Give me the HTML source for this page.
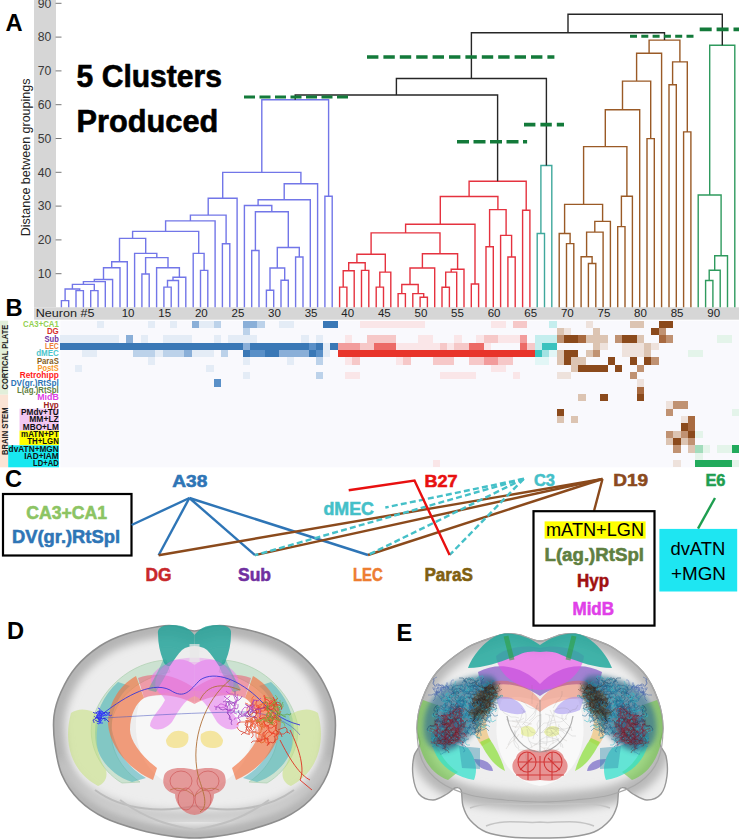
<!DOCTYPE html>
<html><head><meta charset="utf-8"><style>
html,body{margin:0;padding:0;background:#fff;width:739px;height:840px;overflow:hidden}
svg{display:block}
text{font-family:'Liberation Sans', sans-serif}
</style></head><body>
<svg width="739" height="840" viewBox="0 0 739 840">
<rect width="739" height="840" fill="#fff"/>
<rect x="34" y="0" width="22" height="307.3" fill="#d6d6d6"/>
<rect x="34" y="307.3" width="705" height="12.4" fill="#d6d6d6"/>
<path d="M55.6 273.7H61.5" stroke="#777" stroke-width="1"/>
<text x="51.3" y="278.0" font-size="12.2" fill="#3a3a3a" text-anchor="end">10</text>
<path d="M55.6 239.9H61.5" stroke="#777" stroke-width="1"/>
<text x="51.3" y="244.2" font-size="12.2" fill="#3a3a3a" text-anchor="end">20</text>
<path d="M55.6 206.1H61.5" stroke="#777" stroke-width="1"/>
<text x="51.3" y="210.4" font-size="12.2" fill="#3a3a3a" text-anchor="end">30</text>
<path d="M55.6 172.3H61.5" stroke="#777" stroke-width="1"/>
<text x="51.3" y="176.6" font-size="12.2" fill="#3a3a3a" text-anchor="end">40</text>
<path d="M55.6 138.5H61.5" stroke="#777" stroke-width="1"/>
<text x="51.3" y="142.8" font-size="12.2" fill="#3a3a3a" text-anchor="end">50</text>
<path d="M55.6 104.7H61.5" stroke="#777" stroke-width="1"/>
<text x="51.3" y="109.0" font-size="12.2" fill="#3a3a3a" text-anchor="end">60</text>
<path d="M55.6 70.9H61.5" stroke="#777" stroke-width="1"/>
<text x="51.3" y="75.2" font-size="12.2" fill="#3a3a3a" text-anchor="end">70</text>
<path d="M55.6 37.1H61.5" stroke="#777" stroke-width="1"/>
<text x="51.3" y="41.4" font-size="12.2" fill="#3a3a3a" text-anchor="end">80</text>
<path d="M55.6 3.3H61.5" stroke="#777" stroke-width="1"/>
<text x="51.3" y="7.6" font-size="12.2" fill="#3a3a3a" text-anchor="end">90</text>
<text transform="translate(29.5 236.2) rotate(-90)" font-size="12" fill="#222" textLength="157.6" lengthAdjust="spacingAndGlyphs">Distance between groupings</text>
<text x="35.7" y="317.4" font-size="11.5" fill="#222" textLength="58.9" lengthAdjust="spacingAndGlyphs">Neuron #5</text>
<text x="128.1" y="317.4" font-size="11.5" fill="#222" text-anchor="middle">10</text>
<text x="164.7" y="317.4" font-size="11.5" fill="#222" text-anchor="middle">15</text>
<text x="201.3" y="317.4" font-size="11.5" fill="#222" text-anchor="middle">20</text>
<text x="237.9" y="317.4" font-size="11.5" fill="#222" text-anchor="middle">25</text>
<text x="274.5" y="317.4" font-size="11.5" fill="#222" text-anchor="middle">30</text>
<text x="311.1" y="317.4" font-size="11.5" fill="#222" text-anchor="middle">35</text>
<text x="347.7" y="317.4" font-size="11.5" fill="#222" text-anchor="middle">40</text>
<text x="384.3" y="317.4" font-size="11.5" fill="#222" text-anchor="middle">45</text>
<text x="420.9" y="317.4" font-size="11.5" fill="#222" text-anchor="middle">50</text>
<text x="457.5" y="317.4" font-size="11.5" fill="#222" text-anchor="middle">55</text>
<text x="494.1" y="317.4" font-size="11.5" fill="#222" text-anchor="middle">60</text>
<text x="530.7" y="317.4" font-size="11.5" fill="#222" text-anchor="middle">65</text>
<text x="567.3" y="317.4" font-size="11.5" fill="#222" text-anchor="middle">70</text>
<text x="603.9" y="317.4" font-size="11.5" fill="#222" text-anchor="middle">75</text>
<text x="640.5" y="317.4" font-size="11.5" fill="#222" text-anchor="middle">80</text>
<text x="677.1" y="317.4" font-size="11.5" fill="#222" text-anchor="middle">85</text>
<text x="713.7" y="317.4" font-size="11.5" fill="#222" text-anchor="middle">90</text>
<text x="5.5" y="31.1" font-size="23.7" font-weight="bold" fill="#000">A</text>
<text x="76.6" y="87" font-size="30.7" font-weight="bold" fill="#000" stroke="#000" stroke-width="0.6" textLength="145.4" lengthAdjust="spacingAndGlyphs">5 Clusters</text>
<text x="76.6" y="131.6" font-size="30.7" font-weight="bold" fill="#000" stroke="#000" stroke-width="0.6" textLength="141.7" lengthAdjust="spacingAndGlyphs">Produced</text>
<g fill="none" stroke-width="1.4"><path d="M61.4 307.3V300.6H68.7V307.3" stroke="#7276e8"/>
<path d="M76.0 307.3V290.6H83.4V307.3" stroke="#7276e8"/>
<path d="M65.1 300.6V289.0H79.7V290.6" stroke="#7276e8"/>
<path d="M90.7 307.3V290.6H98.0V307.3" stroke="#7276e8"/>
<path d="M72.4 289.0V284.4H94.3V290.6" stroke="#7276e8"/>
<path d="M83.4 284.4V281.6H105.3V307.3" stroke="#7276e8"/>
<path d="M94.3 281.6V279.5H112.6V307.3" stroke="#7276e8"/>
<path d="M103.5 279.5V267.8H120.0V307.3" stroke="#7276e8"/>
<path d="M111.7 267.8V261.8H127.3V307.3" stroke="#7276e8"/>
<path d="M141.9 307.3V274.0H149.2V307.3" stroke="#7276e8"/>
<path d="M163.9 307.3V287.1H171.2V307.3" stroke="#7276e8"/>
<path d="M167.5 287.1V280.5H178.5V307.3" stroke="#7276e8"/>
<path d="M173.0 280.5V277.3H185.8V307.3" stroke="#7276e8"/>
<path d="M156.6 307.3V267.8H179.4V277.3" stroke="#7276e8"/>
<path d="M145.6 274.0V257.6H168.0V267.8" stroke="#7276e8"/>
<path d="M134.6 307.3V253.4H156.8V257.6" stroke="#7276e8"/>
<path d="M119.5 261.8V238.4H145.7V253.4" stroke="#7276e8"/>
<path d="M200.5 307.3V270.4H207.8V307.3" stroke="#7276e8"/>
<path d="M193.2 307.3V253.4H204.1V270.4" stroke="#7276e8"/>
<path d="M132.6 238.4V231.4H198.7V253.4" stroke="#7276e8"/>
<path d="M165.6 231.4V220.9H215.1V307.3" stroke="#7276e8"/>
<path d="M222.4 307.3V243.7H229.8V307.3" stroke="#7276e8"/>
<path d="M190.4 220.9V215.1H226.1V243.7" stroke="#7276e8"/>
<path d="M208.2 215.1V198.2H237.1V307.3" stroke="#7276e8"/>
<path d="M266.4 307.3V290.3H273.7V307.3" stroke="#7276e8"/>
<path d="M281.0 307.3V280.3H288.3V307.3" stroke="#7276e8"/>
<path d="M270.0 290.3V268.0H284.7V280.3" stroke="#7276e8"/>
<path d="M295.6 307.3V257.0H303.0V307.3" stroke="#7276e8"/>
<path d="M277.3 268.0V247.5H299.3V257.0" stroke="#7276e8"/>
<path d="M251.7 307.3V250.5H259.0V307.3" stroke="#7276e8"/>
<path d="M255.4 250.5V211.7H288.3V247.5" stroke="#7276e8"/>
<path d="M244.4 307.3V205.5H271.8V211.7" stroke="#7276e8"/>
<path d="M258.1 205.5V199.7H310.3V307.3" stroke="#7276e8"/>
<path d="M284.2 199.7V183.7H317.6V307.3" stroke="#7276e8"/>
<path d="M222.7 198.2V172.4H300.9V183.7" stroke="#7276e8"/>
<path d="M324.9 307.3V196.2H332.2V307.3" stroke="#7276e8"/>
<path d="M261.8 172.4V99.7H328.6V196.2" stroke="#7276e8"/>
<path d="M339.6 307.3V287.1H346.9V307.3" stroke="#e5323f"/>
<path d="M343.2 287.1V270.7H354.2V307.3" stroke="#e5323f"/>
<path d="M361.5 307.3V270.4H368.8V307.3" stroke="#e5323f"/>
<path d="M348.7 270.7V262.7H365.2V270.4" stroke="#e5323f"/>
<path d="M376.2 307.3V287.1H383.5V307.3" stroke="#e5323f"/>
<path d="M379.8 287.1V272.1H390.8V307.3" stroke="#e5323f"/>
<path d="M356.9 262.7V254.3H385.3V272.1" stroke="#e5323f"/>
<path d="M398.1 307.3V293.6H405.4V307.3" stroke="#e5323f"/>
<path d="M420.1 307.3V297.2H427.4V307.3" stroke="#e5323f"/>
<path d="M412.8 307.3V293.6H423.7V297.2" stroke="#e5323f"/>
<path d="M401.8 293.6V284.5H418.2V293.6" stroke="#e5323f"/>
<path d="M410.0 284.5V268.0H434.7V307.3" stroke="#e5323f"/>
<path d="M442.0 307.3V287.3H449.4V307.3" stroke="#e5323f"/>
<path d="M445.7 287.3V272.1H456.7V307.3" stroke="#e5323f"/>
<path d="M451.2 272.1V269.3H464.0V307.3" stroke="#e5323f"/>
<path d="M422.4 268.0V253.8H457.6V269.3" stroke="#e5323f"/>
<path d="M371.1 254.3V232.9H440.0V253.8" stroke="#e5323f"/>
<path d="M471.3 307.3V284.0H478.6V307.3" stroke="#e5323f"/>
<path d="M405.6 232.9V224.2H475.0V284.0" stroke="#e5323f"/>
<path d="M486.0 307.3V246.7H493.3V307.3" stroke="#e5323f"/>
<path d="M507.9 307.3V257.0H515.2V307.3" stroke="#e5323f"/>
<path d="M500.6 307.3V235.4H511.6V257.0" stroke="#e5323f"/>
<path d="M489.6 246.7V209.6H506.1V235.4" stroke="#e5323f"/>
<path d="M440.3 224.2V196.5H497.9V209.6" stroke="#e5323f"/>
<path d="M522.6 307.3V210.2H529.9V307.3" stroke="#e5323f"/>
<path d="M469.1 196.5V181.2H526.2V210.2" stroke="#e5323f"/>
<path d="M537.2 307.3V233.5H544.5V307.3" stroke="#3fa89c"/>
<path d="M540.9 233.5V165.5H551.8V307.3" stroke="#3fa89c"/>
<path d="M566.5 307.3V243.6H573.8V307.3" stroke="#9a5a26"/>
<path d="M559.2 307.3V233.5H570.1V243.6" stroke="#9a5a26"/>
<path d="M588.4 307.3V263.5H595.8V307.3" stroke="#9a5a26"/>
<path d="M581.1 307.3V256.8H592.1V263.5" stroke="#9a5a26"/>
<path d="M586.6 256.8V232.1H603.1V307.3" stroke="#9a5a26"/>
<path d="M594.8 232.1V221.4H610.4V307.3" stroke="#9a5a26"/>
<path d="M564.6 233.5V204.4H602.6V221.4" stroke="#9a5a26"/>
<path d="M617.7 307.3V226.6H625.0V307.3" stroke="#9a5a26"/>
<path d="M621.4 226.6V196.3H632.4V307.3" stroke="#9a5a26"/>
<path d="M583.6 204.4V146.6H626.9V196.3" stroke="#9a5a26"/>
<path d="M605.3 146.6V109.8H639.7V307.3" stroke="#9a5a26"/>
<path d="M647.0 307.3V138.6H654.3V307.3" stroke="#9a5a26"/>
<path d="M622.5 109.8V81.1H650.7V138.6" stroke="#9a5a26"/>
<path d="M636.6 81.1V53.3H661.6V307.3" stroke="#9a5a26"/>
<path d="M669.0 307.3V84.8H676.3V307.3" stroke="#9a5a26"/>
<path d="M683.6 307.3V131.9H690.9V307.3" stroke="#9a5a26"/>
<path d="M672.6 84.8V61.9H687.3V131.9" stroke="#9a5a26"/>
<path d="M649.1 53.3V40.1H679.9V61.9" stroke="#9a5a26"/>
<path d="M705.6 307.3V280.5H712.9V307.3" stroke="#2f9a5e"/>
<path d="M709.2 280.5V270.3H720.2V307.3" stroke="#2f9a5e"/>
<path d="M714.7 270.3V255.8H727.5V307.3" stroke="#2f9a5e"/>
<path d="M698.2 307.3V195.0H721.1V255.8" stroke="#2f9a5e"/>
<path d="M709.7 195.0V45.3H734.8V307.3" stroke="#2f9a5e"/>
<path d="M295.2 99.7V95.0H497.6V181.2" stroke="#262626"/>
<path d="M396.4 95.0V78.5H546.4V165.5" stroke="#262626"/>
<path d="M471.4 78.5V32.8H664.5V40.1" stroke="#262626"/>
<path d="M568.0 32.8V14.3H722.3V45.3" stroke="#262626"/></g>
<g stroke="#137a3a" fill="none">
<path d="M244 97.1H351" stroke-width="3.0" stroke-dasharray="11 4.5"/>
<path d="M367 57H554.4" stroke-width="3.6" stroke-dasharray="11.4 5"/>
<path d="M524 124.6H564" stroke-width="3.6" stroke-dasharray="11.4 5"/>
<path d="M457 141.8H527.1" stroke-width="3.6" stroke-dasharray="12 4.5"/>
<path d="M630 36.2H694" stroke-width="2.9" stroke-dasharray="7 4.3"/>
<path d="M699.7 29.4H739" stroke-width="3.9" stroke-dasharray="12 4.9"/>
</g>
<rect x="60.4" y="320.7" width="678.6" height="146.6" fill="#f9f9fd"/>
<text x="5.5" y="315.8" font-size="23.7" font-weight="bold" fill="#000">B</text>
<rect x="0" y="320.7" width="8.1" height="74.0" fill="#e2efda"/>
<rect x="0" y="394.7" width="8.1" height="72.6" fill="#fbe4d5"/>
<rect x="19.5" y="408.7" width="39.5" height="22.0" fill="#f2c8f2"/>
<rect x="19.5" y="430.6" width="39.5" height="14.7" fill="#ffff00"/>
<rect x="8.2" y="445.3" width="50.8" height="22.0" fill="#18e8f0"/>
<text transform="translate(8 389.4) rotate(-90)" font-size="8.8" font-weight="bold" fill="#222" textLength="64.7" lengthAdjust="spacingAndGlyphs">CORTICAL PLATE</text>
<text transform="translate(8 455) rotate(-90)" font-size="8.8" font-weight="bold" fill="#222" textLength="47.5" lengthAdjust="spacingAndGlyphs">BRAIN STEM</text>
<text x="23.1" y="327.0" font-size="8.6" font-weight="bold" fill="#92d050" textLength="35.7" lengthAdjust="spacingAndGlyphs">CA3+CA1</text>
<text x="46.9" y="334.3" font-size="8.6" font-weight="bold" fill="#d9302c" textLength="11.9" lengthAdjust="spacingAndGlyphs">DG</text>
<text x="44.5" y="341.7" font-size="8.6" font-weight="bold" fill="#7030a0" textLength="14.3" lengthAdjust="spacingAndGlyphs">Sub</text>
<text x="45.0" y="349.0" font-size="8.6" font-weight="bold" fill="#ed7d31" textLength="13.8" lengthAdjust="spacingAndGlyphs">LEC</text>
<text x="36.2" y="356.3" font-size="8.6" font-weight="bold" fill="#4bc6cc" textLength="22.6" lengthAdjust="spacingAndGlyphs">dMEC</text>
<text x="36.9" y="363.6" font-size="8.6" font-weight="bold" fill="#846019" textLength="21.9" lengthAdjust="spacingAndGlyphs">ParaS</text>
<text x="37.6" y="371.0" font-size="8.6" font-weight="bold" fill="#f79a28" textLength="21.2" lengthAdjust="spacingAndGlyphs">PostS</text>
<text x="19.7" y="378.3" font-size="8.6" font-weight="bold" fill="#ff1a1a" textLength="39.1" lengthAdjust="spacingAndGlyphs">Retrohipp</text>
<text x="10.7" y="385.6" font-size="8.6" font-weight="bold" fill="#2e75b6" textLength="48.1" lengthAdjust="spacingAndGlyphs">DV(gr.)RtSpl</text>
<text x="16.9" y="393.0" font-size="8.6" font-weight="bold" fill="#5f7f41" textLength="41.9" lengthAdjust="spacingAndGlyphs">L(ag.)RtSpl</text>
<text x="37.3" y="400.3" font-size="8.6" font-weight="bold" fill="#e040e8" textLength="21.5" lengthAdjust="spacingAndGlyphs">MidB</text>
<text x="43.6" y="407.6" font-size="8.6" font-weight="bold" fill="#a02020" textLength="15.2" lengthAdjust="spacingAndGlyphs">Hyp</text>
<text x="21.1" y="415.0" font-size="8.6" font-weight="bold" fill="#111" textLength="37.7" lengthAdjust="spacingAndGlyphs">PMdv+TU</text>
<text x="29.3" y="422.3" font-size="8.6" font-weight="bold" fill="#111" textLength="29.5" lengthAdjust="spacingAndGlyphs">MM+LZ</text>
<text x="22.8" y="429.6" font-size="8.6" font-weight="bold" fill="#111" textLength="36" lengthAdjust="spacingAndGlyphs">MBO+LM</text>
<text x="21.1" y="436.9" font-size="8.6" font-weight="bold" fill="#111" textLength="37.7" lengthAdjust="spacingAndGlyphs">mATN+PT</text>
<text x="27.3" y="444.3" font-size="8.6" font-weight="bold" fill="#111" textLength="31.5" lengthAdjust="spacingAndGlyphs">TH+LGN</text>
<text x="8.6" y="451.6" font-size="8.6" font-weight="bold" fill="#111" textLength="50.2" lengthAdjust="spacingAndGlyphs">dvATN+MGN</text>
<text x="24.3" y="458.9" font-size="8.6" font-weight="bold" fill="#111" textLength="34.5" lengthAdjust="spacingAndGlyphs">IAD+IAM</text>
<text x="33.1" y="466.3" font-size="8.6" font-weight="bold" fill="#111" textLength="25.7" lengthAdjust="spacingAndGlyphs">LD+AD</text>
<rect x="96.88" y="320.70" width="7.30" height="7.33" fill="#e4ecf6" shape-rendering="crispEdges"/>
<rect x="147.96" y="320.70" width="7.30" height="7.33" fill="#e4ecf6" shape-rendering="crispEdges"/>
<rect x="169.85" y="320.70" width="7.30" height="7.33" fill="#e4ecf6" shape-rendering="crispEdges"/>
<rect x="191.75" y="320.70" width="7.30" height="7.33" fill="#8aafd8" shape-rendering="crispEdges"/>
<rect x="199.04" y="320.70" width="14.59" height="7.33" fill="#e4ecf6" shape-rendering="crispEdges"/>
<rect x="213.64" y="320.70" width="7.30" height="7.33" fill="#bcd2ea" shape-rendering="crispEdges"/>
<rect x="242.82" y="320.70" width="14.59" height="7.33" fill="#8aafd8" shape-rendering="crispEdges"/>
<rect x="257.42" y="320.70" width="7.30" height="7.33" fill="#bcd2ea" shape-rendering="crispEdges"/>
<rect x="279.31" y="320.70" width="14.59" height="7.33" fill="#e4ecf6" shape-rendering="crispEdges"/>
<rect x="323.09" y="320.70" width="14.59" height="7.33" fill="#3a78b6" shape-rendering="crispEdges"/>
<rect x="359.58" y="320.70" width="65.67" height="7.33" fill="#fae6e8" shape-rendering="crispEdges"/>
<rect x="490.92" y="320.70" width="14.59" height="7.33" fill="#fae6e8" shape-rendering="crispEdges"/>
<rect x="512.81" y="320.70" width="14.59" height="7.33" fill="#f6c8c8" shape-rendering="crispEdges"/>
<rect x="549.30" y="320.70" width="7.30" height="7.33" fill="#c4eeee" shape-rendering="crispEdges"/>
<rect x="585.78" y="320.70" width="7.30" height="7.33" fill="#eee2dc" shape-rendering="crispEdges"/>
<rect x="629.57" y="320.70" width="14.59" height="7.33" fill="#dcc4b2" shape-rendering="crispEdges"/>
<rect x="658.75" y="320.70" width="14.59" height="7.33" fill="#8b4a1c" shape-rendering="crispEdges"/>
<rect x="242.82" y="328.03" width="7.30" height="7.33" fill="#bcd2ea" shape-rendering="crispEdges"/>
<rect x="556.60" y="328.03" width="7.30" height="7.33" fill="#dcc4b2" shape-rendering="crispEdges"/>
<rect x="563.89" y="328.03" width="7.30" height="7.33" fill="#eee2dc" shape-rendering="crispEdges"/>
<rect x="593.08" y="328.03" width="7.30" height="7.33" fill="#dcc4b2" shape-rendering="crispEdges"/>
<rect x="651.46" y="328.03" width="7.30" height="7.33" fill="#8b4a1c" shape-rendering="crispEdges"/>
<rect x="658.75" y="328.03" width="7.30" height="7.33" fill="#c09272" shape-rendering="crispEdges"/>
<rect x="60.40" y="335.36" width="58.38" height="7.33" fill="#e4ecf6" shape-rendering="crispEdges"/>
<rect x="126.07" y="335.36" width="7.30" height="7.33" fill="#8aafd8" shape-rendering="crispEdges"/>
<rect x="140.67" y="335.36" width="7.30" height="7.33" fill="#e4ecf6" shape-rendering="crispEdges"/>
<rect x="162.56" y="335.36" width="29.19" height="7.33" fill="#e4ecf6" shape-rendering="crispEdges"/>
<rect x="213.64" y="335.36" width="7.30" height="7.33" fill="#e4ecf6" shape-rendering="crispEdges"/>
<rect x="228.23" y="335.36" width="29.19" height="7.33" fill="#e4ecf6" shape-rendering="crispEdges"/>
<rect x="301.20" y="335.36" width="7.30" height="7.33" fill="#e4ecf6" shape-rendering="crispEdges"/>
<rect x="315.79" y="335.36" width="7.30" height="7.33" fill="#e4ecf6" shape-rendering="crispEdges"/>
<rect x="344.98" y="335.36" width="7.30" height="7.33" fill="#fae6e8" shape-rendering="crispEdges"/>
<rect x="366.87" y="335.36" width="29.19" height="7.33" fill="#f6c8c8" shape-rendering="crispEdges"/>
<rect x="417.95" y="335.36" width="14.59" height="7.33" fill="#fae6e8" shape-rendering="crispEdges"/>
<rect x="454.44" y="335.36" width="7.30" height="7.33" fill="#fae6e8" shape-rendering="crispEdges"/>
<rect x="476.33" y="335.36" width="7.30" height="7.33" fill="#fae6e8" shape-rendering="crispEdges"/>
<rect x="483.63" y="335.36" width="14.59" height="7.33" fill="#f6c8c8" shape-rendering="crispEdges"/>
<rect x="498.22" y="335.36" width="21.89" height="7.33" fill="#fae6e8" shape-rendering="crispEdges"/>
<rect x="520.11" y="335.36" width="7.30" height="7.33" fill="#f29c9c" shape-rendering="crispEdges"/>
<rect x="534.71" y="335.36" width="21.89" height="7.33" fill="#c4eeee" shape-rendering="crispEdges"/>
<rect x="556.60" y="335.36" width="7.30" height="7.33" fill="#c09272" shape-rendering="crispEdges"/>
<rect x="563.89" y="335.36" width="14.59" height="7.33" fill="#8b4a1c" shape-rendering="crispEdges"/>
<rect x="578.49" y="335.36" width="7.30" height="7.33" fill="#a86a40" shape-rendering="crispEdges"/>
<rect x="585.78" y="335.36" width="21.89" height="7.33" fill="#dcc4b2" shape-rendering="crispEdges"/>
<rect x="614.97" y="335.36" width="7.30" height="7.33" fill="#c09272" shape-rendering="crispEdges"/>
<rect x="622.27" y="335.36" width="14.59" height="7.33" fill="#8b4a1c" shape-rendering="crispEdges"/>
<rect x="636.86" y="335.36" width="7.30" height="7.33" fill="#dcc4b2" shape-rendering="crispEdges"/>
<rect x="658.75" y="335.36" width="7.30" height="7.33" fill="#a86a40" shape-rendering="crispEdges"/>
<rect x="666.05" y="335.36" width="7.30" height="7.33" fill="#c09272" shape-rendering="crispEdges"/>
<rect x="717.13" y="335.36" width="14.59" height="7.33" fill="#e4f4ea" shape-rendering="crispEdges"/>
<rect x="60.40" y="342.69" width="182.42" height="7.33" fill="#3a78b6" shape-rendering="crispEdges"/>
<rect x="242.82" y="342.69" width="7.30" height="7.33" fill="#8aafd8" shape-rendering="crispEdges"/>
<rect x="250.12" y="342.69" width="58.38" height="7.33" fill="#3a78b6" shape-rendering="crispEdges"/>
<rect x="308.50" y="342.69" width="7.30" height="7.33" fill="#5a90c8" shape-rendering="crispEdges"/>
<rect x="315.79" y="342.69" width="7.30" height="7.33" fill="#3a78b6" shape-rendering="crispEdges"/>
<rect x="323.09" y="342.69" width="7.30" height="7.33" fill="#e4ecf6" shape-rendering="crispEdges"/>
<rect x="330.39" y="342.69" width="7.30" height="7.33" fill="#3a78b6" shape-rendering="crispEdges"/>
<rect x="337.69" y="342.69" width="21.89" height="7.33" fill="#f29c9c" shape-rendering="crispEdges"/>
<rect x="359.58" y="342.69" width="14.59" height="7.33" fill="#f6c8c8" shape-rendering="crispEdges"/>
<rect x="374.17" y="342.69" width="21.89" height="7.33" fill="#ec6a66" shape-rendering="crispEdges"/>
<rect x="396.06" y="342.69" width="43.78" height="7.33" fill="#fae6e8" shape-rendering="crispEdges"/>
<rect x="439.84" y="342.69" width="7.30" height="7.33" fill="#f6c8c8" shape-rendering="crispEdges"/>
<rect x="447.14" y="342.69" width="7.30" height="7.33" fill="#fae6e8" shape-rendering="crispEdges"/>
<rect x="454.44" y="342.69" width="14.59" height="7.33" fill="#f6c8c8" shape-rendering="crispEdges"/>
<rect x="469.03" y="342.69" width="14.59" height="7.33" fill="#ec6a66" shape-rendering="crispEdges"/>
<rect x="483.63" y="342.69" width="7.30" height="7.33" fill="#fae6e8" shape-rendering="crispEdges"/>
<rect x="520.11" y="342.69" width="7.30" height="7.33" fill="#ec6a66" shape-rendering="crispEdges"/>
<rect x="527.41" y="342.69" width="7.30" height="7.33" fill="#f6c8c8" shape-rendering="crispEdges"/>
<rect x="534.71" y="342.69" width="7.30" height="7.33" fill="#c4eeee" shape-rendering="crispEdges"/>
<rect x="542.00" y="342.69" width="14.59" height="7.33" fill="#3ac2be" shape-rendering="crispEdges"/>
<rect x="593.08" y="342.69" width="7.30" height="7.33" fill="#dcc4b2" shape-rendering="crispEdges"/>
<rect x="600.38" y="342.69" width="7.30" height="7.33" fill="#eee2dc" shape-rendering="crispEdges"/>
<rect x="622.27" y="342.69" width="21.89" height="7.33" fill="#eee2dc" shape-rendering="crispEdges"/>
<rect x="644.16" y="342.69" width="7.30" height="7.33" fill="#dcc4b2" shape-rendering="crispEdges"/>
<rect x="651.46" y="342.69" width="7.30" height="7.33" fill="#eee2dc" shape-rendering="crispEdges"/>
<rect x="82.29" y="350.02" width="14.59" height="7.33" fill="#e4ecf6" shape-rendering="crispEdges"/>
<rect x="133.37" y="350.02" width="21.89" height="7.33" fill="#bcd2ea" shape-rendering="crispEdges"/>
<rect x="155.26" y="350.02" width="7.30" height="7.33" fill="#e4ecf6" shape-rendering="crispEdges"/>
<rect x="162.56" y="350.02" width="21.89" height="7.33" fill="#bcd2ea" shape-rendering="crispEdges"/>
<rect x="184.45" y="350.02" width="7.30" height="7.33" fill="#8aafd8" shape-rendering="crispEdges"/>
<rect x="191.75" y="350.02" width="21.89" height="7.33" fill="#e4ecf6" shape-rendering="crispEdges"/>
<rect x="220.93" y="350.02" width="7.30" height="7.33" fill="#bcd2ea" shape-rendering="crispEdges"/>
<rect x="242.82" y="350.02" width="7.30" height="7.33" fill="#3a78b6" shape-rendering="crispEdges"/>
<rect x="250.12" y="350.02" width="14.59" height="7.33" fill="#5a90c8" shape-rendering="crispEdges"/>
<rect x="264.72" y="350.02" width="14.59" height="7.33" fill="#3a78b6" shape-rendering="crispEdges"/>
<rect x="279.31" y="350.02" width="29.19" height="7.33" fill="#8aafd8" shape-rendering="crispEdges"/>
<rect x="308.50" y="350.02" width="7.30" height="7.33" fill="#3a78b6" shape-rendering="crispEdges"/>
<rect x="315.79" y="350.02" width="7.30" height="7.33" fill="#5a90c8" shape-rendering="crispEdges"/>
<rect x="323.09" y="350.02" width="7.30" height="7.33" fill="#e4ecf6" shape-rendering="crispEdges"/>
<rect x="337.69" y="350.02" width="197.02" height="7.33" fill="#e8342a" shape-rendering="crispEdges"/>
<rect x="534.71" y="350.02" width="7.30" height="7.33" fill="#3ac2be" shape-rendering="crispEdges"/>
<rect x="542.00" y="350.02" width="7.30" height="7.33" fill="#a2e2e2" shape-rendering="crispEdges"/>
<rect x="549.30" y="350.02" width="7.30" height="7.33" fill="#e2f6f6" shape-rendering="crispEdges"/>
<rect x="556.60" y="350.02" width="7.30" height="7.33" fill="#dcc4b2" shape-rendering="crispEdges"/>
<rect x="563.89" y="350.02" width="14.59" height="7.33" fill="#8b4a1c" shape-rendering="crispEdges"/>
<rect x="585.78" y="350.02" width="7.30" height="7.33" fill="#dcc4b2" shape-rendering="crispEdges"/>
<rect x="593.08" y="350.02" width="7.30" height="7.33" fill="#c09272" shape-rendering="crispEdges"/>
<rect x="622.27" y="350.02" width="21.89" height="7.33" fill="#eee2dc" shape-rendering="crispEdges"/>
<rect x="644.16" y="350.02" width="7.30" height="7.33" fill="#dcc4b2" shape-rendering="crispEdges"/>
<rect x="687.94" y="350.02" width="14.59" height="7.33" fill="#e4f4ea" shape-rendering="crispEdges"/>
<rect x="147.96" y="357.35" width="7.30" height="7.33" fill="#e4ecf6" shape-rendering="crispEdges"/>
<rect x="242.82" y="357.35" width="7.30" height="7.33" fill="#e4ecf6" shape-rendering="crispEdges"/>
<rect x="286.61" y="357.35" width="7.30" height="7.33" fill="#e4ecf6" shape-rendering="crispEdges"/>
<rect x="315.79" y="357.35" width="7.30" height="7.33" fill="#bcd2ea" shape-rendering="crispEdges"/>
<rect x="344.98" y="357.35" width="7.30" height="7.33" fill="#fae6e8" shape-rendering="crispEdges"/>
<rect x="352.28" y="357.35" width="7.30" height="7.33" fill="#f6c8c8" shape-rendering="crispEdges"/>
<rect x="396.06" y="357.35" width="7.30" height="7.33" fill="#fae6e8" shape-rendering="crispEdges"/>
<rect x="403.36" y="357.35" width="7.30" height="7.33" fill="#f6c8c8" shape-rendering="crispEdges"/>
<rect x="432.55" y="357.35" width="21.89" height="7.33" fill="#f6c8c8" shape-rendering="crispEdges"/>
<rect x="469.03" y="357.35" width="14.59" height="7.33" fill="#f6c8c8" shape-rendering="crispEdges"/>
<rect x="483.63" y="357.35" width="14.59" height="7.33" fill="#f29c9c" shape-rendering="crispEdges"/>
<rect x="498.22" y="357.35" width="14.59" height="7.33" fill="#f6c8c8" shape-rendering="crispEdges"/>
<rect x="534.71" y="357.35" width="14.59" height="7.33" fill="#e2f6f6" shape-rendering="crispEdges"/>
<rect x="556.60" y="357.35" width="7.30" height="7.33" fill="#dcc4b2" shape-rendering="crispEdges"/>
<rect x="563.89" y="357.35" width="7.30" height="7.33" fill="#8b4a1c" shape-rendering="crispEdges"/>
<rect x="571.19" y="357.35" width="14.59" height="7.33" fill="#dcc4b2" shape-rendering="crispEdges"/>
<rect x="607.67" y="357.35" width="7.30" height="7.33" fill="#8b4a1c" shape-rendering="crispEdges"/>
<rect x="629.57" y="357.35" width="7.30" height="7.33" fill="#8b4a1c" shape-rendering="crispEdges"/>
<rect x="644.16" y="357.35" width="7.30" height="7.33" fill="#8b4a1c" shape-rendering="crispEdges"/>
<rect x="651.46" y="357.35" width="7.30" height="7.33" fill="#c09272" shape-rendering="crispEdges"/>
<rect x="74.99" y="364.68" width="7.30" height="7.33" fill="#e4ecf6" shape-rendering="crispEdges"/>
<rect x="206.34" y="364.68" width="7.30" height="7.33" fill="#e4ecf6" shape-rendering="crispEdges"/>
<rect x="490.92" y="364.68" width="14.59" height="7.33" fill="#fae6e8" shape-rendering="crispEdges"/>
<rect x="571.19" y="364.68" width="7.30" height="7.33" fill="#dcc4b2" shape-rendering="crispEdges"/>
<rect x="578.49" y="364.68" width="29.19" height="7.33" fill="#8b4a1c" shape-rendering="crispEdges"/>
<rect x="614.97" y="364.68" width="7.30" height="7.33" fill="#8b4a1c" shape-rendering="crispEdges"/>
<rect x="636.86" y="364.68" width="7.30" height="7.33" fill="#c09272" shape-rendering="crispEdges"/>
<rect x="242.82" y="372.01" width="7.30" height="7.33" fill="#e4ecf6" shape-rendering="crispEdges"/>
<rect x="315.79" y="372.01" width="7.30" height="7.33" fill="#bcd2ea" shape-rendering="crispEdges"/>
<rect x="344.98" y="372.01" width="14.59" height="7.33" fill="#fae6e8" shape-rendering="crispEdges"/>
<rect x="439.84" y="372.01" width="36.48" height="7.33" fill="#fae6e8" shape-rendering="crispEdges"/>
<rect x="512.81" y="372.01" width="7.30" height="7.33" fill="#fae6e8" shape-rendering="crispEdges"/>
<rect x="556.60" y="372.01" width="14.59" height="7.33" fill="#eee2dc" shape-rendering="crispEdges"/>
<rect x="629.57" y="372.01" width="7.30" height="7.33" fill="#c09272" shape-rendering="crispEdges"/>
<rect x="213.64" y="379.34" width="7.30" height="7.33" fill="#5a90c8" shape-rendering="crispEdges"/>
<rect x="636.86" y="379.34" width="7.30" height="7.33" fill="#eee2dc" shape-rendering="crispEdges"/>
<rect x="636.86" y="386.67" width="7.30" height="7.33" fill="#a86a40" shape-rendering="crispEdges"/>
<rect x="578.49" y="394.00" width="7.30" height="7.33" fill="#dcc4b2" shape-rendering="crispEdges"/>
<rect x="600.38" y="394.00" width="7.30" height="7.33" fill="#8b4a1c" shape-rendering="crispEdges"/>
<rect x="636.86" y="394.00" width="7.30" height="7.33" fill="#8b4a1c" shape-rendering="crispEdges"/>
<rect x="666.05" y="401.33" width="7.30" height="7.33" fill="#eee2dc" shape-rendering="crispEdges"/>
<rect x="673.35" y="401.33" width="14.59" height="7.33" fill="#c09272" shape-rendering="crispEdges"/>
<rect x="556.60" y="408.66" width="7.30" height="7.33" fill="#8b4a1c" shape-rendering="crispEdges"/>
<rect x="666.05" y="408.66" width="7.30" height="7.33" fill="#c09272" shape-rendering="crispEdges"/>
<rect x="731.72" y="408.66" width="7.30" height="7.33" fill="#e4f4ea" shape-rendering="crispEdges"/>
<rect x="556.60" y="415.99" width="7.30" height="7.33" fill="#dcc4b2" shape-rendering="crispEdges"/>
<rect x="571.19" y="415.99" width="7.30" height="7.33" fill="#dcc4b2" shape-rendering="crispEdges"/>
<rect x="680.64" y="415.99" width="7.30" height="7.33" fill="#eee2dc" shape-rendering="crispEdges"/>
<rect x="687.94" y="415.99" width="7.30" height="7.33" fill="#a86a40" shape-rendering="crispEdges"/>
<rect x="680.64" y="423.32" width="7.30" height="7.33" fill="#8b4a1c" shape-rendering="crispEdges"/>
<rect x="687.94" y="423.32" width="7.30" height="7.33" fill="#a86a40" shape-rendering="crispEdges"/>
<rect x="666.05" y="430.65" width="7.30" height="7.33" fill="#c09272" shape-rendering="crispEdges"/>
<rect x="673.35" y="430.65" width="7.30" height="7.33" fill="#dcc4b2" shape-rendering="crispEdges"/>
<rect x="680.64" y="430.65" width="7.30" height="7.33" fill="#c09272" shape-rendering="crispEdges"/>
<rect x="687.94" y="430.65" width="7.30" height="7.33" fill="#8b4a1c" shape-rendering="crispEdges"/>
<rect x="695.24" y="430.65" width="7.30" height="7.33" fill="#e4f4ea" shape-rendering="crispEdges"/>
<rect x="666.05" y="437.98" width="7.30" height="7.33" fill="#dcc4b2" shape-rendering="crispEdges"/>
<rect x="673.35" y="437.98" width="7.30" height="7.33" fill="#8b4a1c" shape-rendering="crispEdges"/>
<rect x="680.64" y="437.98" width="7.30" height="7.33" fill="#dcc4b2" shape-rendering="crispEdges"/>
<rect x="687.94" y="437.98" width="7.30" height="7.33" fill="#c09272" shape-rendering="crispEdges"/>
<rect x="673.35" y="445.31" width="7.30" height="7.33" fill="#c09272" shape-rendering="crispEdges"/>
<rect x="687.94" y="445.31" width="7.30" height="7.33" fill="#dcc4b2" shape-rendering="crispEdges"/>
<rect x="695.24" y="445.31" width="7.30" height="7.33" fill="#a2dcbc" shape-rendering="crispEdges"/>
<rect x="702.54" y="445.31" width="7.30" height="7.33" fill="#e4f4ea" shape-rendering="crispEdges"/>
<rect x="717.13" y="445.31" width="14.59" height="7.33" fill="#e4f4ea" shape-rendering="crispEdges"/>
<rect x="731.72" y="445.31" width="7.30" height="7.33" fill="#22aa5c" shape-rendering="crispEdges"/>
<rect x="695.24" y="452.64" width="7.30" height="7.33" fill="#e4f4ea" shape-rendering="crispEdges"/>
<rect x="432.55" y="459.97" width="7.30" height="7.33" fill="#fae6e8" shape-rendering="crispEdges"/>
<rect x="673.35" y="459.97" width="7.30" height="7.33" fill="#eee2dc" shape-rendering="crispEdges"/>
<rect x="695.24" y="459.97" width="36.48" height="7.33" fill="#22aa5c" shape-rendering="crispEdges"/>
<rect x="731.72" y="459.97" width="7.30" height="7.33" fill="#e4f4ea" shape-rendering="crispEdges"/>
<text x="5" y="487" font-size="23.7" font-weight="bold" fill="#000">C</text>
<rect x="3" y="494" width="128.5" height="61.5" fill="none" stroke="#000" stroke-width="2.2"/>
<text x="26.2" y="519" font-size="17.8" font-weight="bold" fill="#8cc463" stroke="#8cc463" stroke-width="0.55" textLength="80.8" lengthAdjust="spacingAndGlyphs">CA3+CA1</text>
<text x="12" y="542.5" font-size="17.8" font-weight="bold" fill="#2e75b6" stroke="#2e75b6" stroke-width="0.55" textLength="108" lengthAdjust="spacingAndGlyphs">DV(gr.)RtSpl</text>
<path d="M189.4 498L131.6 525" stroke="#2e75b6" stroke-width="2.4" fill="none"/>
<path d="M189.4 498L158.6 555.2" stroke="#2e75b6" stroke-width="2.4" fill="none"/>
<path d="M189.4 498L255 555.2" stroke="#2e75b6" stroke-width="2.4" fill="none"/>
<path d="M189.4 498L368 555" stroke="#2e75b6" stroke-width="2.4" fill="none"/>
<path d="M602.5 479L158.6 555.2" stroke="#8b4a1c" stroke-width="2.4" fill="none"/>
<path d="M602.5 479L255 555.2" stroke="#8b4a1c" stroke-width="2.4" fill="none"/>
<path d="M602.5 479L368 555" stroke="#8b4a1c" stroke-width="2.4" fill="none"/>
<path d="M602.5 479L594 511" stroke="#8b4a1c" stroke-width="2.4" fill="none"/>
<path d="M523.8 478.8L385.3 507.5" stroke="#45c0c8" stroke-width="2.4" fill="none" stroke-dasharray="6 3.2"/>
<path d="M523.8 478.8L255 555.2" stroke="#45c0c8" stroke-width="2.4" fill="none" stroke-dasharray="6 3.2"/>
<path d="M523.8 478.8L368 555" stroke="#45c0c8" stroke-width="2.4" fill="none" stroke-dasharray="6 3.2"/>
<path d="M523.8 478.8L449.6 555" stroke="#45c0c8" stroke-width="2.4" fill="none" stroke-dasharray="6 3.2"/>
<path d="M348.7 490.2L414.5 480.6L449.6 555" stroke="#e81010" stroke-width="2.4" fill="none"/>
<path d="M715 498L698 528.6" stroke="#1e9e50" stroke-width="2.4"/>
<text x="172.2" y="486.6" font-size="16.5" font-weight="bold" stroke="#2e75b6" stroke-width="0.55" fill="#2e75b6" textLength="35.1" lengthAdjust="spacingAndGlyphs">A38</text>
<text x="424.4" y="487.4" font-size="16.5" font-weight="bold" stroke="#e81010" stroke-width="0.55" fill="#e81010" textLength="33.1" lengthAdjust="spacingAndGlyphs">B27</text>
<text x="534" y="486" font-size="16.5" font-weight="bold" stroke="#45c0c8" stroke-width="0.55" fill="#45c0c8" textLength="21.0" lengthAdjust="spacingAndGlyphs">C3</text>
<text x="613.2" y="486" font-size="16.5" font-weight="bold" stroke="#8b4a1c" stroke-width="0.55" fill="#8b4a1c" textLength="34.9" lengthAdjust="spacingAndGlyphs">D19</text>
<text x="705.4" y="486" font-size="16.5" font-weight="bold" stroke="#1e9e50" stroke-width="0.55" fill="#1e9e50" textLength="20.0" lengthAdjust="spacingAndGlyphs">E6</text>
<text x="323.4" y="515.2" font-size="18.5" font-weight="bold" stroke="#45c0c8" stroke-width="0.55" fill="#45c0c8" textLength="50.6" lengthAdjust="spacingAndGlyphs">dMEC</text>
<text x="145.6" y="580.8" font-size="18.5" font-weight="bold" stroke="#c8282a" stroke-width="0.55" fill="#c8282a" textLength="26.0" lengthAdjust="spacingAndGlyphs">DG</text>
<text x="238" y="580.8" font-size="18.5" font-weight="bold" stroke="#7030a0" stroke-width="0.55" fill="#7030a0" textLength="33.0" lengthAdjust="spacingAndGlyphs">Sub</text>
<text x="353" y="580.8" font-size="18.5" font-weight="bold" stroke="#ed7d31" stroke-width="0.55" fill="#ed7d31" textLength="29.8" lengthAdjust="spacingAndGlyphs">LEC</text>
<text x="424.4" y="580.8" font-size="18.5" font-weight="bold" stroke="#806010" stroke-width="0.55" fill="#806010" textLength="48.6" lengthAdjust="spacingAndGlyphs">ParaS</text>
<rect x="533.5" y="511.2" width="121" height="114.4" fill="none" stroke="#000" stroke-width="2.2"/>
<rect x="544.6" y="521.4" width="101" height="17.2" fill="#ffff00"/>
<text x="546" y="535.6" font-size="17.5" fill="#000" textLength="98.0" lengthAdjust="spacingAndGlyphs">mATN+LGN</text>
<text x="544.5" y="560.5" font-size="17.5" font-weight="bold" stroke="#5f7f41" stroke-width="0.55" fill="#5f7f41" textLength="99.5" lengthAdjust="spacingAndGlyphs">L(ag.)RtSpl</text>
<text x="577" y="587.3" font-size="17.5" font-weight="bold" stroke="#a01010" stroke-width="0.55" fill="#a01010" textLength="32.0" lengthAdjust="spacingAndGlyphs">Hyp</text>
<text x="572.5" y="615" font-size="17.5" font-weight="bold" stroke="#e040e8" stroke-width="0.55" fill="#e040e8" textLength="41.5" lengthAdjust="spacingAndGlyphs">MidB</text>
<rect x="659.4" y="528.9" width="77.8" height="62.6" fill="#1ee6f2"/>
<text x="670.4" y="555.4" font-size="19" fill="#000" textLength="55.0" lengthAdjust="spacingAndGlyphs">dvATN</text>
<text x="671" y="580.3" font-size="19" fill="#000" textLength="55.0" lengthAdjust="spacingAndGlyphs">+MGN</text>
<text x="7.1" y="639.4" font-size="23.7" font-weight="bold" fill="#000">D</text>
<text x="396.5" y="640.5" font-size="23.7" font-weight="bold" fill="#000">E</text>
<defs><filter id="bl" x="-5%" y="-5%" width="110%" height="110%"><feGaussianBlur stdDeviation="0.7"/></filter><filter id="bl2" x="-30%" y="-30%" width="160%" height="160%"><feGaussianBlur stdDeviation="2.5"/></filter><filter id="bl4" x="-10%" y="-10%" width="120%" height="120%"><feGaussianBlur stdDeviation="4"/></filter></defs>
<clipPath id="cD"><path d="M194.5 631.0C188.0 631.0 180.9 626.8 175.0 626.0C169.1 625.2 167.2 625.2 159.0 626.5C150.8 627.8 135.8 630.8 126.0 634.0C116.2 637.2 108.3 640.5 100.0 646.0C91.7 651.5 82.5 659.3 76.0 667.0C69.5 674.7 64.7 683.8 61.0 692.0C57.3 700.2 55.0 707.2 54.0 716.0C53.0 724.8 53.7 735.2 55.0 745.0C56.3 754.8 58.0 765.8 62.0 775.0C66.0 784.2 71.8 792.8 79.0 800.0C86.2 807.2 94.8 813.0 105.0 818.0C115.2 823.0 129.2 827.0 140.0 830.0C150.8 833.0 160.9 834.7 170.0 836.0C179.1 837.3 186.3 838.0 194.5 838.0C202.7 838.0 209.9 837.3 219.0 836.0C228.1 834.7 238.2 833.0 249.0 830.0C259.8 827.0 273.8 823.0 284.0 818.0C294.2 813.0 302.8 807.2 310.0 800.0C317.2 792.8 323.0 784.2 327.0 775.0C331.0 765.8 332.7 754.8 334.0 745.0C335.3 735.2 336.0 724.8 335.0 716.0C334.0 707.2 331.7 700.2 328.0 692.0C324.3 683.8 319.5 674.7 313.0 667.0C306.5 659.3 297.3 651.5 289.0 646.0C280.7 640.5 272.8 637.2 263.0 634.0C253.2 630.8 238.2 627.8 230.0 626.5C221.8 625.2 219.9 625.2 214.0 626.0C208.1 626.8 201.0 631.0 194.5 631.0Z"/></clipPath>
<g filter="url(#bl)">
<path d="M194.5 631.0C188.0 631.0 180.9 626.8 175.0 626.0C169.1 625.2 167.2 625.2 159.0 626.5C150.8 627.8 135.8 630.8 126.0 634.0C116.2 637.2 108.3 640.5 100.0 646.0C91.7 651.5 82.5 659.3 76.0 667.0C69.5 674.7 64.7 683.8 61.0 692.0C57.3 700.2 55.0 707.2 54.0 716.0C53.0 724.8 53.7 735.2 55.0 745.0C56.3 754.8 58.0 765.8 62.0 775.0C66.0 784.2 71.8 792.8 79.0 800.0C86.2 807.2 94.8 813.0 105.0 818.0C115.2 823.0 129.2 827.0 140.0 830.0C150.8 833.0 160.9 834.7 170.0 836.0C179.1 837.3 186.3 838.0 194.5 838.0C202.7 838.0 209.9 837.3 219.0 836.0C228.1 834.7 238.2 833.0 249.0 830.0C259.8 827.0 273.8 823.0 284.0 818.0C294.2 813.0 302.8 807.2 310.0 800.0C317.2 792.8 323.0 784.2 327.0 775.0C331.0 765.8 332.7 754.8 334.0 745.0C335.3 735.2 336.0 724.8 335.0 716.0C334.0 707.2 331.7 700.2 328.0 692.0C324.3 683.8 319.5 674.7 313.0 667.0C306.5 659.3 297.3 651.5 289.0 646.0C280.7 640.5 272.8 637.2 263.0 634.0C253.2 630.8 238.2 627.8 230.0 626.5C221.8 625.2 219.9 625.2 214.0 626.0C208.1 626.8 201.0 631.0 194.5 631.0Z" fill="#ededed"/>
<g clip-path="url(#cD)">
<path d="M194.5 631.0C188.0 631.0 180.9 626.8 175.0 626.0C169.1 625.2 167.2 625.2 159.0 626.5C150.8 627.8 135.8 630.8 126.0 634.0C116.2 637.2 108.3 640.5 100.0 646.0C91.7 651.5 82.5 659.3 76.0 667.0C69.5 674.7 64.7 683.8 61.0 692.0C57.3 700.2 55.0 707.2 54.0 716.0C53.0 724.8 53.7 735.2 55.0 745.0C56.3 754.8 58.0 765.8 62.0 775.0C66.0 784.2 71.8 792.8 79.0 800.0C86.2 807.2 94.8 813.0 105.0 818.0C115.2 823.0 129.2 827.0 140.0 830.0C150.8 833.0 160.9 834.7 170.0 836.0C179.1 837.3 186.3 838.0 194.5 838.0C202.7 838.0 209.9 837.3 219.0 836.0C228.1 834.7 238.2 833.0 249.0 830.0C259.8 827.0 273.8 823.0 284.0 818.0C294.2 813.0 302.8 807.2 310.0 800.0C317.2 792.8 323.0 784.2 327.0 775.0C331.0 765.8 332.7 754.8 334.0 745.0C335.3 735.2 336.0 724.8 335.0 716.0C334.0 707.2 331.7 700.2 328.0 692.0C324.3 683.8 319.5 674.7 313.0 667.0C306.5 659.3 297.3 651.5 289.0 646.0C280.7 640.5 272.8 637.2 263.0 634.0C253.2 630.8 238.2 627.8 230.0 626.5C221.8 625.2 219.9 625.2 214.0 626.0C208.1 626.8 201.0 631.0 194.5 631.0Z" fill="none" stroke="#b4b4b4" stroke-width="22" filter="url(#bl4)"/>
<path d="M60 760 C80 800 130 818 194.5 816 C259 818 309 800 329 760" fill="none" stroke="#c4c4c4" stroke-width="10" filter="url(#bl4)"/>
<path d="M95 790 C125 812 165 812 194.5 806 C224 812 264 812 294 790" fill="none" stroke="#bcbcbc" stroke-width="2"/>
<path d="M120 800 C150 822 175 826 194.5 830 C214 826 239 822 269 800" fill="none" stroke="#c0c0c0" stroke-width="2"/>
</g>
<path d="M194.5 631.0C188.0 631.0 180.9 626.8 175.0 626.0C169.1 625.2 167.2 625.2 159.0 626.5C150.8 627.8 135.8 630.8 126.0 634.0C116.2 637.2 108.3 640.5 100.0 646.0C91.7 651.5 82.5 659.3 76.0 667.0C69.5 674.7 64.7 683.8 61.0 692.0C57.3 700.2 55.0 707.2 54.0 716.0C53.0 724.8 53.7 735.2 55.0 745.0C56.3 754.8 58.0 765.8 62.0 775.0C66.0 784.2 71.8 792.8 79.0 800.0C86.2 807.2 94.8 813.0 105.0 818.0C115.2 823.0 129.2 827.0 140.0 830.0C150.8 833.0 160.9 834.7 170.0 836.0C179.1 837.3 186.3 838.0 194.5 838.0C202.7 838.0 209.9 837.3 219.0 836.0C228.1 834.7 238.2 833.0 249.0 830.0C259.8 827.0 273.8 823.0 284.0 818.0C294.2 813.0 302.8 807.2 310.0 800.0C317.2 792.8 323.0 784.2 327.0 775.0C331.0 765.8 332.7 754.8 334.0 745.0C335.3 735.2 336.0 724.8 335.0 716.0C334.0 707.2 331.7 700.2 328.0 692.0C324.3 683.8 319.5 674.7 313.0 667.0C306.5 659.3 297.3 651.5 289.0 646.0C280.7 640.5 272.8 637.2 263.0 634.0C253.2 630.8 238.2 627.8 230.0 626.5C221.8 625.2 219.9 625.2 214.0 626.0C208.1 626.8 201.0 631.0 194.5 631.0Z" fill="none" stroke="#8e8e8e" stroke-width="1.6"/>
<path d="M140 700 C155 692 178 696 194.5 702 C211 696 234 692 249 700 C262 740 245 785 194.5 792 C144 785 127 740 140 700Z" fill="#f8f8f8" opacity="0.85"/>
<path d="M166 660 C130 662 100 690 92 722 C88 745 100 770 122 783 L140 782 C115 765 108 740 112 720 C118 695 140 678 170 672 Z" fill="#9cd4a8" opacity="0.4" stroke="#5aa860" stroke-width="0.8"/><path d="M118 682 C100 698 92 722 96 744 C100 762 114 776 132 782 L146 778 C128 768 116 750 112 730 C110 712 118 696 130 686 Z" fill="#38acb8" opacity="0.5"/><path d="M71 713 C64 738 68 770 98 786 C104 784 108 778 106 770 C96 755 94 735 100 716 C90 708 78 708 71 713Z" fill="#c4e07a" opacity="0.55"/><path d="M136 676 C118 686 108 705 108 724 C110 748 130 770 153 780 L157 768 C140 755 130 740 130 730 C130 715 136 703 144 698 Z" fill="#f27444" opacity="0.68"/><path d="M138 678 C160 670 180 678 194.5 688 L194.5 704 C180 696 160 692 144 698 Z" fill="#f04a64" opacity="0.5"/><path d="M194.5 665 C185 658 175 658 166 664 C154 670 148 678 152 684 C156 690 162 694 165 700 C160 710 150 718 150 726 C155 732 165 730 172 722 C178 712 184 700 194.5 696 Z" fill="#e676ee" opacity="0.55"/><path d="M194.5 635 C190 629 184 625 172 625 C162 625 157 628 158 634 C158 644 160 652 163 660 C164 664 166 666 170 666 C174 660 178 654 182 650 C186 647 190 646 194.5 646 Z" fill="#26a39a" opacity="0.85"/><path d="M163 660 C158 672 152 682 148 690 L156 692 C162 682 168 672 170 666 Z" fill="#26a39a" opacity="0.4"/><path d="M166 740 C170 730 180 728 188 734 C190 742 186 748 176 748 C170 748 166 746 166 740Z" fill="#f2e08a" opacity="0.8"/>
<g transform="translate(389.0 0) scale(-1 1)"><path d="M166 660 C130 662 100 690 92 722 C88 745 100 770 122 783 L140 782 C115 765 108 740 112 720 C118 695 140 678 170 672 Z" fill="#9cd4a8" opacity="0.4" stroke="#5aa860" stroke-width="0.8"/><path d="M118 682 C100 698 92 722 96 744 C100 762 114 776 132 782 L146 778 C128 768 116 750 112 730 C110 712 118 696 130 686 Z" fill="#38acb8" opacity="0.5"/><path d="M71 713 C64 738 68 770 98 786 C104 784 108 778 106 770 C96 755 94 735 100 716 C90 708 78 708 71 713Z" fill="#c4e07a" opacity="0.55"/><path d="M136 676 C118 686 108 705 108 724 C110 748 130 770 153 780 L157 768 C140 755 130 740 130 730 C130 715 136 703 144 698 Z" fill="#f27444" opacity="0.68"/><path d="M138 678 C160 670 180 678 194.5 688 L194.5 704 C180 696 160 692 144 698 Z" fill="#f04a64" opacity="0.5"/><path d="M194.5 665 C185 658 175 658 166 664 C154 670 148 678 152 684 C156 690 162 694 165 700 C160 710 150 718 150 726 C155 732 165 730 172 722 C178 712 184 700 194.5 696 Z" fill="#e676ee" opacity="0.55"/><path d="M194.5 635 C190 629 184 625 172 625 C162 625 157 628 158 634 C158 644 160 652 163 660 C164 664 166 666 170 666 C174 660 178 654 182 650 C186 647 190 646 194.5 646 Z" fill="#26a39a" opacity="0.85"/><path d="M163 660 C158 672 152 682 148 690 L156 692 C162 682 168 672 170 666 Z" fill="#26a39a" opacity="0.4"/><path d="M166 740 C170 730 180 728 188 734 C190 742 186 748 176 748 C170 748 166 746 166 740Z" fill="#f2e08a" opacity="0.8"/></g>
<path d="M168 663 C178 656 211 656 221 663 C232 671 238 684 230 694 C210 690 179 690 159 694 C151 684 157 671 168 663Z" fill="#e676ee" opacity="0.35"/>
<path d="M194.5 644 L194.5 662" stroke="#e8e8e8" stroke-width="10" opacity="0.7"/>
<path d="M164 776 C166 768 180 766 194.5 770 C209 766 223 768 225 776 C228 786 222 792 214 794 C214 804 206 814 194.5 815 C183 814 175 804 175 794 C167 792 161 786 164 776Z" fill="#dc7070" opacity="0.7"/>
<g fill="none" stroke="#c03030" stroke-width="0.7" opacity="0.6"><ellipse cx="181" cy="781" rx="11" ry="10"/><ellipse cx="208" cy="781" rx="11" ry="10"/><ellipse cx="186" cy="799" rx="8" ry="11"/><ellipse cx="203" cy="799" rx="8" ry="11"/><path d="M170 790 C180 785 190 792 194.5 796 C199 792 209 785 219 790" stroke="#a05010"/></g>
</g>
<g fill="none" stroke-width="0.9">
<path d="M100 716 C120 700 150 680 170 690 C185 700 190 690 200 680 C215 670 240 680 260 700 C270 710 280 720 300 725" stroke="#3838d8"/>
<path d="M104 718 C140 716 200 712 250 712 C270 714 290 722 300 735" stroke="#4a58c0" opacity="0.6"/>
<path d="M230 680 C205 700 190 740 198 775 C202 790 210 805 200 812" stroke="#b07038"/>
<path d="M240 690 C215 680 205 690 200 700" stroke="#b07038"/>
</g>
<g fill="none" stroke-width="0.9" opacity="0.9" stroke-linejoin="round"><path d="M103 714 L101 714 L99 714 L99 713 L97 713 L96 714" stroke="#3030ff"/><path d="M99 718 L101 718 L102 719 L104 718 L105 719 L105 721" stroke="#2020e0"/><path d="M102 716 L104 716 L105 715 L106 714 L108 714 L110 714" stroke="#3030ff"/><path d="M104 715 L106 716 L107 715 L109 715 L110 716 L112 715" stroke="#3030ff"/><path d="M100 720 L99 718 L98 718 L96 718 L95 717 L94 716" stroke="#3030ff"/><path d="M101 712 L100 714 L99 715 L100 716 L100 718 L100 720" stroke="#3030ff"/><path d="M96 717 L97 717 L99 718 L100 719 L101 720 L102 721" stroke="#3030ff"/><path d="M101 715 L102 717 L101 718 L99 718 L98 718 L96 717" stroke="#2020e0"/><path d="M99 715 L99 713 L101 713 L103 713 L104 713 L105 714" stroke="#3030ff"/><path d="M103 719 L104 718 L106 719 L107 720 L108 721 L109 722" stroke="#2020e0"/><path d="M100 715 L100 713 L99 712 L100 710 L100 709 L98 708" stroke="#3030ff"/><path d="M100 712 L101 713 L102 714 L102 716 L100 717 L99 717" stroke="#3030ff"/><path d="M100 718 L100 720 L100 721 L100 723 L101 723 L103 723" stroke="#3030ff"/><path d="M100 713 L99 715 L98 716 L98 718 L98 719 L100 720" stroke="#3030ff"/><path d="M98 718 L99 720 L99 721 L98 722 L97 721 L95 720" stroke="#2020e0"/><path d="M97 715 L98 717 L98 718 L99 720 L100 721 L99 723" stroke="#3030ff"/><path d="M97 717 L96 718 L95 719 L93 720 L94 722 L94 723" stroke="#2020e0"/><path d="M104 714 L104 713 L106 712 L107 713 L109 713 L110 712" stroke="#2020e0"/><path d="M101 719 L99 719 L98 718 L97 717 L97 715 L98 714" stroke="#2020e0"/><path d="M99 715 L99 716 L99 718 L100 719 L101 719 L103 719" stroke="#3030ff"/><path d="M100 712 L99 711 L97 712 L96 713 L94 713 L93 712" stroke="#2020e0"/><path d="M98 714 L99 712 L100 712 L102 711 L103 712 L104 713" stroke="#3030ff"/><path d="M103 716 L104 715 L104 714 L103 713 L102 711 L100 711" stroke="#3030ff"/><path d="M101 719 L100 720 L101 722 L100 723 L98 724 L97 723" stroke="#3030ff"/><path d="M96 716 L98 716 L98 714 L99 713 L101 713 L102 715" stroke="#3030ff"/></g>
<g fill="none" stroke-width="0.8" opacity="0.85" stroke-linejoin="round"><path d="M272 734 L270 732 L268 730 L267 728 L266 726 L264 724 L261 724" stroke="#ff5030"/><path d="M269 739 L266 739 L265 737 L263 736 L263 733 L265 732 L267 730" stroke="#d02818"/><path d="M279 722 L279 719 L277 717 L275 717 L273 718 L272 721 L271 723" stroke="#d02818"/><path d="M271 733 L273 733 L275 735 L277 736 L278 739 L275 740 L275 743" stroke="#ff5030"/><path d="M272 721 L269 721 L268 718 L267 716 L268 713 L269 711 L271 709" stroke="#ff5030"/><path d="M256 728 L253 727 L251 725 L251 723 L253 721 L256 721 L257 724" stroke="#e06020"/><path d="M250 734 L247 734 L245 733 L243 732 L240 731 L238 729 L237 727" stroke="#d02818"/><path d="M272 722 L270 723 L267 722 L266 720 L265 718 L262 719 L260 718" stroke="#e83020"/><path d="M247 721 L248 723 L247 726 L248 728 L250 730 L249 732 L249 735" stroke="#f04020"/><path d="M274 736 L276 736 L278 734 L278 732 L276 730 L273 732 L274 734" stroke="#e83020"/><path d="M265 703 L268 703 L270 704 L272 702 L274 700 L276 700 L278 698" stroke="#e83020"/><path d="M265 732 L264 734 L265 737 L265 739 L265 742 L267 743 L270 744" stroke="#ff5030"/><path d="M273 733 L271 735 L269 736 L267 738 L268 741 L269 743 L268 745" stroke="#f04020"/><path d="M260 732 L258 733 L256 732 L253 732 L251 733 L249 732 L247 730" stroke="#e06020"/><path d="M277 733 L279 734 L282 734 L284 734 L286 732 L288 732 L290 734" stroke="#e83020"/><path d="M266 709 L264 707 L264 704 L266 702 L265 700 L265 697 L264 695" stroke="#e83020"/><path d="M254 711 L255 713 L258 713 L259 711 L258 709 L259 706 L257 705" stroke="#e83020"/><path d="M265 719 L264 721 L263 723 L261 725 L259 723 L258 721 L256 719" stroke="#e06020"/><path d="M246 718 L249 719 L251 720 L251 722 L251 725 L250 727 L252 729" stroke="#e83020"/><path d="M271 713 L273 712 L273 709 L274 707 L273 704 L271 703 L271 700" stroke="#e83020"/><path d="M269 720 L272 719 L271 717 L269 716 L266 716 L264 715 L262 715" stroke="#ff5030"/><path d="M253 719 L251 721 L248 721 L246 722 L245 725 L247 727 L249 727" stroke="#d02818"/><path d="M262 741 L259 741 L257 739 L256 737 L256 734 L256 732 L256 729" stroke="#ff5030"/><path d="M254 710 L252 709 L251 706 L252 704 L252 701 L252 698 L254 696" stroke="#ff5030"/><path d="M255 716 L255 719 L255 721 L252 722 L249 722 L248 720 L245 721" stroke="#d02818"/><path d="M252 718 L255 717 L257 718 L258 721 L257 723 L255 725 L255 727" stroke="#d02818"/><path d="M257 727 L258 725 L257 722 L255 721 L253 721 L252 719 L253 717" stroke="#ff5030"/><path d="M250 716 L248 714 L249 711 L249 709 L250 707 L251 704 L253 704" stroke="#e06020"/><path d="M272 721 L274 719 L274 717 L276 715 L278 713 L276 711 L274 709" stroke="#d02818"/><path d="M265 741 L264 738 L265 736 L266 734 L268 732 L271 732 L273 733" stroke="#f04020"/><path d="M270 707 L270 705 L272 704 L275 705 L277 705 L280 705 L281 707" stroke="#ff5030"/><path d="M264 735 L265 737 L265 740 L264 742 L261 743 L259 741 L257 742" stroke="#e06020"/><path d="M278 711 L278 708 L277 706 L277 704 L275 702 L274 699 L273 697" stroke="#d02818"/><path d="M269 707 L271 705 L274 705 L276 704 L279 705 L281 707 L282 709" stroke="#e83020"/><path d="M273 723 L271 721 L268 720 L266 720 L264 722 L265 725 L265 727" stroke="#f04020"/><path d="M263 735 L261 735 L258 734 L258 731 L259 729 L258 726 L256 725" stroke="#ff5030"/><path d="M282 720 L279 720 L277 721 L275 719 L272 718 L270 717 L268 716" stroke="#e06020"/><path d="M274 714 L275 717 L277 719 L276 721 L277 724 L276 726 L276 729" stroke="#e83020"/><path d="M269 708 L268 706 L266 704 L264 703 L262 704 L261 706 L259 707" stroke="#e06020"/><path d="M258 708 L259 705 L262 704 L264 702 L265 700 L265 697 L263 696" stroke="#ff5030"/><path d="M259 718 L261 716 L260 714 L261 711 L264 711 L266 709 L266 707" stroke="#f04020"/><path d="M254 704 L254 707 L255 709 L256 711 L256 714 L257 716 L257 719" stroke="#ff5030"/><path d="M256 732 L253 732 L252 730 L250 728 L250 726 L252 724 L254 724" stroke="#d02818"/><path d="M263 726 L266 726 L268 726 L270 724 L273 725 L275 726 L277 724" stroke="#f04020"/><path d="M260 713 L261 710 L260 708 L257 707 L256 705 L256 703 L257 700" stroke="#e83020"/><path d="M269 710 L270 707 L269 705 L270 702 L268 700 L265 699 L265 697" stroke="#e83020"/><path d="M264 703 L264 706 L267 707 L268 709 L268 712 L270 713 L270 716" stroke="#e06020"/><path d="M277 721 L275 719 L274 717 L274 715 L274 712 L275 710 L276 708" stroke="#ff5030"/><path d="M273 723 L275 721 L278 720 L278 718 L279 715 L280 713 L281 711" stroke="#ff5030"/><path d="M276 722 L274 724 L274 726 L276 728 L275 730 L277 732 L276 735" stroke="#e06020"/><path d="M253 730 L255 728 L255 725 L254 723 L252 722 L250 721 L247 722" stroke="#ff5030"/><path d="M256 716 L253 717 L251 719 L251 721 L253 723 L252 726 L249 727" stroke="#e06020"/><path d="M258 719 L259 722 L262 722 L264 722 L266 721 L269 719 L271 719" stroke="#e06020"/><path d="M256 711 L256 709 L259 708 L261 708 L264 708 L265 710 L268 710" stroke="#e83020"/><path d="M281 710 L282 707 L281 705 L280 703 L277 702 L275 704 L274 707" stroke="#d02818"/><path d="M274 726 L272 728 L269 728 L268 726 L266 725 L264 723 L264 720" stroke="#e83020"/><path d="M247 716 L250 718 L252 719 L253 722 L253 724 L252 727 L250 728" stroke="#ff5030"/><path d="M262 730 L262 728 L260 726 L258 725 L256 723 L257 721 L255 719" stroke="#e06020"/><path d="M274 736 L275 738 L275 741 L273 743 L270 742 L268 744 L267 746" stroke="#d02818"/><path d="M276 725 L276 728 L276 730 L278 732 L280 732 L281 734 L282 737" stroke="#d02818"/><path d="M265 709 L265 707 L267 705 L269 705 L272 704 L273 702 L273 700" stroke="#ff5030"/><path d="M258 723 L257 721 L255 719 L254 717 L256 715 L257 712 L255 710" stroke="#d02818"/><path d="M262 736 L262 739 L261 741 L258 741 L256 741 L253 741 L251 743" stroke="#d02818"/><path d="M246 727 L247 730 L249 730 L251 731 L253 734 L253 736 L251 738" stroke="#e83020"/><path d="M256 733 L259 734 L261 732 L261 730 L262 727 L263 725 L261 723" stroke="#e06020"/><path d="M266 710 L268 711 L269 714 L271 715 L273 717 L273 719 L271 721" stroke="#f04020"/><path d="M251 725 L253 723 L256 723 L258 723 L260 721 L261 719 L259 717" stroke="#f04020"/><path d="M250 721 L248 722 L246 722 L243 722 L241 722 L238 723 L237 725" stroke="#f04020"/><path d="M249 716 L251 714 L253 713 L253 711 L253 708 L252 706 L249 705" stroke="#d02818"/><path d="M250 716 L249 714 L247 711 L247 709 L248 707 L248 704 L245 703" stroke="#ff5030"/><path d="M246 721 L248 722 L251 721 L251 719 L251 716 L252 714 L254 712" stroke="#e06020"/><path d="M247 722 L247 724 L247 727 L246 730 L246 732 L243 733 L241 735" stroke="#d02818"/><path d="M276 706 L274 707 L273 709 L270 710 L268 708 L266 708 L263 707" stroke="#d02818"/><path d="M257 739 L260 739 L262 740 L264 739 L267 738 L268 741 L268 743" stroke="#e83020"/><path d="M270 723 L270 720 L269 718 L266 718 L264 717 L262 718 L259 719" stroke="#d02818"/><path d="M273 714 L273 711 L271 709 L271 707 L273 705 L274 703 L277 703" stroke="#e83020"/><path d="M255 719 L256 721 L258 721 L260 724 L261 726 L263 727 L265 728" stroke="#e06020"/><path d="M279 722 L278 720 L275 720 L273 718 L271 720 L269 718 L266 718" stroke="#ff5030"/><path d="M278 730 L280 729 L283 728 L285 727 L287 729 L287 732 L288 733" stroke="#d02818"/><path d="M268 725 L268 727 L269 730 L270 732 L272 734 L274 733 L277 735" stroke="#e83020"/></g>
<g fill="none" stroke-width="0.8" opacity="0.85" stroke-linejoin="round"><path d="M233 709 L231 710 L228 711 L227 713 L229 715 L230 717 L231 719" stroke="#a030c0"/><path d="M231 711 L229 711 L227 710 L225 708 L223 707 L221 708 L219 707" stroke="#c040d0"/><path d="M247 711 L248 713 L249 715 L251 717 L253 716 L255 717 L257 718" stroke="#8030b0"/><path d="M252 706 L252 704 L253 702 L255 700 L258 701 L260 699 L261 698" stroke="#a030c0"/><path d="M230 703 L232 703 L235 702 L237 701 L239 700 L241 698 L242 696" stroke="#8030b0"/><path d="M237 704 L235 704 L234 706 L234 709 L234 711 L232 713 L230 714" stroke="#c040d0"/><path d="M242 711 L241 714 L239 715 L238 718 L240 720 L240 722 L238 723" stroke="#a030c0"/><path d="M236 701 L235 699 L234 696 L233 694 L230 694 L228 693 L226 691" stroke="#c040d0"/><path d="M246 705 L248 706 L251 707 L251 710 L252 712 L254 712 L256 713" stroke="#a030c0"/><path d="M234 704 L236 702 L237 700 L237 698 L235 696 L235 693 L235 691" stroke="#8030b0"/><path d="M237 714 L234 713 L234 711 L235 709 L235 706 L235 704 L237 702" stroke="#c040d0"/><path d="M238 704 L238 707 L237 709 L234 708 L232 709 L230 710 L227 710" stroke="#a030c0"/><path d="M228 710 L225 709 L223 710 L220 709 L219 707 L216 707 L216 710" stroke="#8030b0"/><path d="M227 706 L224 705 L222 704 L220 704 L218 706 L216 707 L214 706" stroke="#c040d0"/><path d="M234 706 L232 705 L230 703 L230 701 L228 699 L226 698 L224 696" stroke="#a030c0"/><path d="M235 711 L233 711 L230 710 L230 708 L230 706 L229 703 L229 701" stroke="#a030c0"/><path d="M228 712 L228 714 L230 716 L229 719 L232 720 L231 723 L232 725" stroke="#8030b0"/><path d="M231 704 L233 703 L235 702 L237 701 L238 699 L237 696 L238 694" stroke="#c040d0"/><path d="M239 710 L238 712 L240 714 L242 716 L244 716 L247 715 L248 717" stroke="#8030b0"/><path d="M254 707 L256 709 L258 709 L260 710 L260 713 L260 715 L259 717" stroke="#c040d0"/><path d="M241 714 L244 714 L245 716 L247 717 L250 716 L250 713 L251 712" stroke="#8030b0"/><path d="M251 709 L253 711 L256 710 L258 709 L260 709 L263 708 L265 707" stroke="#8030b0"/><path d="M253 709 L252 707 L249 706 L247 708 L245 707 L243 709 L242 711" stroke="#c040d0"/><path d="M244 714 L246 713 L248 711 L250 710 L251 708 L253 706 L255 705" stroke="#a030c0"/><path d="M250 712 L252 711 L253 709 L253 706 L253 704 L253 702 L254 699" stroke="#a030c0"/><path d="M235 706 L234 703 L232 702 L230 701 L227 702 L226 705 L225 707" stroke="#8030b0"/><path d="M246 713 L244 714 L243 716 L240 717 L238 718 L235 718 L234 720" stroke="#c040d0"/><path d="M227 710 L227 708 L228 706 L229 704 L228 702 L225 701 L223 702" stroke="#8030b0"/><path d="M228 707 L226 706 L226 703 L225 701 L226 699 L228 698 L230 696" stroke="#c040d0"/><path d="M245 715 L247 713 L249 711 L250 709 L249 707 L247 705 L245 704" stroke="#8030b0"/></g>
<g fill="none" stroke-width="0.8" opacity="0.8" stroke-linejoin="round"><path d="M268 706 L268 709 L270 710 L272 711 L272 713 L271 716 L269 717" stroke="#60a030"/><path d="M272 711 L274 710 L275 707 L278 707 L279 705 L280 703 L280 700" stroke="#80b040"/><path d="M267 710 L267 708 L268 706 L271 706 L272 704 L274 702 L276 701" stroke="#60a030"/><path d="M267 713 L267 716 L265 718 L263 719 L261 721 L259 721 L256 721" stroke="#80b040"/><path d="M278 714 L275 715 L273 716 L272 718 L273 721 L271 723 L273 725" stroke="#60a030"/><path d="M271 724 L269 723 L268 721 L265 721 L263 719 L261 721 L259 719" stroke="#80b040"/><path d="M268 711 L267 709 L267 706 L268 705 L267 702 L265 702 L263 703" stroke="#60a030"/><path d="M270 706 L272 704 L274 703 L276 702 L277 699 L277 697 L275 695" stroke="#80b040"/><path d="M275 706 L275 703 L274 701 L272 699 L270 698 L268 698 L265 697" stroke="#80b040"/><path d="M277 711 L278 713 L277 715 L276 718 L278 720 L280 720 L281 718" stroke="#60a030"/><path d="M274 723 L272 722 L270 720 L268 718 L266 720 L264 719 L261 720" stroke="#80b040"/><path d="M274 708 L276 710 L277 712 L279 714 L281 714 L283 716 L286 717" stroke="#60a030"/><path d="M272 705 L273 707 L276 707 L278 707 L280 708 L283 707 L283 704" stroke="#80b040"/><path d="M273 724 L271 723 L269 721 L268 719 L270 717 L271 714 L269 712" stroke="#60a030"/><path d="M279 715 L280 713 L280 711 L279 708 L281 706 L282 704 L283 702" stroke="#60a030"/><path d="M274 718 L272 719 L270 717 L268 718 L266 716 L267 714 L268 712" stroke="#60a030"/><path d="M270 716 L269 714 L270 712 L273 711 L275 712 L278 712 L280 712" stroke="#80b040"/><path d="M266 720 L268 719 L270 718 L273 720 L275 719 L277 720 L280 720" stroke="#80b040"/><path d="M279 713 L280 715 L283 715 L285 715 L287 714 L290 715 L291 713" stroke="#60a030"/><path d="M276 714 L278 716 L278 719 L280 720 L281 722 L284 723 L285 726" stroke="#80b040"/></g>
<path d="M290 730 C300 750 305 770 300 780 L312 790 M280 740 C290 760 300 775 310 780" stroke="#e03020" stroke-width="0.9" fill="none"/>
<clipPath id="cE"><path d="M540.0 641.0C533.3 641.0 525.8 636.2 520.0 635.0C514.2 633.8 510.8 633.2 505.0 634.0C499.2 634.8 491.7 637.5 485.0 640.0C478.3 642.5 473.0 643.7 465.0 649.0C457.0 654.3 444.2 663.5 437.0 672.0C429.8 680.5 425.3 690.7 422.0 700.0C418.7 709.3 417.3 720.7 417.0 728.0C416.7 735.3 420.5 739.3 420.0 744.0C419.5 748.7 415.2 750.7 414.0 756.0C412.8 761.3 412.2 769.7 413.0 776.0C413.8 782.3 415.7 790.0 419.0 794.0C422.3 798.0 428.3 800.0 433.0 800.0C437.7 800.0 443.3 796.0 447.0 794.0C450.7 792.0 452.7 788.7 455.0 788.0C457.3 787.3 459.7 787.0 461.0 790.0C462.3 793.0 461.5 801.0 463.0 806.0C464.5 811.0 466.2 815.7 470.0 820.0C473.8 824.3 479.3 829.2 486.0 832.0C492.7 834.8 501.0 836.0 510.0 837.0C519.0 838.0 530.0 838.0 540.0 838.0C550.0 838.0 561.0 838.0 570.0 837.0C579.0 836.0 587.3 834.8 594.0 832.0C600.7 829.2 606.2 824.3 610.0 820.0C613.8 815.7 615.5 811.0 617.0 806.0C618.5 801.0 617.7 793.0 619.0 790.0C620.3 787.0 622.7 787.3 625.0 788.0C627.3 788.7 629.3 792.0 633.0 794.0C636.7 796.0 642.3 800.0 647.0 800.0C651.7 800.0 657.7 798.0 661.0 794.0C664.3 790.0 666.2 782.3 667.0 776.0C667.8 769.7 667.2 761.3 666.0 756.0C664.8 750.7 660.5 748.7 660.0 744.0C659.5 739.3 663.3 735.3 663.0 728.0C662.7 720.7 661.3 709.3 658.0 700.0C654.7 690.7 650.2 680.5 643.0 672.0C635.8 663.5 623.0 654.3 615.0 649.0C607.0 643.7 601.7 642.5 595.0 640.0C588.3 637.5 580.8 634.8 575.0 634.0C569.2 633.2 565.8 633.8 560.0 635.0C554.2 636.2 546.7 641.0 540.0 641.0Z"/></clipPath>
<g filter="url(#bl)">
<path d="M540.0 641.0C533.3 641.0 525.8 636.2 520.0 635.0C514.2 633.8 510.8 633.2 505.0 634.0C499.2 634.8 491.7 637.5 485.0 640.0C478.3 642.5 473.0 643.7 465.0 649.0C457.0 654.3 444.2 663.5 437.0 672.0C429.8 680.5 425.3 690.7 422.0 700.0C418.7 709.3 417.3 720.7 417.0 728.0C416.7 735.3 420.5 739.3 420.0 744.0C419.5 748.7 415.2 750.7 414.0 756.0C412.8 761.3 412.2 769.7 413.0 776.0C413.8 782.3 415.7 790.0 419.0 794.0C422.3 798.0 428.3 800.0 433.0 800.0C437.7 800.0 443.3 796.0 447.0 794.0C450.7 792.0 452.7 788.7 455.0 788.0C457.3 787.3 459.7 787.0 461.0 790.0C462.3 793.0 461.5 801.0 463.0 806.0C464.5 811.0 466.2 815.7 470.0 820.0C473.8 824.3 479.3 829.2 486.0 832.0C492.7 834.8 501.0 836.0 510.0 837.0C519.0 838.0 530.0 838.0 540.0 838.0C550.0 838.0 561.0 838.0 570.0 837.0C579.0 836.0 587.3 834.8 594.0 832.0C600.7 829.2 606.2 824.3 610.0 820.0C613.8 815.7 615.5 811.0 617.0 806.0C618.5 801.0 617.7 793.0 619.0 790.0C620.3 787.0 622.7 787.3 625.0 788.0C627.3 788.7 629.3 792.0 633.0 794.0C636.7 796.0 642.3 800.0 647.0 800.0C651.7 800.0 657.7 798.0 661.0 794.0C664.3 790.0 666.2 782.3 667.0 776.0C667.8 769.7 667.2 761.3 666.0 756.0C664.8 750.7 660.5 748.7 660.0 744.0C659.5 739.3 663.3 735.3 663.0 728.0C662.7 720.7 661.3 709.3 658.0 700.0C654.7 690.7 650.2 680.5 643.0 672.0C635.8 663.5 623.0 654.3 615.0 649.0C607.0 643.7 601.7 642.5 595.0 640.0C588.3 637.5 580.8 634.8 575.0 634.0C569.2 633.2 565.8 633.8 560.0 635.0C554.2 636.2 546.7 641.0 540.0 641.0Z" fill="#eeeeee"/>
<g clip-path="url(#cE)">
<path d="M540.0 641.0C533.3 641.0 525.8 636.2 520.0 635.0C514.2 633.8 510.8 633.2 505.0 634.0C499.2 634.8 491.7 637.5 485.0 640.0C478.3 642.5 473.0 643.7 465.0 649.0C457.0 654.3 444.2 663.5 437.0 672.0C429.8 680.5 425.3 690.7 422.0 700.0C418.7 709.3 417.0 718.0 417.0 728.0C417.0 738.0 418.2 751.0 422.0 760.0C425.8 769.0 432.0 776.2 440.0 782.0C448.0 787.8 459.2 792.0 470.0 795.0C480.8 798.0 493.3 798.8 505.0 800.0C516.7 801.2 528.3 802.0 540.0 802.0C551.7 802.0 563.3 801.2 575.0 800.0C586.7 798.8 599.2 798.0 610.0 795.0C620.8 792.0 632.0 787.8 640.0 782.0C648.0 776.2 654.2 769.0 658.0 760.0C661.8 751.0 663.0 738.0 663.0 728.0C663.0 718.0 661.3 709.3 658.0 700.0C654.7 690.7 650.2 680.5 643.0 672.0C635.8 663.5 623.0 654.3 615.0 649.0C607.0 643.7 601.7 642.5 595.0 640.0C588.3 637.5 580.8 634.8 575.0 634.0C569.2 633.2 565.8 633.8 560.0 635.0C554.2 636.2 546.7 641.0 540.0 641.0Z" fill="none" stroke="#b8b8b8" stroke-width="18" filter="url(#bl4)"/>
</g>
<path d="M540.0 641.0C533.3 641.0 525.8 636.2 520.0 635.0C514.2 633.8 510.8 633.2 505.0 634.0C499.2 634.8 491.7 637.5 485.0 640.0C478.3 642.5 473.0 643.7 465.0 649.0C457.0 654.3 444.2 663.5 437.0 672.0C429.8 680.5 425.3 690.7 422.0 700.0C418.7 709.3 417.3 720.7 417.0 728.0C416.7 735.3 420.5 739.3 420.0 744.0C419.5 748.7 415.2 750.7 414.0 756.0C412.8 761.3 412.2 769.7 413.0 776.0C413.8 782.3 415.7 790.0 419.0 794.0C422.3 798.0 428.3 800.0 433.0 800.0C437.7 800.0 443.3 796.0 447.0 794.0C450.7 792.0 452.7 788.7 455.0 788.0C457.3 787.3 459.7 787.0 461.0 790.0C462.3 793.0 461.5 801.0 463.0 806.0C464.5 811.0 466.2 815.7 470.0 820.0C473.8 824.3 479.3 829.2 486.0 832.0C492.7 834.8 501.0 836.0 510.0 837.0C519.0 838.0 530.0 838.0 540.0 838.0C550.0 838.0 561.0 838.0 570.0 837.0C579.0 836.0 587.3 834.8 594.0 832.0C600.7 829.2 606.2 824.3 610.0 820.0C613.8 815.7 615.5 811.0 617.0 806.0C618.5 801.0 617.7 793.0 619.0 790.0C620.3 787.0 622.7 787.3 625.0 788.0C627.3 788.7 629.3 792.0 633.0 794.0C636.7 796.0 642.3 800.0 647.0 800.0C651.7 800.0 657.7 798.0 661.0 794.0C664.3 790.0 666.2 782.3 667.0 776.0C667.8 769.7 667.2 761.3 666.0 756.0C664.8 750.7 660.5 748.7 660.0 744.0C659.5 739.3 663.3 735.3 663.0 728.0C662.7 720.7 661.3 709.3 658.0 700.0C654.7 690.7 650.2 680.5 643.0 672.0C635.8 663.5 623.0 654.3 615.0 649.0C607.0 643.7 601.7 642.5 595.0 640.0C588.3 637.5 580.8 634.8 575.0 634.0C569.2 633.2 565.8 633.8 560.0 635.0C554.2 636.2 546.7 641.0 540.0 641.0Z" fill="none" stroke="#989898" stroke-width="1.4"/>
<path d="M540.0 641.0C533.3 641.0 525.8 636.2 520.0 635.0C514.2 633.8 510.8 633.2 505.0 634.0C499.2 634.8 491.7 637.5 485.0 640.0C478.3 642.5 473.0 643.7 465.0 649.0C457.0 654.3 444.2 663.5 437.0 672.0C429.8 680.5 425.3 690.7 422.0 700.0C418.7 709.3 417.0 718.0 417.0 728.0C417.0 738.0 418.2 751.0 422.0 760.0C425.8 769.0 432.0 776.2 440.0 782.0C448.0 787.8 459.2 792.0 470.0 795.0C480.8 798.0 493.3 798.8 505.0 800.0C516.7 801.2 528.3 802.0 540.0 802.0C551.7 802.0 563.3 801.2 575.0 800.0C586.7 798.8 599.2 798.0 610.0 795.0C620.8 792.0 632.0 787.8 640.0 782.0C648.0 776.2 654.2 769.0 658.0 760.0C661.8 751.0 663.0 738.0 663.0 728.0C663.0 718.0 661.3 709.3 658.0 700.0C654.7 690.7 650.2 680.5 643.0 672.0C635.8 663.5 623.0 654.3 615.0 649.0C607.0 643.7 601.7 642.5 595.0 640.0C588.3 637.5 580.8 634.8 575.0 634.0C569.2 633.2 565.8 633.8 560.0 635.0C554.2 636.2 546.7 641.0 540.0 641.0Z" fill="none" stroke="#a8a8a8" stroke-width="1.2"/>
<path d="M470 808 C490 800 515 806 540 804 C565 806 590 800 610 808 M486 826 C505 818 525 824 540 822 C555 824 575 818 594 826" fill="none" stroke="#c4c4c4" stroke-width="1.5"/>
<path d="M502 700 C515 694 530 698 540 702 C550 698 565 694 578 700 C592 735 580 780 540 786 C500 780 488 735 502 700Z" fill="#fafafa" opacity="0.9"/>
<path d="M423 700 C410 730 420 770 448 780 L458 772 C436 758 430 732 440 706 Z" fill="#6cc840" opacity="0.6"/><path d="M431 731 C430 755 445 775 474 780 C478 770 476 758 468 748 C455 745 440 738 431 731Z" fill="#2ee0cc" opacity="0.72"/><path d="M474 759 C476 766 484 771 493 771 C492 764 486 759 474 759Z" fill="#6050c0" opacity="0.6"/><path d="M459 746 L480 748 L480 769 L462 768 Z" fill="#3890b0" opacity="0.45"/><path d="M494 690 C475 705 468 730 482 746 L491 741 C482 726 486 706 500 697 Z" fill="#f0c070" opacity="0.65"/><path d="M480 742 C486 754 494 766 505 771 C502 760 496 748 489 738Z" fill="#90e040" opacity="0.75"/><path d="M478 672 C500 660 525 668 540 684 L540 696 C522 684 498 680 482 690 Z" fill="#7038c0" opacity="0.6"/><path d="M485 684 C505 676 528 684 540 700 L540 712 C525 700 505 696 492 700 Z" fill="#f06848" opacity="0.45"/><path d="M496 698 C508 694 520 700 526 712 C520 716 510 714 500 710 Z" fill="#a090f0" opacity="0.55"/><path d="M540 648 C525 644 505 648 496 656 C498 676 520 690 540 690 Z" fill="#e84ae8" opacity="0.62"/><path d="M468 668 C474 652 490 636 502 634 C515 632 530 638 540 645 L540 652 C528 650 520 654 514 657 C500 662 485 668 468 668Z" fill="#22a89c" opacity="0.85"/><path d="M506 636 L512 660" stroke="#30a040" stroke-width="5" opacity="0.6"/>
<g transform="translate(1080 0) scale(-1 1)"><path d="M423 700 C410 730 420 770 448 780 L458 772 C436 758 430 732 440 706 Z" fill="#6cc840" opacity="0.6"/><path d="M431 731 C430 755 445 775 474 780 C478 770 476 758 468 748 C455 745 440 738 431 731Z" fill="#2ee0cc" opacity="0.72"/><path d="M474 759 C476 766 484 771 493 771 C492 764 486 759 474 759Z" fill="#6050c0" opacity="0.6"/><path d="M459 746 L480 748 L480 769 L462 768 Z" fill="#3890b0" opacity="0.45"/><path d="M494 690 C475 705 468 730 482 746 L491 741 C482 726 486 706 500 697 Z" fill="#f0c070" opacity="0.65"/><path d="M480 742 C486 754 494 766 505 771 C502 760 496 748 489 738Z" fill="#90e040" opacity="0.75"/><path d="M478 672 C500 660 525 668 540 684 L540 696 C522 684 498 680 482 690 Z" fill="#7038c0" opacity="0.6"/><path d="M485 684 C505 676 528 684 540 700 L540 712 C525 700 505 696 492 700 Z" fill="#f06848" opacity="0.45"/><path d="M496 698 C508 694 520 700 526 712 C520 716 510 714 500 710 Z" fill="#a090f0" opacity="0.55"/><path d="M540 648 C525 644 505 648 496 656 C498 676 520 690 540 690 Z" fill="#e84ae8" opacity="0.62"/><path d="M468 668 C474 652 490 636 502 634 C515 632 530 638 540 645 L540 652 C528 650 520 654 514 657 C500 662 485 668 468 668Z" fill="#22a89c" opacity="0.85"/><path d="M506 636 L512 660" stroke="#30a040" stroke-width="5" opacity="0.6"/></g>
<path d="M516 758 C518 750 528 747 540 752 C552 747 562 750 564 758 C570 764 568 772 562 776 C556 782 548 781 540 780 C532 781 524 782 518 776 C512 772 510 764 516 758Z" fill="#e07272" opacity="0.75"/>
<g fill="none" stroke="#d02a2a" stroke-width="1.1" opacity="0.85"><path d="M518 762 H562 M516 775 H564 M528 752 V780 M540 756 V780 M552 752 V780 M520 770 L532 758 M560 770 L548 758"/><ellipse cx="527" cy="762" rx="9" ry="10"/><ellipse cx="553" cy="762" rx="9" ry="10"/></g>
<path d="M521 728 C526 724 534 726 536 732 C534 738 526 738 521 734Z M559 728 C554 724 546 726 544 732 C546 738 554 738 559 734Z" fill="#e8f0a0" opacity="0.8"/>
<path d="M507 716 C510 735 525 752 540 752 C555 752 570 735 573 716" fill="none" stroke="#909090" stroke-width="1.2" opacity="0.7"/>
<path d="M540 700 V752" stroke="#808080" stroke-width="1" opacity="0.6"/>
</g>
<clipPath id="cmL"><path d="M426 688 C440 678 475 672 500 678 C502 700 490 725 472 752 C452 754 436 750 428 742 C420 725 420 705 426 688Z"/></clipPath><g><path d="M492 676 C502 684 498 700 486 716 C474 734 460 750 444 752 C430 752 422 740 424 722 C426 700 440 686 460 680 C472 676 484 674 492 676Z" fill="#356f8c" opacity="0.72" filter="url(#bl2)"/><ellipse cx="450" cy="728" rx="14" ry="19" transform="rotate(30 450 728)" fill="#6a1828" opacity="0.5" filter="url(#bl2)"/><ellipse cx="484" cy="700" rx="8" ry="20" transform="rotate(30 484 700)" fill="#2a1a10" opacity="0.6" filter="url(#bl2)"/><g fill="none" stroke-width="0.55" opacity="0.9" stroke-linejoin="round"><path d="M462 719 L463 718 L465 717 L467 716 L467 715 L468 713 L469 712" stroke="#2a8aa8"/><path d="M434 733 L434 735 L433 736 L435 737 L434 739 L432 739 L431 738" stroke="#2070a0"/><path d="M474 709 L473 707 L471 708 L470 707 L469 706 L469 704 L468 702" stroke="#2070a0"/><path d="M480 694 L479 692 L479 690 L478 689 L477 688 L477 686 L479 687" stroke="#1f5f8a"/><path d="M466 696 L467 697 L469 696 L470 697 L472 697 L473 699 L474 700" stroke="#1f5f8a"/><path d="M478 731 L479 732 L478 734 L477 735 L477 737 L478 738 L480 738" stroke="#1a4a70"/><path d="M461 686 L463 687 L464 686 L466 686 L467 685 L468 683 L470 682" stroke="#2a8aa8"/><path d="M454 715 L452 714 L451 715 L449 715 L449 713 L450 711 L452 712" stroke="#1f5f8a"/><path d="M443 728 L445 728 L445 726 L446 725 L447 724 L447 722 L448 720" stroke="#30b8c8"/><path d="M475 690 L476 690 L478 690 L479 688 L479 686 L479 684 L478 683" stroke="#2070a0"/><path d="M464 717 L464 716 L462 715 L462 713 L463 712 L464 710 L463 709" stroke="#20a0b0"/><path d="M471 708 L469 706 L468 705 L467 706 L467 708 L468 708 L470 709" stroke="#30b8c8"/><path d="M456 736 L455 737 L453 738 L452 739 L452 741 L452 743 L453 744" stroke="#2a8aa8"/><path d="M467 720 L465 721 L464 723 L463 723 L461 722 L460 723 L459 724" stroke="#2a8aa8"/><path d="M458 724 L460 725 L460 727 L458 727 L456 727 L455 726 L454 724" stroke="#2a8aa8"/><path d="M482 722 L481 723 L480 724 L481 725 L482 727 L484 727 L484 725" stroke="#30b8c8"/><path d="M442 741 L443 741 L445 741 L447 742 L447 744 L445 745 L444 746" stroke="#20a0b0"/><path d="M445 703 L447 703 L448 702 L449 700 L448 699 L447 697 L446 696" stroke="#1f5f8a"/><path d="M452 694 L453 693 L455 693 L456 695 L458 695 L459 697 L459 699" stroke="#1a4a70"/><path d="M462 718 L460 717 L458 718 L458 720 L460 720 L460 722 L461 723" stroke="#2070a0"/><path d="M470 704 L471 702 L470 701 L470 699 L469 697 L471 696 L471 694" stroke="#1a4a70"/><path d="M452 706 L452 708 L451 709 L449 709 L448 708 L446 709 L445 710" stroke="#2a8aa8"/><path d="M460 703 L461 705 L460 706 L459 707 L457 707 L457 705 L456 703" stroke="#2a8aa8"/><path d="M441 737 L443 738 L444 738 L446 738 L448 739 L448 741 L447 742" stroke="#2070a0"/><path d="M444 704 L444 705 L446 705 L448 706 L449 708 L451 708 L452 709" stroke="#1f5f8a"/><path d="M466 702 L465 704 L466 706 L465 707 L463 708 L462 706 L460 706" stroke="#1f5f8a"/><path d="M474 711 L476 711 L478 712 L479 712 L481 711 L482 709 L480 708" stroke="#1a4a70"/><path d="M447 698 L446 699 L444 700 L443 700 L441 699 L442 697 L440 696" stroke="#20a0b0"/><path d="M492 694 L494 695 L495 697 L494 699 L493 700 L492 702 L491 702" stroke="#30b8c8"/><path d="M466 721 L465 723 L463 723 L462 723 L460 722 L458 722 L457 721" stroke="#1f5f8a"/><path d="M488 686 L487 684 L489 683 L491 684 L492 683 L493 682 L493 680" stroke="#2070a0"/><path d="M450 712 L450 710 L452 710 L454 709 L453 707 L453 705 L454 704" stroke="#2a8aa8"/><path d="M483 690 L482 689 L483 687 L484 686 L486 685 L487 685 L489 686" stroke="#2070a0"/><path d="M460 734 L459 732 L459 731 L460 729 L460 727 L459 726 L460 724" stroke="#2070a0"/><path d="M460 743 L462 742 L463 743 L465 741 L466 740 L468 739 L469 739" stroke="#1f5f8a"/><path d="M447 698 L449 697 L450 698 L452 698 L452 697 L451 695 L452 694" stroke="#1a4a70"/><path d="M474 733 L475 732 L476 730 L475 729 L473 727 L473 726 L475 725" stroke="#1a4a70"/><path d="M449 700 L449 702 L451 703 L451 705 L450 706 L450 708 L452 708" stroke="#1f5f8a"/><path d="M465 697 L464 698 L464 700 L463 701 L464 703 L465 705 L466 705" stroke="#2a8aa8"/><path d="M486 713 L488 714 L488 716 L488 718 L487 720 L486 720 L484 720" stroke="#2a8aa8"/><path d="M476 723 L477 721 L476 720 L476 718 L477 717 L479 718 L481 718" stroke="#30b8c8"/><path d="M471 681 L470 679 L468 680 L467 678 L465 679 L465 680 L465 682" stroke="#1a4a70"/><path d="M476 691 L475 690 L473 689 L472 688 L471 688 L470 690 L469 691" stroke="#30b8c8"/><path d="M442 738 L443 736 L444 734 L443 733 L441 733 L440 734 L442 735" stroke="#2070a0"/><path d="M483 720 L482 721 L483 723 L484 723 L486 722 L486 720 L487 718" stroke="#2070a0"/><path d="M470 724 L469 726 L468 728 L468 730 L467 731 L468 732 L469 734" stroke="#2a8aa8"/><path d="M444 732 L443 730 L442 730 L440 731 L439 732 L439 733 L438 735" stroke="#20a0b0"/><path d="M487 689 L487 691 L488 693 L488 694 L489 696 L491 696 L492 697" stroke="#2a8aa8"/><path d="M475 692 L476 693 L477 694 L477 696 L476 697 L475 698 L473 699" stroke="#1f5f8a"/><path d="M470 690 L470 691 L468 692 L467 690 L465 690 L464 692 L462 691" stroke="#30b8c8"/><path d="M460 729 L458 728 L456 728 L456 726 L457 724 L459 723 L460 724" stroke="#2070a0"/><path d="M442 747 L440 745 L439 745 L438 746 L438 748 L438 749 L440 749" stroke="#30b8c8"/><path d="M445 723 L443 723 L441 723 L440 721 L438 721 L437 722 L435 721" stroke="#2070a0"/><path d="M477 716 L477 718 L478 719 L480 720 L481 719 L483 718 L485 718" stroke="#1f5f8a"/><path d="M458 718 L458 720 L459 721 L460 723 L461 725 L463 725 L463 727" stroke="#20a0b0"/><path d="M466 694 L467 693 L467 692 L465 691 L464 690 L462 689 L463 687" stroke="#20a0b0"/><path d="M460 723 L459 721 L459 720 L458 718 L458 716 L457 715 L457 713" stroke="#1f5f8a"/><path d="M479 726 L479 724 L480 723 L482 724 L483 725 L485 725 L487 725" stroke="#1a4a70"/><path d="M442 712 L442 714 L443 715 L444 717 L444 719 L442 720 L442 722" stroke="#20a0b0"/><path d="M482 727 L484 728 L485 727 L485 726 L487 725 L489 726 L490 727" stroke="#30b8c8"/><path d="M454 731 L455 730 L454 728 L453 727 L451 728 L450 726 L449 724" stroke="#20a0b0"/><path d="M447 726 L446 726 L444 727 L444 729 L445 729 L446 731 L447 733" stroke="#20a0b0"/><path d="M486 684 L486 686 L485 688 L487 689 L486 690 L485 691 L484 693" stroke="#2070a0"/><path d="M489 702 L488 701 L486 701 L485 702 L485 704 L484 706 L483 707" stroke="#30b8c8"/><path d="M474 719 L475 717 L476 716 L475 714 L475 713 L474 711 L473 712" stroke="#2070a0"/><path d="M477 720 L476 718 L474 720 L474 721 L472 721 L470 721 L469 720" stroke="#1a4a70"/><path d="M481 706 L482 707 L484 708 L485 710 L486 711 L488 710 L489 710" stroke="#2070a0"/><path d="M482 721 L480 720 L479 719 L479 717 L480 715 L479 714 L481 712" stroke="#20a0b0"/><path d="M473 682 L472 684 L473 686 L473 687 L474 689 L476 689 L478 689" stroke="#1a4a70"/><path d="M476 722 L475 723 L473 722 L473 721 L471 720 L470 721 L468 722" stroke="#2070a0"/><path d="M437 729 L438 730 L439 732 L440 733 L441 734 L443 735 L444 736" stroke="#30b8c8"/><path d="M489 712 L490 713 L492 713 L493 714 L494 716 L496 716 L498 715" stroke="#2070a0"/><path d="M452 723 L450 723 L449 724 L449 726 L449 727 L448 729 L448 730" stroke="#2070a0"/><path d="M480 686 L482 685 L483 685 L484 687 L483 689 L481 688 L481 687" stroke="#20a0b0"/><path d="M432 739 L433 737 L435 738 L436 739 L437 740 L439 740 L441 740" stroke="#20a0b0"/><path d="M434 725 L433 727 L431 726 L430 728 L430 730 L432 731 L433 732" stroke="#2a8aa8"/><path d="M493 697 L494 697 L495 698 L497 699 L499 698 L500 697 L501 695" stroke="#2070a0"/><path d="M477 704 L478 705 L480 704 L481 703 L483 702 L484 701 L485 700" stroke="#2070a0"/><path d="M452 708 L454 709 L456 709 L457 709 L458 711 L458 712 L459 713" stroke="#1f5f8a"/><path d="M434 720 L436 720 L437 722 L437 723 L435 724 L436 726 L435 727" stroke="#1f5f8a"/><path d="M450 709 L449 708 L447 708 L446 706 L444 706 L444 704 L445 703" stroke="#2a8aa8"/><path d="M451 729 L451 731 L453 732 L453 733 L452 735 L451 735 L450 737" stroke="#30b8c8"/><path d="M469 708 L471 708 L471 706 L473 705 L474 704 L476 703 L475 701" stroke="#2a8aa8"/><path d="M473 732 L473 734 L475 735 L476 736 L477 738 L479 737 L480 739" stroke="#30b8c8"/><path d="M449 722 L449 721 L450 719 L449 718 L448 718 L447 720 L446 721" stroke="#20a0b0"/><path d="M477 731 L479 730 L478 728 L477 727 L476 725 L475 724 L474 723" stroke="#1a4a70"/><path d="M489 708 L491 708 L492 709 L494 709 L496 709 L496 711 L495 712" stroke="#30b8c8"/><path d="M477 700 L479 700 L480 698 L480 697 L479 695 L477 695 L475 695" stroke="#20a0b0"/><path d="M465 734 L467 734 L467 732 L468 730 L469 729 L470 728 L470 726" stroke="#1a4a70"/><path d="M452 696 L453 696 L455 695 L456 694 L455 693 L456 691 L457 690" stroke="#2070a0"/><path d="M433 727 L433 729 L433 731 L432 732 L430 732 L428 731 L427 730" stroke="#30b8c8"/><path d="M474 708 L476 707 L477 706 L479 705 L479 703 L479 701 L478 700" stroke="#30b8c8"/><path d="M483 698 L483 699 L481 700 L479 700 L477 701 L476 702 L476 704" stroke="#20a0b0"/><path d="M487 689 L488 690 L489 692 L490 693 L492 693 L494 694 L496 693" stroke="#1f5f8a"/><path d="M479 683 L478 685 L477 685 L476 687 L474 686 L472 686 L471 685" stroke="#2070a0"/><path d="M489 711 L490 713 L489 714 L490 716 L490 717 L491 719 L491 721" stroke="#30b8c8"/><path d="M467 684 L466 685 L467 687 L469 687 L469 689 L468 690 L466 690" stroke="#30b8c8"/><path d="M488 709 L490 709 L491 709 L493 710 L494 710 L496 709 L496 708" stroke="#2070a0"/><path d="M459 723 L459 725 L461 726 L462 727 L464 727 L466 728 L467 727" stroke="#20a0b0"/><path d="M473 693 L472 695 L472 697 L471 698 L469 696 L468 695 L467 694" stroke="#30b8c8"/><path d="M479 730 L481 730 L483 730 L485 729 L486 728 L488 730 L489 731" stroke="#2070a0"/><path d="M460 710 L461 712 L462 713 L463 715 L464 716 L466 717 L467 717" stroke="#30b8c8"/><path d="M462 740 L460 741 L459 740 L457 739 L456 740 L454 738 L453 737" stroke="#20a0b0"/><path d="M447 712 L447 714 L445 715 L443 714 L443 712 L442 711 L442 709" stroke="#2a8aa8"/><path d="M467 702 L468 702 L470 701 L470 699 L472 699 L474 698 L476 698" stroke="#30b8c8"/><path d="M441 723 L443 725 L442 727 L440 727 L439 728 L438 730 L437 731" stroke="#1f5f8a"/><path d="M450 724 L451 726 L452 727 L453 729 L452 730 L450 731 L449 732" stroke="#20a0b0"/><path d="M474 689 L473 690 L471 690 L471 689 L469 688 L468 686 L467 686" stroke="#1f5f8a"/><path d="M463 699 L464 699 L466 698 L467 697 L469 698 L471 697 L472 699" stroke="#1a4a70"/><path d="M445 709 L445 707 L445 706 L444 704 L445 702 L445 700 L444 699" stroke="#30b8c8"/><path d="M461 727 L463 726 L464 724 L463 723 L465 722 L466 721 L468 720" stroke="#20a0b0"/><path d="M469 703 L469 704 L471 705 L471 707 L472 707 L474 708 L476 709" stroke="#1a4a70"/><path d="M460 735 L461 736 L462 738 L464 738 L465 740 L463 741 L463 743" stroke="#1a4a70"/><path d="M487 691 L487 693 L489 693 L490 691 L491 690 L493 691 L494 691" stroke="#1a4a70"/><path d="M477 697 L476 696 L476 694 L476 692 L478 692 L478 690 L480 689" stroke="#2a8aa8"/><path d="M440 736 L439 734 L437 733 L437 732 L437 730 L436 728 L435 727" stroke="#2070a0"/><path d="M459 700 L457 701 L457 703 L458 705 L457 706 L457 708 L456 709" stroke="#2070a0"/><path d="M459 712 L458 714 L457 714 L456 716 L455 716 L453 716 L451 716" stroke="#20a0b0"/><path d="M436 719 L437 720 L439 721 L440 721 L442 722 L444 722 L445 722" stroke="#1f5f8a"/><path d="M470 705 L470 707 L470 709 L469 710 L468 711 L466 713 L466 715" stroke="#1a4a70"/><path d="M445 714 L445 712 L445 710 L446 709 L448 710 L449 709 L451 708" stroke="#20a0b0"/><path d="M458 720 L460 722 L461 723 L461 724 L459 724 L457 723 L456 722" stroke="#20a0b0"/><path d="M460 701 L460 703 L460 704 L462 705 L463 704 L464 703 L466 703" stroke="#2070a0"/><path d="M435 721 L436 719 L437 718 L439 717 L440 719 L440 720 L438 721" stroke="#2a8aa8"/><path d="M456 713 L457 711 L458 710 L459 709 L458 707 L457 706 L455 705" stroke="#2a8aa8"/><path d="M457 712 L457 710 L456 709 L456 707 L456 705 L454 704 L453 703" stroke="#2070a0"/><path d="M440 708 L439 707 L437 706 L437 708 L437 710 L439 710 L441 711" stroke="#20a0b0"/><path d="M465 694 L465 695 L464 696 L463 698 L461 698 L459 698 L459 696" stroke="#1f5f8a"/><path d="M472 728 L472 730 L471 730 L469 730 L467 731 L465 731 L464 732" stroke="#2a8aa8"/><path d="M448 738 L449 738 L451 737 L452 736 L453 734 L454 733 L454 731" stroke="#20a0b0"/><path d="M455 713 L457 713 L458 714 L460 714 L461 713 L463 712 L463 710" stroke="#1f5f8a"/><path d="M446 722 L447 722 L448 720 L449 719 L450 718 L452 718 L452 720" stroke="#30b8c8"/><path d="M454 691 L456 690 L456 688 L455 686 L455 685 L455 683 L456 681" stroke="#30b8c8"/><path d="M438 737 L439 739 L440 740 L442 741 L443 741 L445 741 L446 739" stroke="#1a4a70"/><path d="M457 741 L455 741 L453 742 L451 741 L451 739 L453 738 L454 737" stroke="#30b8c8"/><path d="M474 703 L473 703 L471 704 L470 705 L470 707 L471 708 L473 708" stroke="#1a4a70"/><path d="M472 687 L474 685 L473 684 L472 684 L470 685 L469 686 L469 688" stroke="#20a0b0"/><path d="M487 695 L486 696 L485 696 L484 698 L483 699 L483 701 L485 702" stroke="#1f5f8a"/><path d="M465 704 L464 705 L462 706 L461 705 L460 704 L460 702 L458 701" stroke="#2a8aa8"/><path d="M463 696 L461 696 L461 698 L460 699 L461 701 L462 702 L464 702" stroke="#2070a0"/><path d="M447 712 L445 712 L444 711 L443 710 L442 708 L442 706 L444 707" stroke="#30b8c8"/><path d="M435 716 L436 718 L438 718 L440 718 L441 716 L440 715 L438 714" stroke="#30b8c8"/><path d="M468 706 L466 706 L465 707 L463 707 L461 707 L459 707 L459 709" stroke="#30b8c8"/><path d="M488 714 L489 713 L491 715 L491 716 L489 717 L488 718 L486 718" stroke="#2070a0"/><path d="M475 697 L474 698 L473 698 L472 700 L473 702 L474 703 L473 705" stroke="#1a4a70"/><path d="M454 733 L453 734 L452 736 L450 736 L449 737 L448 739 L449 741" stroke="#1a4a70"/><path d="M455 694 L454 692 L453 693 L451 694 L450 695 L449 697 L448 698" stroke="#1f5f8a"/><path d="M468 722 L469 721 L471 720 L471 718 L470 717 L470 715 L469 713" stroke="#20a0b0"/><path d="M459 689 L461 689 L462 689 L462 691 L464 692 L465 692 L466 691" stroke="#2070a0"/><path d="M468 682 L470 683 L470 684 L470 686 L471 687 L471 689 L472 691" stroke="#2a8aa8"/><path d="M483 681 L482 679 L483 678 L483 676 L481 676 L480 677 L478 676" stroke="#30b8c8"/><path d="M479 689 L478 690 L479 692 L479 694 L480 695 L481 696 L483 697" stroke="#1f5f8a"/><path d="M456 711 L458 712 L459 710 L461 711 L462 710 L463 708 L461 707" stroke="#1a4a70"/><path d="M454 745 L456 744 L456 743 L455 741 L454 739 L454 738 L453 736" stroke="#2070a0"/><path d="M475 708 L473 708 L472 707 L473 706 L474 704 L475 704 L477 705" stroke="#2a8aa8"/><path d="M470 717 L472 718 L474 719 L475 717 L476 716 L478 717 L479 715" stroke="#30b8c8"/><path d="M438 745 L440 744 L441 745 L443 745 L444 746 L444 748 L442 749" stroke="#1f5f8a"/><path d="M484 687 L484 685 L486 685 L488 685 L489 683 L488 682 L486 681" stroke="#20a0b0"/><path d="M461 727 L461 725 L462 723 L462 722 L461 720 L461 719 L461 717" stroke="#1f5f8a"/><path d="M439 720 L441 719 L442 718 L442 716 L440 715 L438 715 L437 716" stroke="#30b8c8"/><path d="M452 721 L454 721 L455 721 L457 720 L458 719 L460 720 L461 719" stroke="#2a8aa8"/><path d="M462 733 L461 734 L461 736 L459 736 L458 737 L457 739 L455 740" stroke="#2a8aa8"/><path d="M472 734 L474 734 L475 734 L476 732 L477 731 L479 731 L480 732" stroke="#1f5f8a"/><path d="M451 735 L453 736 L455 737 L456 738 L457 739 L459 739 L460 740" stroke="#20a0b0"/><path d="M472 697 L471 696 L470 695 L468 694 L466 693 L465 694 L463 694" stroke="#2070a0"/><path d="M467 705 L465 703 L466 702 L465 700 L464 699 L466 697 L468 697" stroke="#30b8c8"/><path d="M445 732 L444 734 L442 733 L441 731 L442 730 L442 728 L440 728" stroke="#20a0b0"/><path d="M464 685 L465 685 L466 683 L466 681 L464 680 L463 682 L462 683" stroke="#2070a0"/><path d="M476 694 L476 692 L474 691 L472 692 L470 691 L469 693 L468 694" stroke="#1a4a70"/><path d="M445 701 L447 701 L448 700 L450 701 L450 703 L452 704 L454 704" stroke="#30b8c8"/><path d="M448 724 L447 725 L445 726 L443 726 L441 726 L441 728 L440 729" stroke="#2070a0"/><path d="M482 718 L481 717 L480 715 L479 714 L477 715 L476 716 L476 718" stroke="#20a0b0"/><path d="M491 692 L492 692 L493 694 L495 695 L496 696 L497 694 L498 693" stroke="#30b8c8"/><path d="M489 690 L489 692 L487 693 L486 692 L484 691 L483 690 L481 690" stroke="#1a4a70"/><path d="M445 724 L444 724 L442 726 L443 727 L445 727 L447 728 L449 727" stroke="#1a4a70"/><path d="M458 703 L458 701 L460 700 L462 700 L464 700 L464 702 L466 703" stroke="#20a0b0"/><path d="M447 711 L446 710 L444 710 L442 709 L441 708 L439 708 L437 707" stroke="#1f5f8a"/><path d="M461 696 L461 697 L460 698 L459 700 L459 702 L459 703 L458 705" stroke="#2070a0"/><path d="M447 743 L447 745 L445 745 L445 747 L447 747 L448 748 L449 750" stroke="#1f5f8a"/><path d="M458 693 L460 692 L461 691 L463 691 L465 690 L465 689 L464 687" stroke="#1f5f8a"/><path d="M484 698 L486 698 L486 696 L485 694 L484 693 L484 691 L483 690" stroke="#2070a0"/><path d="M442 728 L444 729 L444 731 L446 731 L447 729 L449 729 L451 729" stroke="#20a0b0"/><path d="M489 694 L491 694 L492 695 L493 696 L495 695 L496 694 L497 693" stroke="#1f5f8a"/><path d="M439 735 L439 734 L440 732 L440 731 L442 730 L443 730 L444 728" stroke="#2a8aa8"/><path d="M455 707 L454 705 L453 704 L451 705 L451 707 L450 708 L450 710" stroke="#1a4a70"/><path d="M478 695 L479 697 L481 697 L482 698 L482 700 L481 701 L481 703" stroke="#1f5f8a"/><path d="M459 740 L459 742 L460 743 L462 744 L463 745 L465 746 L466 747" stroke="#2070a0"/><path d="M482 716 L484 716 L485 714 L484 713 L483 712 L482 710 L481 709" stroke="#1a4a70"/><path d="M452 699 L453 701 L454 701 L456 701 L458 701 L460 700 L461 699" stroke="#1f5f8a"/><path d="M458 718 L457 719 L456 721 L457 722 L457 724 L459 724 L461 725" stroke="#2070a0"/><path d="M465 735 L465 733 L463 732 L461 732 L461 731 L460 729 L460 727" stroke="#20a0b0"/><path d="M433 741 L433 739 L434 738 L436 738 L437 737 L439 737 L441 736" stroke="#30b8c8"/><path d="M457 740 L458 739 L458 737 L459 736 L460 734 L462 733 L462 732" stroke="#2070a0"/><path d="M461 737 L460 736 L458 736 L456 736 L454 736 L453 738 L452 737" stroke="#30b8c8"/><path d="M446 719 L448 718 L450 718 L451 717 L452 716 L452 714 L452 712" stroke="#2070a0"/><path d="M438 731 L438 729 L439 728 L439 726 L438 724 L440 723 L441 722" stroke="#30b8c8"/><path d="M474 695 L474 693 L473 692 L472 690 L470 690 L469 692 L467 692" stroke="#1f5f8a"/><path d="M467 733 L467 731 L467 730 L468 728 L470 727 L470 725 L471 724" stroke="#1f5f8a"/><path d="M459 720 L458 719 L459 717 L460 716 L459 714 L457 713 L455 713" stroke="#20a0b0"/><path d="M472 701 L471 701 L469 700 L467 699 L466 698 L466 696 L467 695" stroke="#30b8c8"/><path d="M441 728 L443 729 L444 730 L445 731 L446 732 L447 734 L447 735" stroke="#30b8c8"/><path d="M463 687 L462 685 L460 685 L458 686 L457 685 L455 686 L453 687" stroke="#1f5f8a"/><path d="M433 715 L434 714 L435 712 L436 711 L437 710 L439 709 L440 710" stroke="#2070a0"/><path d="M459 716 L458 718 L459 719 L461 720 L461 722 L463 722 L464 724" stroke="#2070a0"/><path d="M444 735 L442 735 L442 733 L440 732 L438 732 L437 733 L437 735" stroke="#2a8aa8"/><path d="M489 699 L490 701 L492 702 L493 701 L494 702 L496 703 L498 703" stroke="#1f5f8a"/><path d="M464 738 L463 737 L461 736 L461 738 L460 740 L461 742 L462 743" stroke="#30b8c8"/><path d="M456 703 L458 702 L459 702 L460 703 L462 704 L464 704 L465 705" stroke="#2070a0"/><path d="M484 696 L483 694 L482 693 L482 691 L484 690 L485 691 L487 690" stroke="#1f5f8a"/><path d="M469 727 L468 726 L467 724 L467 722 L466 721 L464 720 L463 719" stroke="#30b8c8"/><path d="M460 705 L458 706 L458 708 L456 708 L455 708 L454 710 L452 709" stroke="#1f5f8a"/><path d="M441 729 L442 730 L441 731 L439 732 L438 733 L438 735 L439 736" stroke="#20a0b0"/><path d="M485 690 L483 689 L482 691 L481 692 L479 692 L478 691 L479 689" stroke="#1f5f8a"/><path d="M457 719 L459 719 L460 720 L460 722 L459 724 L460 725 L461 726" stroke="#30b8c8"/><path d="M439 724 L440 726 L439 727 L440 729 L441 730 L441 732 L440 734" stroke="#2070a0"/><path d="M476 684 L475 686 L476 687 L476 689 L477 690 L478 691 L480 690" stroke="#1f5f8a"/><path d="M445 708 L445 710 L444 711 L442 711 L440 710 L439 712 L438 713" stroke="#2a8aa8"/><path d="M451 715 L452 716 L452 718 L454 719 L454 721 L455 722 L456 724" stroke="#20a0b0"/><path d="M460 728 L461 727 L461 725 L460 724 L459 722 L457 723 L456 721" stroke="#2a8aa8"/><path d="M454 735 L454 737 L455 738 L454 740 L455 741 L456 742 L458 742" stroke="#30b8c8"/><path d="M463 690 L465 689 L465 688 L466 686 L467 684 L467 683 L466 682" stroke="#2070a0"/><path d="M470 735 L471 735 L472 733 L473 732 L475 732 L477 732 L478 733" stroke="#1a4a70"/><path d="M485 691 L485 689 L487 689 L488 690 L490 690 L490 688 L491 687" stroke="#1a4a70"/><path d="M461 744 L462 745 L463 746 L463 748 L464 749 L465 751 L463 752" stroke="#2a8aa8"/><path d="M456 736 L455 737 L453 737 L452 735 L450 734 L449 733 L451 732" stroke="#2a8aa8"/><path d="M440 729 L442 728 L443 727 L442 725 L441 724 L440 722 L440 720" stroke="#2070a0"/><path d="M435 716 L433 717 L432 715 L433 714 L435 714 L436 715 L438 715" stroke="#30b8c8"/><path d="M455 693 L454 692 L453 690 L452 689 L453 687 L454 686 L453 684" stroke="#2a8aa8"/><path d="M440 706 L442 706 L443 708 L445 708 L446 706 L445 704 L445 703" stroke="#1a4a70"/><path d="M452 694 L453 693 L454 691 L456 692 L458 691 L459 692 L460 693" stroke="#20a0b0"/><path d="M465 719 L465 721 L464 722 L462 723 L460 723 L459 724 L457 725" stroke="#30b8c8"/><path d="M485 686 L485 684 L486 683 L488 683 L490 683 L491 683 L492 684" stroke="#2a8aa8"/><path d="M477 682 L476 682 L474 680 L472 680 L471 679 L470 678 L468 678" stroke="#1a4a70"/><path d="M465 710 L467 710 L468 708 L467 707 L466 705 L464 705 L462 704" stroke="#20a0b0"/><path d="M449 696 L448 697 L449 699 L450 699 L451 698 L452 696 L451 695" stroke="#30b8c8"/><path d="M468 687 L469 687 L470 686 L472 686 L474 686 L476 686 L478 687" stroke="#1f5f8a"/><path d="M461 714 L459 715 L457 715 L456 717 L456 718 L458 720 L458 721" stroke="#30b8c8"/><path d="M482 712 L484 710 L485 710 L486 709 L488 708 L489 707 L490 706" stroke="#1f5f8a"/><path d="M491 691 L490 691 L488 689 L487 689 L487 687 L488 686 L489 687" stroke="#2a8aa8"/><path d="M474 685 L474 687 L473 688 L471 687 L470 686 L468 686 L467 685" stroke="#1f5f8a"/><path d="M455 715 L454 715 L453 717 L454 718 L455 720 L453 721 L454 723" stroke="#20a0b0"/><path d="M437 708 L436 710 L437 712 L437 713 L436 715 L435 715 L433 716" stroke="#30b8c8"/><path d="M467 722 L469 721 L471 722 L472 720 L472 719 L471 718 L469 719" stroke="#2070a0"/><path d="M490 690 L491 691 L493 691 L495 690 L496 689 L498 688 L497 687" stroke="#20a0b0"/><path d="M463 711 L462 710 L460 710 L458 709 L456 710 L456 712 L457 713" stroke="#1f5f8a"/><path d="M453 703 L455 704 L455 706 L457 706 L459 706 L460 706 L462 706" stroke="#20a0b0"/><path d="M470 715 L471 716 L473 716 L475 717 L475 718 L475 720 L476 721" stroke="#1f5f8a"/><path d="M456 697 L458 698 L459 700 L458 701 L458 703 L457 704 L458 706" stroke="#1f5f8a"/><path d="M457 715 L459 716 L458 717 L456 718 L456 719 L458 720 L460 720" stroke="#20a0b0"/><path d="M481 718 L483 718 L485 720 L486 720 L487 721 L489 721 L490 723" stroke="#1a4a70"/><path d="M443 701 L445 701 L446 701 L447 700 L449 700 L450 702 L450 703" stroke="#2070a0"/><path d="M463 700 L464 702 L464 704 L463 706 L462 706 L460 706 L458 706" stroke="#1f5f8a"/><path d="M485 703 L483 704 L482 705 L481 707 L481 708 L480 710 L480 712" stroke="#30b8c8"/><path d="M453 694 L454 692 L454 690 L456 689 L457 689 L459 688 L461 690" stroke="#1a4a70"/><path d="M438 722 L437 721 L438 720 L439 718 L439 716 L438 715 L437 713" stroke="#1f5f8a"/><path d="M482 726 L480 727 L480 729 L481 731 L480 732 L481 734 L481 736" stroke="#2a8aa8"/><path d="M473 686 L475 686 L477 687 L478 687 L479 686 L479 684 L479 682" stroke="#1f5f8a"/><path d="M474 715 L476 714 L477 713 L478 711 L479 710 L481 709 L482 708" stroke="#1f5f8a"/><path d="M454 745 L452 746 L451 744 L449 744 L447 744 L446 743 L444 742" stroke="#2a8aa8"/><path d="M461 714 L463 715 L463 717 L465 717 L466 715 L466 714 L467 712" stroke="#1a4a70"/><path d="M482 724 L480 724 L480 726 L481 728 L481 729 L479 731 L478 731" stroke="#1a4a70"/><path d="M460 691 L458 690 L457 689 L455 688 L453 688 L452 686 L451 685" stroke="#2070a0"/><path d="M437 719 L439 719 L441 719 L441 721 L443 722 L445 722 L446 724" stroke="#1f5f8a"/><path d="M463 697 L461 699 L461 700 L461 702 L459 703 L458 702 L457 701" stroke="#20a0b0"/><path d="M450 724 L451 722 L453 721 L454 722 L456 722 L457 721 L459 720" stroke="#2a8aa8"/><path d="M485 718 L487 718 L488 716 L487 714 L486 713 L487 711 L488 709" stroke="#2070a0"/><path d="M462 693 L464 693 L466 692 L467 691 L467 689 L468 688 L467 686" stroke="#20a0b0"/><path d="M484 707 L486 706 L485 704 L483 703 L482 702 L482 700 L482 699" stroke="#2070a0"/><path d="M460 692 L459 693 L458 694 L456 696 L455 697 L456 699 L455 701" stroke="#30b8c8"/><path d="M476 682 L478 681 L480 680 L480 679 L479 677 L477 678 L476 679" stroke="#20a0b0"/><path d="M456 707 L457 707 L459 708 L460 709 L461 711 L461 713 L462 714" stroke="#1a4a70"/><path d="M446 715 L445 715 L444 714 L445 712 L447 712 L448 711 L449 709" stroke="#1a4a70"/><path d="M460 700 L459 701 L457 701 L456 700 L455 699 L455 697 L456 695" stroke="#1a4a70"/><path d="M452 705 L451 704 L452 702 L451 701 L449 701 L447 700 L446 701" stroke="#1a4a70"/><path d="M456 707 L457 706 L459 707 L460 706 L461 707 L463 706 L463 704" stroke="#1a4a70"/><path d="M482 709 L481 707 L482 706 L484 704 L485 703 L485 702 L485 700" stroke="#1f5f8a"/><path d="M475 729 L473 728 L471 728 L470 727 L468 728 L466 728 L464 727" stroke="#1f5f8a"/><path d="M488 691 L489 693 L490 693 L491 695 L492 696 L490 697 L490 699" stroke="#2a8aa8"/><path d="M486 702 L485 701 L484 702 L482 703 L481 704 L482 706 L483 706" stroke="#2a8aa8"/><path d="M487 695 L489 696 L488 698 L486 699 L486 700 L487 702 L488 701" stroke="#20a0b0"/><path d="M441 744 L439 744 L438 745 L436 744 L434 746 L433 747 L432 746" stroke="#2a8aa8"/><path d="M458 701 L460 702 L462 700 L463 700 L465 700 L466 701 L467 703" stroke="#1f5f8a"/><path d="M464 703 L464 701 L462 701 L460 700 L459 701 L457 701 L456 703" stroke="#1f5f8a"/><path d="M459 726 L457 726 L457 724 L457 722 L457 721 L457 719 L455 719" stroke="#20a0b0"/><path d="M478 700 L480 701 L480 702 L482 703 L483 704 L484 704 L485 702" stroke="#1a4a70"/><path d="M446 729 L446 731 L447 732 L446 734 L446 736 L447 736 L449 736" stroke="#2070a0"/><path d="M477 687 L478 686 L480 686 L482 687 L481 689 L483 690 L484 689" stroke="#30b8c8"/><path d="M444 732 L444 734 L444 736 L445 736 L446 738 L445 740 L444 741" stroke="#1a4a70"/><path d="M466 710 L465 711 L465 713 L466 715 L467 716 L469 716 L470 714" stroke="#2070a0"/><path d="M472 686 L471 687 L472 689 L471 691 L469 690 L468 689 L467 688" stroke="#20a0b0"/><path d="M461 734 L462 733 L463 734 L465 733 L466 732 L468 732 L469 734" stroke="#1f5f8a"/><path d="M451 699 L449 699 L447 698 L446 697 L445 696 L446 694 L448 694" stroke="#30b8c8"/><path d="M487 719 L488 720 L490 721 L491 721 L493 722 L494 721 L496 720" stroke="#30b8c8"/><path d="M448 714 L449 712 L447 711 L446 711 L444 711 L442 711 L440 710" stroke="#30b8c8"/><path d="M449 734 L450 735 L451 734 L451 733 L449 732 L447 732 L447 730" stroke="#20a0b0"/><path d="M435 741 L437 741 L438 740 L440 739 L441 738 L443 738 L444 736" stroke="#2070a0"/><path d="M450 715 L450 713 L450 711 L449 710 L449 708 L451 708 L452 706" stroke="#2070a0"/><path d="M474 714 L472 713 L471 712 L469 712 L467 712 L466 712 L464 712" stroke="#30b8c8"/><path d="M472 726 L471 725 L473 723 L473 722 L472 720 L471 719 L470 719" stroke="#2a8aa8"/><path d="M445 741 L444 739 L443 738 L441 739 L439 738 L439 736 L440 735" stroke="#30b8c8"/><path d="M479 711 L481 710 L482 709 L484 710 L485 712 L483 713 L483 715" stroke="#30b8c8"/><path d="M468 705 L469 705 L471 704 L473 703 L474 703 L476 702 L476 700" stroke="#2a8aa8"/><path d="M450 718 L449 720 L448 721 L448 723 L448 725 L448 727 L450 728" stroke="#20a0b0"/><path d="M457 712 L456 713 L455 711 L453 712 L452 713 L452 715 L452 717" stroke="#2a8aa8"/><path d="M462 720 L463 719 L464 718 L466 717 L466 715 L466 713 L468 712" stroke="#20a0b0"/><path d="M448 704 L447 705 L445 706 L446 708 L445 710 L446 711 L447 713" stroke="#2070a0"/><path d="M446 748 L446 750 L446 752 L445 752 L443 753 L442 754 L440 754" stroke="#2a8aa8"/><path d="M445 734 L445 735 L444 736 L442 735 L440 735 L439 736 L438 737" stroke="#2a8aa8"/><path d="M461 732 L463 732 L464 731 L465 729 L464 728 L463 726 L464 725" stroke="#30b8c8"/><path d="M451 731 L452 733 L452 734 L450 735 L449 737 L449 739 L448 740" stroke="#20a0b0"/><path d="M453 705 L453 707 L452 708 L451 710 L451 711 L453 712 L454 711" stroke="#2070a0"/><path d="M454 696 L454 694 L454 693 L456 692 L458 691 L459 693 L458 694" stroke="#1a4a70"/><path d="M494 698 L495 698 L497 698 L499 698 L500 697 L502 697 L503 696" stroke="#30b8c8"/><path d="M461 725 L462 727 L464 727 L465 728 L465 730 L465 732 L466 733" stroke="#1f5f8a"/><path d="M468 716 L467 715 L466 713 L465 713 L464 715 L463 717 L461 716" stroke="#30b8c8"/><path d="M451 725 L451 727 L450 728 L449 730 L450 731 L451 732 L453 732" stroke="#20a0b0"/><path d="M449 693 L448 693 L446 694 L447 695 L447 697 L449 698 L448 700" stroke="#30b8c8"/><path d="M478 714 L476 714 L474 715 L472 715 L471 716 L470 717 L468 718" stroke="#2a8aa8"/><path d="M445 709 L447 709 L447 711 L446 712 L444 712 L442 711 L441 710" stroke="#30b8c8"/><path d="M458 693 L456 693 L455 693 L453 692 L452 691 L452 689 L453 687" stroke="#1a4a70"/><path d="M479 680 L477 681 L475 681 L474 683 L472 683 L471 684 L469 683" stroke="#1a4a70"/><path d="M431 733 L432 732 L433 730 L434 729 L435 727 L435 726 L435 724" stroke="#30b8c8"/><path d="M438 740 L437 739 L435 738 L434 736 L433 735 L434 733 L433 732" stroke="#20a0b0"/><path d="M443 711 L445 711 L446 710 L448 710 L449 712 L448 713 L449 715" stroke="#1f5f8a"/><path d="M452 720 L452 718 L450 718 L449 717 L450 715 L449 714 L448 713" stroke="#20a0b0"/><path d="M458 707 L458 705 L460 704 L461 704 L463 704 L464 706 L462 707" stroke="#2070a0"/><path d="M459 691 L458 691 L458 689 L458 687 L460 686 L461 687 L463 685" stroke="#30b8c8"/><path d="M448 716 L449 718 L448 719 L448 721 L449 723 L451 722 L451 720" stroke="#2a8aa8"/><path d="M458 743 L458 741 L458 740 L458 738 L456 737 L456 735 L454 735" stroke="#1a4a70"/><path d="M454 722 L453 720 L454 719 L455 719 L457 720 L457 721 L455 722" stroke="#2a8aa8"/><path d="M474 687 L474 685 L475 684 L477 683 L477 682 L478 680 L478 678" stroke="#1f5f8a"/><path d="M446 700 L447 701 L448 703 L447 704 L445 705 L443 705 L442 706" stroke="#2a8aa8"/><path d="M461 723 L459 724 L457 723 L456 723 L454 725 L454 726 L452 727" stroke="#2070a0"/><path d="M465 698 L463 699 L462 700 L464 702 L465 702 L467 702 L467 700" stroke="#1f5f8a"/><path d="M481 698 L479 698 L479 700 L478 701 L479 703 L480 704 L482 705" stroke="#2070a0"/><path d="M455 692 L455 694 L455 696 L453 696 L451 696 L450 694 L449 694" stroke="#30b8c8"/><path d="M461 717 L460 716 L460 715 L461 713 L460 712 L461 710 L462 709" stroke="#2070a0"/><path d="M479 722 L478 723 L478 725 L478 727 L476 727 L476 729 L474 729" stroke="#1a4a70"/><path d="M447 742 L447 740 L447 738 L448 737 L449 736 L451 735 L453 735" stroke="#1f5f8a"/><path d="M456 718 L458 718 L459 719 L461 717 L462 716 L461 714 L460 713" stroke="#2070a0"/><path d="M441 735 L440 737 L440 738 L442 740 L444 740 L445 741 L447 741" stroke="#2070a0"/><path d="M487 711 L486 709 L484 709 L483 708 L482 706 L482 705 L483 703" stroke="#30b8c8"/><path d="M486 710 L488 710 L489 708 L490 707 L492 708 L493 708 L494 707" stroke="#30b8c8"/><path d="M470 723 L470 722 L469 720 L468 718 L468 717 L467 715 L467 713" stroke="#2a8aa8"/><path d="M454 742 L456 741 L458 741 L459 740 L461 740 L463 740 L465 740" stroke="#20a0b0"/><path d="M493 695 L495 695 L497 695 L498 697 L500 696 L502 695 L503 696" stroke="#20a0b0"/><path d="M440 727 L440 729 L438 729 L437 728 L435 728 L433 727 L432 726" stroke="#2a8aa8"/><path d="M442 734 L443 733 L444 731 L445 731 L446 732 L446 734 L447 735" stroke="#1a4a70"/><path d="M482 697 L482 699 L481 700 L479 701 L478 703 L479 705 L481 705" stroke="#1f5f8a"/><path d="M438 711 L436 711 L434 711 L434 709 L435 707 L436 706 L438 705" stroke="#1a4a70"/><path d="M442 701 L441 700 L442 698 L444 697 L444 696 L443 694 L443 693" stroke="#2070a0"/><path d="M461 714 L463 714 L465 714 L466 713 L468 714 L469 716 L469 717" stroke="#2070a0"/><path d="M448 720 L449 719 L450 718 L452 717 L452 715 L451 714 L450 713" stroke="#1f5f8a"/><path d="M441 739 L442 741 L443 743 L442 744 L442 746 L442 748 L443 749" stroke="#2070a0"/><path d="M466 738 L466 740 L465 742 L466 744 L467 745 L468 745 L470 745" stroke="#30b8c8"/><path d="M436 731 L436 732 L436 734 L438 734 L439 736 L440 737 L440 739" stroke="#2070a0"/><path d="M440 736 L438 737 L437 739 L435 738 L435 740 L434 741 L432 742" stroke="#20a0b0"/><path d="M462 696 L463 698 L464 699 L465 700 L466 702 L465 703 L464 702" stroke="#20a0b0"/><path d="M475 681 L473 679 L473 678 L471 678 L470 679 L468 679 L467 681" stroke="#20a0b0"/><path d="M477 703 L476 701 L476 700 L478 699 L480 700 L480 701 L481 703" stroke="#1a4a70"/><path d="M479 726 L477 725 L476 724 L475 723 L474 721 L474 720 L474 718" stroke="#1a4a70"/><path d="M475 723 L477 723 L478 721 L477 720 L476 719 L474 719 L473 717" stroke="#1f5f8a"/><path d="M490 687 L492 686 L491 685 L491 683 L492 681 L494 681 L495 681" stroke="#2a8aa8"/><path d="M467 682 L466 682 L464 681 L464 679 L463 678 L461 678 L459 678" stroke="#1a4a70"/><path d="M442 746 L441 745 L441 743 L440 741 L440 740 L441 738 L443 738" stroke="#2a8aa8"/><path d="M452 727 L451 728 L451 730 L452 732 L451 733 L449 733 L448 735" stroke="#2a8aa8"/><path d="M476 686 L478 686 L479 685 L480 684 L482 683 L484 683 L484 681" stroke="#2070a0"/><path d="M438 715 L438 717 L439 718 L441 718 L443 719 L443 720 L445 721" stroke="#2070a0"/><path d="M466 712 L468 711 L469 711 L471 710 L471 708 L471 706 L469 705" stroke="#2070a0"/><path d="M487 684 L486 684 L484 684 L483 686 L482 687 L481 688 L479 689" stroke="#2a8aa8"/><path d="M453 741 L454 740 L453 739 L451 739 L451 741 L450 742 L448 743" stroke="#1a4a70"/><path d="M474 733 L476 732 L476 731 L474 730 L474 728 L476 728 L478 728" stroke="#2070a0"/><path d="M439 715 L438 717 L437 717 L435 717 L434 716 L433 714 L434 713" stroke="#1a4a70"/><path d="M490 703 L491 705 L493 704 L495 705 L496 705 L496 707 L497 709" stroke="#1a4a70"/><path d="M440 717 L442 717 L443 715 L444 714 L446 715 L445 717 L445 718" stroke="#2070a0"/><path d="M446 738 L448 738 L449 737 L450 735 L452 735 L453 736 L454 738" stroke="#1a4a70"/><path d="M473 723 L473 721 L474 719 L476 719 L478 720 L479 721 L481 721" stroke="#2070a0"/><path d="M438 737 L437 739 L436 741 L435 741 L433 741 L432 742 L431 744" stroke="#2070a0"/><path d="M472 713 L470 714 L470 716 L469 718 L468 718 L466 717 L466 716" stroke="#30b8c8"/><path d="M434 726 L432 726 L430 726 L429 726 L428 728 L427 729 L428 731" stroke="#1a4a70"/><path d="M457 702 L457 700 L459 699 L459 697 L460 696 L461 694 L462 693" stroke="#30b8c8"/><path d="M486 709 L486 710 L488 711 L489 713 L490 711 L492 712 L493 710" stroke="#20a0b0"/><path d="M458 699 L458 701 L460 702 L461 703 L463 704 L464 704 L465 706" stroke="#20a0b0"/><path d="M483 721 L482 720 L481 719 L479 718 L477 718 L476 718 L474 718" stroke="#2a8aa8"/><path d="M463 692 L465 692 L467 691 L468 692 L470 693 L471 694 L472 696" stroke="#2070a0"/><path d="M480 699 L479 701 L480 703 L481 704 L481 705 L483 706 L485 706" stroke="#1a4a70"/><path d="M477 730 L477 728 L477 726 L479 726 L478 724 L478 722 L477 721" stroke="#20a0b0"/><path d="M450 739 L449 737 L448 736 L448 734 L446 733 L445 732 L444 730" stroke="#2a8aa8"/><path d="M436 715 L437 714 L437 712 L438 711 L437 709 L436 708 L436 706" stroke="#1a4a70"/><path d="M482 706 L481 708 L479 706 L478 705 L479 704 L480 703 L481 701" stroke="#1f5f8a"/><path d="M436 732 L437 731 L438 729 L439 728 L440 729 L442 731 L441 732" stroke="#20a0b0"/><path d="M471 716 L469 717 L468 718 L466 717 L464 717 L464 715 L463 714" stroke="#2a8aa8"/><path d="M461 724 L462 725 L464 725 L466 725 L467 725 L469 724 L470 723" stroke="#30b8c8"/><path d="M481 687 L480 686 L478 686 L477 687 L475 689 L473 688 L472 690" stroke="#2070a0"/><path d="M447 709 L448 710 L450 710 L452 710 L454 710 L454 712 L455 713" stroke="#30b8c8"/><path d="M439 716 L439 718 L440 720 L440 722 L442 723 L443 724 L444 726" stroke="#2a8aa8"/><path d="M458 706 L457 708 L456 709 L455 710 L455 712 L453 712 L452 714" stroke="#1a4a70"/><path d="M454 718 L453 720 L452 721 L453 723 L455 723 L456 722 L457 721" stroke="#1f5f8a"/><path d="M470 688 L471 686 L473 685 L475 686 L475 684 L475 682 L473 683" stroke="#1f5f8a"/><path d="M455 720 L457 719 L458 718 L460 717 L459 715 L457 716 L455 715" stroke="#1a4a70"/><path d="M455 721 L454 723 L454 725 L455 726 L456 728 L455 729 L456 731" stroke="#2070a0"/><path d="M443 745 L445 744 L447 744 L447 742 L445 741 L445 740 L444 738" stroke="#1f5f8a"/><path d="M460 717 L462 717 L464 718 L465 716 L464 715 L462 715 L460 715" stroke="#2a8aa8"/><path d="M493 699 L491 699 L489 699 L488 697 L488 696 L486 695 L485 694" stroke="#2a8aa8"/><path d="M485 712 L484 710 L485 709 L483 707 L482 708 L480 708 L479 710" stroke="#2070a0"/><path d="M471 735 L472 733 L471 731 L469 732 L469 730 L467 729 L466 728" stroke="#30b8c8"/><path d="M465 697 L463 697 L462 698 L460 698 L459 699 L459 701 L458 703" stroke="#2a8aa8"/><path d="M463 719 L462 718 L460 717 L459 716 L458 714 L458 712 L457 710" stroke="#30b8c8"/><path d="M450 699 L449 700 L448 702 L447 702 L445 702 L443 701 L442 702" stroke="#20a0b0"/><path d="M479 686 L481 686 L481 684 L482 682 L482 680 L483 679 L484 678" stroke="#1a4a70"/><path d="M454 690 L452 689 L450 690 L449 689 L448 687 L447 686 L445 685" stroke="#2070a0"/><path d="M468 708 L470 708 L471 707 L472 706 L474 705 L475 703 L477 703" stroke="#2070a0"/><path d="M465 709 L464 707 L462 707 L461 708 L461 710 L459 711 L458 710" stroke="#2070a0"/><path d="M467 715 L468 715 L470 715 L471 714 L472 712 L473 711 L475 710" stroke="#2a8aa8"/><path d="M459 732 L460 730 L459 729 L459 727 L458 725 L458 724 L459 722" stroke="#2070a0"/><path d="M486 702 L488 701 L489 701 L491 701 L493 700 L494 700 L496 700" stroke="#2070a0"/><path d="M475 693 L473 694 L472 694 L470 694 L469 693 L467 694 L466 692" stroke="#1f5f8a"/><path d="M469 689 L470 691 L471 691 L473 690 L474 691 L475 693 L474 694" stroke="#2a8aa8"/><path d="M465 690 L463 691 L462 690 L461 689 L460 687 L461 685 L463 685" stroke="#2070a0"/><path d="M474 715 L473 714 L473 712 L472 711 L474 710 L474 708 L473 706" stroke="#2070a0"/></g><g fill="none" stroke-width="0.5" opacity="0.8" stroke-linejoin="round"><path d="M447 733 L445 732 L444 734 L445 736 L446 737 L446 739 L444 741" stroke="#601018"/><path d="M444 745 L444 746 L445 748 L445 750 L447 750 L448 751 L449 753" stroke="#601018"/><path d="M442 737 L442 736 L444 736 L446 736 L447 734 L449 735 L449 737" stroke="#801020"/><path d="M445 745 L445 743 L445 741 L446 741 L448 742 L449 743 L450 745" stroke="#801020"/><path d="M449 724 L448 723 L446 723 L445 724 L443 725 L442 724 L443 722" stroke="#601018"/><path d="M460 729 L461 731 L462 732 L464 733 L465 734 L466 736 L467 737" stroke="#a01830"/><path d="M459 730 L457 731 L456 732 L455 734 L454 735 L454 737 L453 738" stroke="#801020"/><path d="M445 715 L443 716 L441 716 L440 716 L438 715 L436 714 L435 715" stroke="#a01830"/><path d="M441 742 L440 740 L439 740 L438 738 L438 737 L436 736 L435 735" stroke="#601018"/><path d="M459 727 L461 727 L461 725 L463 724 L464 725 L464 727 L463 728" stroke="#801020"/><path d="M458 723 L458 725 L458 727 L458 729 L459 730 L459 732 L459 734" stroke="#601018"/><path d="M446 717 L446 715 L448 715 L450 715 L452 716 L453 717 L454 717" stroke="#a01830"/><path d="M459 714 L459 712 L460 710 L460 708 L458 708 L457 709 L455 710" stroke="#801020"/><path d="M449 733 L450 734 L450 736 L451 737 L451 739 L449 740 L448 740" stroke="#601018"/><path d="M443 744 L441 743 L439 743 L438 743 L436 745 L437 746 L439 746" stroke="#801020"/><path d="M459 734 L458 733 L457 732 L455 732 L453 733 L452 732 L451 730" stroke="#601018"/><path d="M448 731 L448 733 L447 735 L446 736 L446 738 L448 739 L449 738" stroke="#a01830"/><path d="M442 732 L443 730 L445 730 L447 730 L447 728 L447 726 L446 725" stroke="#801020"/><path d="M438 725 L437 724 L435 724 L435 726 L433 726 L431 726 L430 725" stroke="#601018"/><path d="M454 718 L455 718 L457 718 L458 716 L459 715 L460 714 L462 714" stroke="#801020"/><path d="M444 736 L445 738 L446 739 L446 741 L445 743 L444 744 L443 745" stroke="#801020"/><path d="M460 736 L458 735 L458 733 L457 732 L456 730 L454 729 L452 729" stroke="#801020"/><path d="M444 737 L445 738 L447 739 L448 740 L450 740 L452 741 L454 740" stroke="#601018"/><path d="M453 714 L453 712 L454 711 L456 710 L458 710 L459 709 L461 708" stroke="#a01830"/><path d="M456 731 L458 732 L459 731 L461 732 L461 734 L463 734 L465 734" stroke="#801020"/><path d="M456 738 L456 736 L458 737 L458 738 L457 740 L455 740 L454 740" stroke="#801020"/><path d="M449 742 L448 744 L446 744 L445 745 L446 747 L444 749 L443 748" stroke="#801020"/><path d="M455 733 L456 735 L457 736 L458 738 L460 738 L461 736 L459 735" stroke="#801020"/><path d="M457 732 L455 731 L455 729 L453 728 L452 727 L450 726 L450 724" stroke="#a01830"/><path d="M458 727 L458 729 L457 730 L455 731 L454 730 L452 729 L451 731" stroke="#801020"/><path d="M451 718 L450 717 L449 715 L451 714 L450 713 L450 711 L451 709" stroke="#601018"/><path d="M455 719 L454 717 L454 715 L453 713 L452 713 L450 714 L449 715" stroke="#801020"/><path d="M462 729 L460 729 L459 729 L457 728 L456 729 L456 731 L456 733" stroke="#601018"/><path d="M448 723 L447 724 L445 725 L444 723 L445 721 L444 720 L446 719" stroke="#601018"/><path d="M453 724 L454 726 L454 728 L456 728 L458 729 L457 731 L456 732" stroke="#a01830"/><path d="M440 726 L438 727 L438 728 L437 730 L437 732 L438 733 L440 734" stroke="#a01830"/><path d="M458 737 L459 738 L459 740 L457 740 L455 739 L454 738 L454 736" stroke="#801020"/><path d="M448 720 L447 719 L446 718 L445 716 L443 716 L442 715 L440 717" stroke="#a01830"/><path d="M443 723 L444 723 L446 725 L447 725 L448 723 L450 722 L450 720" stroke="#a01830"/><path d="M451 734 L449 733 L449 731 L450 730 L451 729 L453 728 L454 727" stroke="#a01830"/><path d="M438 738 L438 739 L437 741 L435 742 L434 743 L432 743 L431 741" stroke="#a01830"/><path d="M450 720 L451 722 L450 723 L450 725 L448 725 L447 724 L445 724" stroke="#601018"/><path d="M452 721 L452 723 L454 723 L454 722 L453 720 L452 719 L450 720" stroke="#801020"/><path d="M455 733 L454 734 L454 736 L455 737 L455 739 L456 741 L456 742" stroke="#a01830"/><path d="M459 734 L459 736 L458 737 L456 737 L454 736 L454 735 L452 734" stroke="#601018"/><path d="M452 727 L450 727 L450 725 L450 723 L451 722 L450 721 L449 719" stroke="#a01830"/><path d="M441 737 L443 738 L442 740 L442 742 L441 743 L439 742 L439 740" stroke="#a01830"/><path d="M445 739 L443 739 L442 740 L440 741 L439 741 L437 740 L437 739" stroke="#801020"/><path d="M449 719 L448 719 L447 721 L446 722 L447 724 L449 724 L449 726" stroke="#601018"/><path d="M453 712 L454 711 L456 713 L457 712 L459 713 L460 711 L462 712" stroke="#601018"/><path d="M442 725 L443 724 L444 724 L445 726 L447 726 L447 724 L448 722" stroke="#a01830"/><path d="M450 738 L452 738 L453 736 L454 736 L456 735 L456 733 L455 732" stroke="#601018"/><path d="M450 720 L449 719 L447 719 L447 721 L447 723 L446 724 L444 725" stroke="#601018"/><path d="M463 727 L463 725 L465 725 L465 723 L465 722 L466 721 L468 720" stroke="#601018"/><path d="M448 737 L449 739 L450 740 L451 741 L452 739 L452 737 L451 736" stroke="#a01830"/><path d="M456 738 L455 739 L455 741 L457 742 L458 740 L459 739 L461 739" stroke="#801020"/><path d="M447 734 L446 733 L445 731 L446 730 L448 731 L449 732 L450 733" stroke="#801020"/><path d="M447 735 L447 734 L449 732 L449 730 L448 729 L446 730 L444 730" stroke="#601018"/><path d="M456 715 L457 713 L457 711 L458 710 L459 709 L459 707 L459 705" stroke="#801020"/><path d="M457 718 L456 720 L456 721 L458 722 L458 724 L459 726 L458 727" stroke="#801020"/><path d="M440 743 L439 744 L437 742 L438 741 L440 740 L441 742 L440 743" stroke="#601018"/><path d="M456 721 L456 719 L454 718 L452 719 L452 721 L450 721 L449 719" stroke="#601018"/><path d="M438 725 L436 725 L435 724 L435 722 L436 721 L437 719 L439 719" stroke="#601018"/><path d="M462 720 L463 721 L464 723 L463 724 L461 725 L459 725 L459 726" stroke="#801020"/><path d="M444 721 L446 721 L447 720 L446 718 L444 719 L442 718 L441 718" stroke="#a01830"/><path d="M462 719 L460 719 L458 718 L457 717 L458 715 L459 713 L461 714" stroke="#a01830"/><path d="M451 719 L452 721 L453 722 L455 722 L456 721 L458 722 L458 724" stroke="#a01830"/><path d="M458 712 L460 711 L460 709 L461 708 L463 709 L464 710 L463 712" stroke="#a01830"/><path d="M454 741 L455 743 L453 744 L452 743 L450 742 L449 742 L448 741" stroke="#a01830"/><path d="M449 719 L448 719 L447 717 L446 716 L444 715 L442 716 L441 715" stroke="#801020"/><path d="M456 714 L455 716 L456 717 L457 718 L459 717 L460 716 L459 714" stroke="#a01830"/><path d="M452 720 L454 719 L455 720 L456 721 L455 722 L453 722 L452 720" stroke="#801020"/><path d="M453 711 L455 710 L456 709 L456 708 L455 706 L456 704 L457 703" stroke="#801020"/><path d="M458 738 L460 737 L462 737 L463 737 L465 736 L465 734 L464 733" stroke="#a01830"/><path d="M454 713 L452 712 L453 710 L454 710 L454 708 L453 707 L451 707" stroke="#801020"/><path d="M452 738 L453 736 L453 734 L453 733 L451 732 L451 730 L449 731" stroke="#601018"/><path d="M447 732 L445 731 L443 732 L442 732 L440 732 L438 732 L437 734" stroke="#a01830"/><path d="M446 731 L446 729 L447 728 L448 726 L450 726 L451 724 L451 722" stroke="#601018"/><path d="M447 738 L446 739 L444 739 L444 741 L443 743 L442 744 L440 744" stroke="#801020"/><path d="M460 720 L461 721 L461 722 L461 724 L461 726 L463 726 L465 727" stroke="#801020"/><path d="M461 724 L461 722 L460 721 L461 719 L461 717 L462 715 L463 715" stroke="#801020"/><path d="M439 728 L437 730 L436 731 L438 732 L437 734 L437 736 L435 736" stroke="#801020"/><path d="M445 730 L447 730 L448 732 L450 733 L451 732 L451 730 L453 730" stroke="#801020"/><path d="M437 738 L435 738 L434 740 L434 741 L434 743 L435 744 L437 743" stroke="#601018"/><path d="M451 726 L452 726 L454 726 L455 728 L457 729 L458 728 L460 728" stroke="#a01830"/><path d="M452 740 L450 742 L449 742 L447 743 L445 743 L444 744 L442 743" stroke="#801020"/><path d="M445 724 L444 726 L444 728 L446 728 L448 727 L449 726 L451 726" stroke="#801020"/><path d="M458 733 L456 732 L455 733 L455 735 L454 736 L452 735 L451 735" stroke="#601018"/><path d="M461 715 L459 716 L460 718 L461 719 L462 721 L460 722 L459 720" stroke="#a01830"/><path d="M437 734 L436 735 L434 734 L434 732 L432 732 L431 731 L429 731" stroke="#a01830"/><path d="M445 740 L444 739 L442 739 L440 739 L439 737 L440 736 L442 735" stroke="#601018"/><path d="M438 729 L437 731 L436 731 L434 730 L433 729 L431 729 L430 728" stroke="#801020"/><path d="M448 741 L450 742 L452 743 L453 742 L454 740 L456 741 L457 739" stroke="#601018"/><path d="M445 733 L446 735 L445 736 L446 738 L447 739 L447 741 L446 743" stroke="#a01830"/><path d="M439 732 L439 733 L441 734 L442 735 L443 736 L444 738 L444 740" stroke="#801020"/><path d="M443 723 L442 721 L444 720 L444 718 L444 717 L442 716 L441 715" stroke="#601018"/><path d="M456 728 L455 728 L453 728 L451 730 L450 729 L449 727 L448 726" stroke="#601018"/><path d="M456 722 L457 723 L458 724 L460 725 L461 726 L460 728 L459 728" stroke="#801020"/><path d="M458 738 L460 739 L460 741 L462 741 L463 743 L462 745 L462 746" stroke="#a01830"/><path d="M451 744 L452 743 L454 742 L456 742 L457 741 L459 741 L461 741" stroke="#a01830"/><path d="M443 732 L441 732 L441 730 L440 729 L438 729 L436 730 L436 732" stroke="#a01830"/><path d="M444 741 L445 742 L447 743 L448 744 L449 745 L451 744 L452 742" stroke="#601018"/><path d="M445 735 L447 734 L449 735 L450 737 L451 737 L452 739 L453 740" stroke="#601018"/><path d="M437 731 L438 730 L438 728 L437 727 L437 725 L436 724 L434 725" stroke="#801020"/><path d="M444 725 L442 724 L441 723 L440 721 L438 721 L436 721 L434 721" stroke="#601018"/><path d="M447 729 L445 730 L444 731 L443 732 L441 733 L441 734 L442 736" stroke="#601018"/><path d="M448 727 L449 725 L449 723 L451 723 L452 721 L452 720 L450 720" stroke="#a01830"/><path d="M455 736 L455 734 L457 734 L457 735 L456 737 L455 736 L453 737" stroke="#a01830"/><path d="M450 734 L449 736 L448 737 L447 738 L447 740 L449 741 L450 741" stroke="#801020"/><path d="M459 719 L457 719 L455 719 L454 721 L453 721 L452 722 L451 724" stroke="#601018"/></g><g fill="none" stroke-width="0.5" opacity="0.8" stroke-linejoin="round"><path d="M477 704 L478 703 L477 701 L476 700 L474 701 L474 703 L472 704" stroke="#402010"/><path d="M475 703 L476 705 L474 706 L475 708 L474 710 L473 710 L471 711" stroke="#605030"/><path d="M493 694 L494 692 L496 692 L497 692 L499 691 L501 690 L502 689" stroke="#503020"/><path d="M489 696 L488 694 L486 694 L485 694 L483 693 L484 691 L484 689" stroke="#605030"/><path d="M489 693 L490 694 L492 695 L493 694 L494 693 L496 693 L498 694" stroke="#402010"/><path d="M477 714 L475 713 L474 713 L472 713 L470 712 L469 714 L469 716" stroke="#2a1a10"/><path d="M480 698 L479 696 L478 695 L477 694 L477 692 L476 691 L476 689" stroke="#503020"/><path d="M473 710 L471 710 L470 712 L469 712 L467 711 L466 709 L464 709" stroke="#2a1a10"/><path d="M483 704 L482 704 L480 705 L480 707 L481 709 L481 710 L483 711" stroke="#402010"/><path d="M481 695 L481 693 L481 691 L483 692 L484 693 L484 695 L484 697" stroke="#402010"/><path d="M486 690 L484 691 L483 692 L482 694 L480 694 L480 696 L481 698" stroke="#605030"/><path d="M484 702 L484 700 L482 699 L481 697 L480 696 L480 694 L479 693" stroke="#402010"/><path d="M477 704 L477 703 L477 701 L477 699 L475 698 L474 698 L472 699" stroke="#503020"/><path d="M487 693 L486 695 L488 696 L488 697 L487 699 L487 701 L488 703" stroke="#605030"/><path d="M486 691 L486 693 L484 694 L484 696 L482 697 L482 698 L483 700" stroke="#605030"/><path d="M484 693 L486 694 L487 695 L488 697 L489 698 L490 699 L492 699" stroke="#2a1a10"/><path d="M474 712 L472 713 L473 715 L475 715 L476 717 L477 718 L479 718" stroke="#503020"/><path d="M483 688 L481 687 L480 687 L479 686 L477 685 L476 684 L476 682" stroke="#402010"/><path d="M483 705 L484 705 L485 703 L485 702 L484 700 L485 699 L486 697" stroke="#503020"/><path d="M478 699 L479 700 L477 702 L477 703 L479 704 L481 704 L483 704" stroke="#2a1a10"/><path d="M481 704 L482 703 L483 701 L485 701 L485 699 L484 697 L486 696" stroke="#605030"/><path d="M489 687 L491 688 L493 688 L494 689 L496 689 L497 688 L499 689" stroke="#503020"/><path d="M488 702 L488 703 L486 704 L485 705 L484 707 L484 708 L484 710" stroke="#402010"/><path d="M484 700 L485 699 L485 697 L483 696 L483 695 L483 693 L485 692" stroke="#2a1a10"/><path d="M475 706 L474 705 L475 703 L473 702 L473 700 L472 699 L472 698" stroke="#402010"/><path d="M481 709 L480 709 L478 710 L479 711 L480 712 L482 711 L484 710" stroke="#605030"/><path d="M484 705 L484 703 L483 702 L481 701 L480 702 L479 703 L479 705" stroke="#605030"/><path d="M482 714 L482 712 L483 711 L485 710 L485 708 L484 707 L483 705" stroke="#2a1a10"/><path d="M475 701 L474 700 L474 698 L475 697 L476 696 L478 696 L480 696" stroke="#605030"/><path d="M489 693 L489 694 L491 695 L493 695 L494 696 L495 697 L494 699" stroke="#503020"/><path d="M483 712 L484 712 L486 711 L488 711 L489 711 L491 710 L491 708" stroke="#402010"/><path d="M475 717 L476 716 L477 714 L478 713 L476 711 L476 710 L477 708" stroke="#2a1a10"/><path d="M477 717 L476 716 L474 716 L474 714 L472 713 L471 713 L471 715" stroke="#605030"/><path d="M477 714 L477 712 L478 711 L480 710 L481 712 L483 711 L483 710" stroke="#2a1a10"/><path d="M484 701 L483 700 L482 698 L482 696 L481 695 L479 694 L477 695" stroke="#605030"/><path d="M494 696 L492 695 L491 694 L489 695 L488 694 L489 692 L488 690" stroke="#402010"/><path d="M494 687 L492 687 L491 688 L489 688 L487 688 L486 689 L485 691" stroke="#605030"/><path d="M484 694 L485 696 L487 695 L488 694 L489 693 L491 694 L493 695" stroke="#605030"/><path d="M486 711 L484 711 L482 712 L481 713 L480 715 L480 716 L480 718" stroke="#503020"/><path d="M495 688 L496 687 L496 685 L498 685 L499 687 L500 689 L499 690" stroke="#605030"/><path d="M489 689 L487 691 L486 691 L484 691 L483 692 L481 692 L479 691" stroke="#2a1a10"/><path d="M487 697 L488 696 L489 695 L491 695 L493 695 L495 695 L496 697" stroke="#605030"/><path d="M480 715 L478 715 L476 715 L475 717 L475 719 L474 720 L473 721" stroke="#2a1a10"/><path d="M494 691 L495 690 L497 689 L498 688 L498 686 L499 685 L500 683" stroke="#605030"/><path d="M477 710 L477 708 L477 706 L475 706 L473 705 L472 704 L471 702" stroke="#605030"/><path d="M475 712 L474 714 L475 715 L474 717 L473 718 L471 719 L470 718" stroke="#2a1a10"/><path d="M491 692 L493 693 L492 695 L491 695 L489 696 L490 698 L488 699" stroke="#402010"/><path d="M475 709 L474 710 L474 712 L473 713 L471 712 L470 713 L470 715" stroke="#402010"/><path d="M486 701 L485 701 L483 701 L482 703 L481 704 L481 706 L481 708" stroke="#402010"/><path d="M490 698 L488 699 L486 700 L485 699 L483 699 L481 700 L479 700" stroke="#402010"/><path d="M476 716 L477 714 L479 713 L480 713 L482 711 L484 712 L485 712" stroke="#605030"/><path d="M484 691 L483 691 L481 692 L480 693 L480 695 L479 697 L478 697" stroke="#503020"/><path d="M489 706 L490 704 L491 703 L493 703 L494 705 L493 706 L494 708" stroke="#503020"/><path d="M482 696 L480 695 L478 696 L477 695 L475 694 L474 695 L472 694" stroke="#2a1a10"/><path d="M482 711 L484 713 L485 714 L486 715 L487 716 L489 716 L491 715" stroke="#2a1a10"/><path d="M494 698 L493 697 L494 695 L495 695 L497 696 L496 698 L495 699" stroke="#503020"/><path d="M478 700 L479 701 L480 703 L481 704 L481 705 L482 707 L484 708" stroke="#402010"/><path d="M478 698 L479 699 L481 700 L482 700 L482 698 L480 698 L479 697" stroke="#605030"/><path d="M491 691 L492 692 L492 694 L494 695 L494 696 L496 697 L497 695" stroke="#503020"/><path d="M482 713 L484 713 L485 713 L487 713 L489 713 L489 711 L489 709" stroke="#605030"/><path d="M473 711 L472 712 L472 714 L471 714 L471 716 L473 717 L474 718" stroke="#605030"/><path d="M486 707 L487 708 L489 708 L490 710 L489 711 L489 713 L489 714" stroke="#402010"/><path d="M481 694 L479 694 L477 694 L476 696 L475 697 L474 698 L474 700" stroke="#605030"/><path d="M484 687 L485 688 L487 688 L489 689 L490 689 L492 688 L493 687" stroke="#2a1a10"/><path d="M482 691 L480 691 L478 691 L478 693 L478 695 L477 697 L478 698" stroke="#605030"/><path d="M492 685 L492 687 L492 688 L491 690 L489 690 L487 691 L486 691" stroke="#605030"/><path d="M490 698 L490 700 L488 701 L487 700 L485 701 L483 700 L481 700" stroke="#402010"/><path d="M483 699 L481 700 L480 701 L478 700 L477 699 L475 699 L473 699" stroke="#402010"/><path d="M489 703 L490 704 L490 706 L489 707 L488 708 L486 706 L486 705" stroke="#2a1a10"/><path d="M490 684 L491 685 L493 686 L493 687 L493 689 L495 690 L496 691" stroke="#2a1a10"/><path d="M490 689 L489 690 L487 689 L486 691 L485 690 L485 688 L487 688" stroke="#2a1a10"/><path d="M484 688 L486 688 L487 688 L489 688 L491 688 L492 687 L494 687" stroke="#2a1a10"/><path d="M477 700 L479 700 L480 699 L482 699 L483 698 L484 697 L485 695" stroke="#402010"/><path d="M490 703 L488 702 L488 700 L490 698 L490 697 L491 695 L492 694" stroke="#402010"/><path d="M478 714 L476 714 L475 715 L474 717 L475 718 L474 720 L473 721" stroke="#2a1a10"/><path d="M477 711 L478 710 L480 709 L481 711 L483 711 L484 712 L486 712" stroke="#2a1a10"/><path d="M489 699 L491 698 L491 696 L491 695 L490 693 L492 692 L492 690" stroke="#605030"/><path d="M484 708 L482 708 L480 708 L480 710 L479 712 L480 713 L482 713" stroke="#402010"/><path d="M490 704 L490 705 L489 707 L488 708 L488 710 L486 711 L486 713" stroke="#605030"/><path d="M486 700 L488 701 L489 699 L491 699 L492 700 L493 698 L493 697" stroke="#402010"/><path d="M478 703 L477 702 L475 703 L473 703 L472 705 L473 706 L474 707" stroke="#2a1a10"/><path d="M478 698 L480 699 L482 699 L482 701 L482 702 L483 703 L485 702" stroke="#2a1a10"/><path d="M478 716 L479 717 L479 719 L477 720 L477 721 L475 721 L474 722" stroke="#402010"/><path d="M481 699 L483 701 L484 701 L486 702 L488 702 L489 700 L489 698" stroke="#605030"/><path d="M480 699 L478 698 L477 696 L476 697 L475 699 L475 701 L473 701" stroke="#605030"/><path d="M490 704 L490 706 L490 708 L489 709 L487 710 L486 712 L487 713" stroke="#2a1a10"/><path d="M489 707 L488 706 L486 706 L486 708 L485 709 L483 709 L482 708" stroke="#402010"/><path d="M491 700 L490 701 L488 702 L486 701 L485 700 L484 699 L485 698" stroke="#2a1a10"/><path d="M479 706 L480 707 L481 709 L482 710 L484 711 L485 711 L487 711" stroke="#605030"/><path d="M489 685 L488 687 L488 688 L489 690 L489 691 L489 693 L489 695" stroke="#402010"/><path d="M481 710 L482 712 L483 713 L483 715 L484 717 L482 718 L481 719" stroke="#503020"/><path d="M490 686 L491 687 L493 688 L494 688 L495 690 L496 691 L496 693" stroke="#2a1a10"/><path d="M491 702 L490 703 L489 705 L490 706 L491 707 L493 707 L495 708" stroke="#2a1a10"/><path d="M489 686 L488 686 L487 688 L485 688 L483 688 L483 686 L481 686" stroke="#402010"/><path d="M485 711 L485 709 L486 708 L487 706 L486 704 L485 703 L483 702" stroke="#503020"/><path d="M494 694 L492 694 L491 692 L489 693 L488 692 L486 691 L487 689" stroke="#2a1a10"/><path d="M489 685 L488 687 L488 688 L488 690 L490 690 L491 691 L493 689" stroke="#605030"/><path d="M480 701 L481 700 L479 698 L478 699 L477 700 L475 700 L475 698" stroke="#402010"/><path d="M475 716 L475 714 L476 713 L476 711 L475 710 L473 711 L472 712" stroke="#605030"/><path d="M488 693 L486 693 L485 691 L485 690 L486 688 L487 687 L489 686" stroke="#2a1a10"/><path d="M480 706 L482 706 L483 705 L483 703 L483 701 L483 699 L482 698" stroke="#2a1a10"/><path d="M488 701 L486 701 L485 702 L485 704 L485 706 L487 707 L486 709" stroke="#402010"/><path d="M473 714 L475 714 L477 714 L478 712 L479 711 L481 710 L481 708" stroke="#2a1a10"/><path d="M478 712 L476 712 L474 713 L472 713 L471 713 L469 712 L468 713" stroke="#503020"/><path d="M485 700 L483 699 L483 698 L481 697 L480 698 L479 700 L477 700" stroke="#2a1a10"/><path d="M486 696 L485 697 L485 699 L486 700 L488 701 L489 702 L491 702" stroke="#402010"/><path d="M478 699 L477 701 L475 701 L474 701 L474 699 L475 697 L474 695" stroke="#503020"/><path d="M475 717 L475 718 L473 719 L473 721 L472 722 L473 724 L474 723" stroke="#402010"/><path d="M490 694 L488 694 L487 696 L485 697 L484 697 L482 697 L481 699" stroke="#2a1a10"/><path d="M478 714 L480 714 L481 713 L481 711 L482 710 L481 708 L480 707" stroke="#605030"/></g></g><g fill="none" stroke-width="0.5" opacity="0.8" stroke-linejoin="round"><path d="M434 690 L435 688 L435 686 L434 684 L433 682 L434 681 L434 679" stroke="#4060b0"/><path d="M438 691 L436 692 L435 694 L433 694 L432 695 L430 695 L428 695" stroke="#3050a0"/><path d="M441 689 L441 691 L443 692 L445 692 L446 690 L445 688 L446 687" stroke="#4060b0"/><path d="M441 691 L441 690 L441 688 L443 687 L445 687 L447 687 L449 687" stroke="#3050a0"/><path d="M444 688 L442 687 L441 686 L439 684 L437 684 L436 685 L436 687" stroke="#3050a0"/><path d="M436 685 L438 686 L438 688 L439 690 L439 692 L437 693 L437 695" stroke="#4060b0"/><path d="M439 688 L437 688 L437 690 L436 692 L437 694 L436 695 L434 695" stroke="#3050a0"/><path d="M441 688 L441 690 L440 691 L439 693 L437 692 L436 694 L434 695" stroke="#4060b0"/><path d="M447 686 L448 688 L448 690 L449 692 L451 693 L452 693 L454 692" stroke="#4060b0"/><path d="M440 688 L442 688 L443 687 L445 688 L446 689 L448 689 L449 687" stroke="#4060b0"/><path d="M435 686 L433 684 L433 683 L434 681 L433 679 L435 678 L437 677" stroke="#3050a0"/><path d="M440 691 L439 693 L437 692 L435 692 L434 690 L433 689 L433 687" stroke="#3050a0"/><path d="M440 687 L441 688 L443 687 L445 688 L447 686 L447 684 L447 682" stroke="#4060b0"/><path d="M443 688 L442 690 L442 692 L441 693 L442 695 L444 695 L445 697" stroke="#4060b0"/><path d="M445 690 L443 689 L444 687 L443 685 L441 685 L439 686 L438 684" stroke="#3050a0"/><path d="M433 689 L435 689 L437 689 L438 687 L440 688 L440 690 L442 690" stroke="#4060b0"/><path d="M439 691 L438 691 L437 693 L437 695 L439 696 L440 698 L441 699" stroke="#3050a0"/><path d="M438 685 L440 686 L442 685 L443 686 L445 687 L447 685 L447 683" stroke="#4060b0"/><path d="M447 688 L448 686 L450 686 L451 684 L451 682 L452 680 L454 680" stroke="#4060b0"/><path d="M436 690 L437 692 L436 694 L436 696 L435 697 L435 699 L433 701" stroke="#3050a0"/></g>
<g transform="translate(1080 0) scale(-1 1)"><clipPath id="cmR"><path d="M426 688 C440 678 475 672 500 678 C502 700 490 725 472 752 C452 754 436 750 428 742 C420 725 420 705 426 688Z"/></clipPath><g><path d="M492 676 C502 684 498 700 486 716 C474 734 460 750 444 752 C430 752 422 740 424 722 C426 700 440 686 460 680 C472 676 484 674 492 676Z" fill="#356f8c" opacity="0.72" filter="url(#bl2)"/><ellipse cx="450" cy="728" rx="14" ry="19" transform="rotate(30 450 728)" fill="#6a1828" opacity="0.5" filter="url(#bl2)"/><ellipse cx="484" cy="700" rx="8" ry="20" transform="rotate(30 484 700)" fill="#2a1a10" opacity="0.6" filter="url(#bl2)"/><g fill="none" stroke-width="0.55" opacity="0.9" stroke-linejoin="round"><path d="M462 719 L463 718 L465 717 L467 716 L467 715 L468 713 L469 712" stroke="#2a8aa8"/><path d="M434 733 L434 735 L433 736 L435 737 L434 739 L432 739 L431 738" stroke="#2070a0"/><path d="M474 709 L473 707 L471 708 L470 707 L469 706 L469 704 L468 702" stroke="#2070a0"/><path d="M480 694 L479 692 L479 690 L478 689 L477 688 L477 686 L479 687" stroke="#1f5f8a"/><path d="M466 696 L467 697 L469 696 L470 697 L472 697 L473 699 L474 700" stroke="#1f5f8a"/><path d="M478 731 L479 732 L478 734 L477 735 L477 737 L478 738 L480 738" stroke="#1a4a70"/><path d="M461 686 L463 687 L464 686 L466 686 L467 685 L468 683 L470 682" stroke="#2a8aa8"/><path d="M454 715 L452 714 L451 715 L449 715 L449 713 L450 711 L452 712" stroke="#1f5f8a"/><path d="M443 728 L445 728 L445 726 L446 725 L447 724 L447 722 L448 720" stroke="#30b8c8"/><path d="M475 690 L476 690 L478 690 L479 688 L479 686 L479 684 L478 683" stroke="#2070a0"/><path d="M464 717 L464 716 L462 715 L462 713 L463 712 L464 710 L463 709" stroke="#20a0b0"/><path d="M471 708 L469 706 L468 705 L467 706 L467 708 L468 708 L470 709" stroke="#30b8c8"/><path d="M456 736 L455 737 L453 738 L452 739 L452 741 L452 743 L453 744" stroke="#2a8aa8"/><path d="M467 720 L465 721 L464 723 L463 723 L461 722 L460 723 L459 724" stroke="#2a8aa8"/><path d="M458 724 L460 725 L460 727 L458 727 L456 727 L455 726 L454 724" stroke="#2a8aa8"/><path d="M482 722 L481 723 L480 724 L481 725 L482 727 L484 727 L484 725" stroke="#30b8c8"/><path d="M442 741 L443 741 L445 741 L447 742 L447 744 L445 745 L444 746" stroke="#20a0b0"/><path d="M445 703 L447 703 L448 702 L449 700 L448 699 L447 697 L446 696" stroke="#1f5f8a"/><path d="M452 694 L453 693 L455 693 L456 695 L458 695 L459 697 L459 699" stroke="#1a4a70"/><path d="M462 718 L460 717 L458 718 L458 720 L460 720 L460 722 L461 723" stroke="#2070a0"/><path d="M470 704 L471 702 L470 701 L470 699 L469 697 L471 696 L471 694" stroke="#1a4a70"/><path d="M452 706 L452 708 L451 709 L449 709 L448 708 L446 709 L445 710" stroke="#2a8aa8"/><path d="M460 703 L461 705 L460 706 L459 707 L457 707 L457 705 L456 703" stroke="#2a8aa8"/><path d="M441 737 L443 738 L444 738 L446 738 L448 739 L448 741 L447 742" stroke="#2070a0"/><path d="M444 704 L444 705 L446 705 L448 706 L449 708 L451 708 L452 709" stroke="#1f5f8a"/><path d="M466 702 L465 704 L466 706 L465 707 L463 708 L462 706 L460 706" stroke="#1f5f8a"/><path d="M474 711 L476 711 L478 712 L479 712 L481 711 L482 709 L480 708" stroke="#1a4a70"/><path d="M447 698 L446 699 L444 700 L443 700 L441 699 L442 697 L440 696" stroke="#20a0b0"/><path d="M492 694 L494 695 L495 697 L494 699 L493 700 L492 702 L491 702" stroke="#30b8c8"/><path d="M466 721 L465 723 L463 723 L462 723 L460 722 L458 722 L457 721" stroke="#1f5f8a"/><path d="M488 686 L487 684 L489 683 L491 684 L492 683 L493 682 L493 680" stroke="#2070a0"/><path d="M450 712 L450 710 L452 710 L454 709 L453 707 L453 705 L454 704" stroke="#2a8aa8"/><path d="M483 690 L482 689 L483 687 L484 686 L486 685 L487 685 L489 686" stroke="#2070a0"/><path d="M460 734 L459 732 L459 731 L460 729 L460 727 L459 726 L460 724" stroke="#2070a0"/><path d="M460 743 L462 742 L463 743 L465 741 L466 740 L468 739 L469 739" stroke="#1f5f8a"/><path d="M447 698 L449 697 L450 698 L452 698 L452 697 L451 695 L452 694" stroke="#1a4a70"/><path d="M474 733 L475 732 L476 730 L475 729 L473 727 L473 726 L475 725" stroke="#1a4a70"/><path d="M449 700 L449 702 L451 703 L451 705 L450 706 L450 708 L452 708" stroke="#1f5f8a"/><path d="M465 697 L464 698 L464 700 L463 701 L464 703 L465 705 L466 705" stroke="#2a8aa8"/><path d="M486 713 L488 714 L488 716 L488 718 L487 720 L486 720 L484 720" stroke="#2a8aa8"/><path d="M476 723 L477 721 L476 720 L476 718 L477 717 L479 718 L481 718" stroke="#30b8c8"/><path d="M471 681 L470 679 L468 680 L467 678 L465 679 L465 680 L465 682" stroke="#1a4a70"/><path d="M476 691 L475 690 L473 689 L472 688 L471 688 L470 690 L469 691" stroke="#30b8c8"/><path d="M442 738 L443 736 L444 734 L443 733 L441 733 L440 734 L442 735" stroke="#2070a0"/><path d="M483 720 L482 721 L483 723 L484 723 L486 722 L486 720 L487 718" stroke="#2070a0"/><path d="M470 724 L469 726 L468 728 L468 730 L467 731 L468 732 L469 734" stroke="#2a8aa8"/><path d="M444 732 L443 730 L442 730 L440 731 L439 732 L439 733 L438 735" stroke="#20a0b0"/><path d="M487 689 L487 691 L488 693 L488 694 L489 696 L491 696 L492 697" stroke="#2a8aa8"/><path d="M475 692 L476 693 L477 694 L477 696 L476 697 L475 698 L473 699" stroke="#1f5f8a"/><path d="M470 690 L470 691 L468 692 L467 690 L465 690 L464 692 L462 691" stroke="#30b8c8"/><path d="M460 729 L458 728 L456 728 L456 726 L457 724 L459 723 L460 724" stroke="#2070a0"/><path d="M442 747 L440 745 L439 745 L438 746 L438 748 L438 749 L440 749" stroke="#30b8c8"/><path d="M445 723 L443 723 L441 723 L440 721 L438 721 L437 722 L435 721" stroke="#2070a0"/><path d="M477 716 L477 718 L478 719 L480 720 L481 719 L483 718 L485 718" stroke="#1f5f8a"/><path d="M458 718 L458 720 L459 721 L460 723 L461 725 L463 725 L463 727" stroke="#20a0b0"/><path d="M466 694 L467 693 L467 692 L465 691 L464 690 L462 689 L463 687" stroke="#20a0b0"/><path d="M460 723 L459 721 L459 720 L458 718 L458 716 L457 715 L457 713" stroke="#1f5f8a"/><path d="M479 726 L479 724 L480 723 L482 724 L483 725 L485 725 L487 725" stroke="#1a4a70"/><path d="M442 712 L442 714 L443 715 L444 717 L444 719 L442 720 L442 722" stroke="#20a0b0"/><path d="M482 727 L484 728 L485 727 L485 726 L487 725 L489 726 L490 727" stroke="#30b8c8"/><path d="M454 731 L455 730 L454 728 L453 727 L451 728 L450 726 L449 724" stroke="#20a0b0"/><path d="M447 726 L446 726 L444 727 L444 729 L445 729 L446 731 L447 733" stroke="#20a0b0"/><path d="M486 684 L486 686 L485 688 L487 689 L486 690 L485 691 L484 693" stroke="#2070a0"/><path d="M489 702 L488 701 L486 701 L485 702 L485 704 L484 706 L483 707" stroke="#30b8c8"/><path d="M474 719 L475 717 L476 716 L475 714 L475 713 L474 711 L473 712" stroke="#2070a0"/><path d="M477 720 L476 718 L474 720 L474 721 L472 721 L470 721 L469 720" stroke="#1a4a70"/><path d="M481 706 L482 707 L484 708 L485 710 L486 711 L488 710 L489 710" stroke="#2070a0"/><path d="M482 721 L480 720 L479 719 L479 717 L480 715 L479 714 L481 712" stroke="#20a0b0"/><path d="M473 682 L472 684 L473 686 L473 687 L474 689 L476 689 L478 689" stroke="#1a4a70"/><path d="M476 722 L475 723 L473 722 L473 721 L471 720 L470 721 L468 722" stroke="#2070a0"/><path d="M437 729 L438 730 L439 732 L440 733 L441 734 L443 735 L444 736" stroke="#30b8c8"/><path d="M489 712 L490 713 L492 713 L493 714 L494 716 L496 716 L498 715" stroke="#2070a0"/><path d="M452 723 L450 723 L449 724 L449 726 L449 727 L448 729 L448 730" stroke="#2070a0"/><path d="M480 686 L482 685 L483 685 L484 687 L483 689 L481 688 L481 687" stroke="#20a0b0"/><path d="M432 739 L433 737 L435 738 L436 739 L437 740 L439 740 L441 740" stroke="#20a0b0"/><path d="M434 725 L433 727 L431 726 L430 728 L430 730 L432 731 L433 732" stroke="#2a8aa8"/><path d="M493 697 L494 697 L495 698 L497 699 L499 698 L500 697 L501 695" stroke="#2070a0"/><path d="M477 704 L478 705 L480 704 L481 703 L483 702 L484 701 L485 700" stroke="#2070a0"/><path d="M452 708 L454 709 L456 709 L457 709 L458 711 L458 712 L459 713" stroke="#1f5f8a"/><path d="M434 720 L436 720 L437 722 L437 723 L435 724 L436 726 L435 727" stroke="#1f5f8a"/><path d="M450 709 L449 708 L447 708 L446 706 L444 706 L444 704 L445 703" stroke="#2a8aa8"/><path d="M451 729 L451 731 L453 732 L453 733 L452 735 L451 735 L450 737" stroke="#30b8c8"/><path d="M469 708 L471 708 L471 706 L473 705 L474 704 L476 703 L475 701" stroke="#2a8aa8"/><path d="M473 732 L473 734 L475 735 L476 736 L477 738 L479 737 L480 739" stroke="#30b8c8"/><path d="M449 722 L449 721 L450 719 L449 718 L448 718 L447 720 L446 721" stroke="#20a0b0"/><path d="M477 731 L479 730 L478 728 L477 727 L476 725 L475 724 L474 723" stroke="#1a4a70"/><path d="M489 708 L491 708 L492 709 L494 709 L496 709 L496 711 L495 712" stroke="#30b8c8"/><path d="M477 700 L479 700 L480 698 L480 697 L479 695 L477 695 L475 695" stroke="#20a0b0"/><path d="M465 734 L467 734 L467 732 L468 730 L469 729 L470 728 L470 726" stroke="#1a4a70"/><path d="M452 696 L453 696 L455 695 L456 694 L455 693 L456 691 L457 690" stroke="#2070a0"/><path d="M433 727 L433 729 L433 731 L432 732 L430 732 L428 731 L427 730" stroke="#30b8c8"/><path d="M474 708 L476 707 L477 706 L479 705 L479 703 L479 701 L478 700" stroke="#30b8c8"/><path d="M483 698 L483 699 L481 700 L479 700 L477 701 L476 702 L476 704" stroke="#20a0b0"/><path d="M487 689 L488 690 L489 692 L490 693 L492 693 L494 694 L496 693" stroke="#1f5f8a"/><path d="M479 683 L478 685 L477 685 L476 687 L474 686 L472 686 L471 685" stroke="#2070a0"/><path d="M489 711 L490 713 L489 714 L490 716 L490 717 L491 719 L491 721" stroke="#30b8c8"/><path d="M467 684 L466 685 L467 687 L469 687 L469 689 L468 690 L466 690" stroke="#30b8c8"/><path d="M488 709 L490 709 L491 709 L493 710 L494 710 L496 709 L496 708" stroke="#2070a0"/><path d="M459 723 L459 725 L461 726 L462 727 L464 727 L466 728 L467 727" stroke="#20a0b0"/><path d="M473 693 L472 695 L472 697 L471 698 L469 696 L468 695 L467 694" stroke="#30b8c8"/><path d="M479 730 L481 730 L483 730 L485 729 L486 728 L488 730 L489 731" stroke="#2070a0"/><path d="M460 710 L461 712 L462 713 L463 715 L464 716 L466 717 L467 717" stroke="#30b8c8"/><path d="M462 740 L460 741 L459 740 L457 739 L456 740 L454 738 L453 737" stroke="#20a0b0"/><path d="M447 712 L447 714 L445 715 L443 714 L443 712 L442 711 L442 709" stroke="#2a8aa8"/><path d="M467 702 L468 702 L470 701 L470 699 L472 699 L474 698 L476 698" stroke="#30b8c8"/><path d="M441 723 L443 725 L442 727 L440 727 L439 728 L438 730 L437 731" stroke="#1f5f8a"/><path d="M450 724 L451 726 L452 727 L453 729 L452 730 L450 731 L449 732" stroke="#20a0b0"/><path d="M474 689 L473 690 L471 690 L471 689 L469 688 L468 686 L467 686" stroke="#1f5f8a"/><path d="M463 699 L464 699 L466 698 L467 697 L469 698 L471 697 L472 699" stroke="#1a4a70"/><path d="M445 709 L445 707 L445 706 L444 704 L445 702 L445 700 L444 699" stroke="#30b8c8"/><path d="M461 727 L463 726 L464 724 L463 723 L465 722 L466 721 L468 720" stroke="#20a0b0"/><path d="M469 703 L469 704 L471 705 L471 707 L472 707 L474 708 L476 709" stroke="#1a4a70"/><path d="M460 735 L461 736 L462 738 L464 738 L465 740 L463 741 L463 743" stroke="#1a4a70"/><path d="M487 691 L487 693 L489 693 L490 691 L491 690 L493 691 L494 691" stroke="#1a4a70"/><path d="M477 697 L476 696 L476 694 L476 692 L478 692 L478 690 L480 689" stroke="#2a8aa8"/><path d="M440 736 L439 734 L437 733 L437 732 L437 730 L436 728 L435 727" stroke="#2070a0"/><path d="M459 700 L457 701 L457 703 L458 705 L457 706 L457 708 L456 709" stroke="#2070a0"/><path d="M459 712 L458 714 L457 714 L456 716 L455 716 L453 716 L451 716" stroke="#20a0b0"/><path d="M436 719 L437 720 L439 721 L440 721 L442 722 L444 722 L445 722" stroke="#1f5f8a"/><path d="M470 705 L470 707 L470 709 L469 710 L468 711 L466 713 L466 715" stroke="#1a4a70"/><path d="M445 714 L445 712 L445 710 L446 709 L448 710 L449 709 L451 708" stroke="#20a0b0"/><path d="M458 720 L460 722 L461 723 L461 724 L459 724 L457 723 L456 722" stroke="#20a0b0"/><path d="M460 701 L460 703 L460 704 L462 705 L463 704 L464 703 L466 703" stroke="#2070a0"/><path d="M435 721 L436 719 L437 718 L439 717 L440 719 L440 720 L438 721" stroke="#2a8aa8"/><path d="M456 713 L457 711 L458 710 L459 709 L458 707 L457 706 L455 705" stroke="#2a8aa8"/><path d="M457 712 L457 710 L456 709 L456 707 L456 705 L454 704 L453 703" stroke="#2070a0"/><path d="M440 708 L439 707 L437 706 L437 708 L437 710 L439 710 L441 711" stroke="#20a0b0"/><path d="M465 694 L465 695 L464 696 L463 698 L461 698 L459 698 L459 696" stroke="#1f5f8a"/><path d="M472 728 L472 730 L471 730 L469 730 L467 731 L465 731 L464 732" stroke="#2a8aa8"/><path d="M448 738 L449 738 L451 737 L452 736 L453 734 L454 733 L454 731" stroke="#20a0b0"/><path d="M455 713 L457 713 L458 714 L460 714 L461 713 L463 712 L463 710" stroke="#1f5f8a"/><path d="M446 722 L447 722 L448 720 L449 719 L450 718 L452 718 L452 720" stroke="#30b8c8"/><path d="M454 691 L456 690 L456 688 L455 686 L455 685 L455 683 L456 681" stroke="#30b8c8"/><path d="M438 737 L439 739 L440 740 L442 741 L443 741 L445 741 L446 739" stroke="#1a4a70"/><path d="M457 741 L455 741 L453 742 L451 741 L451 739 L453 738 L454 737" stroke="#30b8c8"/><path d="M474 703 L473 703 L471 704 L470 705 L470 707 L471 708 L473 708" stroke="#1a4a70"/><path d="M472 687 L474 685 L473 684 L472 684 L470 685 L469 686 L469 688" stroke="#20a0b0"/><path d="M487 695 L486 696 L485 696 L484 698 L483 699 L483 701 L485 702" stroke="#1f5f8a"/><path d="M465 704 L464 705 L462 706 L461 705 L460 704 L460 702 L458 701" stroke="#2a8aa8"/><path d="M463 696 L461 696 L461 698 L460 699 L461 701 L462 702 L464 702" stroke="#2070a0"/><path d="M447 712 L445 712 L444 711 L443 710 L442 708 L442 706 L444 707" stroke="#30b8c8"/><path d="M435 716 L436 718 L438 718 L440 718 L441 716 L440 715 L438 714" stroke="#30b8c8"/><path d="M468 706 L466 706 L465 707 L463 707 L461 707 L459 707 L459 709" stroke="#30b8c8"/><path d="M488 714 L489 713 L491 715 L491 716 L489 717 L488 718 L486 718" stroke="#2070a0"/><path d="M475 697 L474 698 L473 698 L472 700 L473 702 L474 703 L473 705" stroke="#1a4a70"/><path d="M454 733 L453 734 L452 736 L450 736 L449 737 L448 739 L449 741" stroke="#1a4a70"/><path d="M455 694 L454 692 L453 693 L451 694 L450 695 L449 697 L448 698" stroke="#1f5f8a"/><path d="M468 722 L469 721 L471 720 L471 718 L470 717 L470 715 L469 713" stroke="#20a0b0"/><path d="M459 689 L461 689 L462 689 L462 691 L464 692 L465 692 L466 691" stroke="#2070a0"/><path d="M468 682 L470 683 L470 684 L470 686 L471 687 L471 689 L472 691" stroke="#2a8aa8"/><path d="M483 681 L482 679 L483 678 L483 676 L481 676 L480 677 L478 676" stroke="#30b8c8"/><path d="M479 689 L478 690 L479 692 L479 694 L480 695 L481 696 L483 697" stroke="#1f5f8a"/><path d="M456 711 L458 712 L459 710 L461 711 L462 710 L463 708 L461 707" stroke="#1a4a70"/><path d="M454 745 L456 744 L456 743 L455 741 L454 739 L454 738 L453 736" stroke="#2070a0"/><path d="M475 708 L473 708 L472 707 L473 706 L474 704 L475 704 L477 705" stroke="#2a8aa8"/><path d="M470 717 L472 718 L474 719 L475 717 L476 716 L478 717 L479 715" stroke="#30b8c8"/><path d="M438 745 L440 744 L441 745 L443 745 L444 746 L444 748 L442 749" stroke="#1f5f8a"/><path d="M484 687 L484 685 L486 685 L488 685 L489 683 L488 682 L486 681" stroke="#20a0b0"/><path d="M461 727 L461 725 L462 723 L462 722 L461 720 L461 719 L461 717" stroke="#1f5f8a"/><path d="M439 720 L441 719 L442 718 L442 716 L440 715 L438 715 L437 716" stroke="#30b8c8"/><path d="M452 721 L454 721 L455 721 L457 720 L458 719 L460 720 L461 719" stroke="#2a8aa8"/><path d="M462 733 L461 734 L461 736 L459 736 L458 737 L457 739 L455 740" stroke="#2a8aa8"/><path d="M472 734 L474 734 L475 734 L476 732 L477 731 L479 731 L480 732" stroke="#1f5f8a"/><path d="M451 735 L453 736 L455 737 L456 738 L457 739 L459 739 L460 740" stroke="#20a0b0"/><path d="M472 697 L471 696 L470 695 L468 694 L466 693 L465 694 L463 694" stroke="#2070a0"/><path d="M467 705 L465 703 L466 702 L465 700 L464 699 L466 697 L468 697" stroke="#30b8c8"/><path d="M445 732 L444 734 L442 733 L441 731 L442 730 L442 728 L440 728" stroke="#20a0b0"/><path d="M464 685 L465 685 L466 683 L466 681 L464 680 L463 682 L462 683" stroke="#2070a0"/><path d="M476 694 L476 692 L474 691 L472 692 L470 691 L469 693 L468 694" stroke="#1a4a70"/><path d="M445 701 L447 701 L448 700 L450 701 L450 703 L452 704 L454 704" stroke="#30b8c8"/><path d="M448 724 L447 725 L445 726 L443 726 L441 726 L441 728 L440 729" stroke="#2070a0"/><path d="M482 718 L481 717 L480 715 L479 714 L477 715 L476 716 L476 718" stroke="#20a0b0"/><path d="M491 692 L492 692 L493 694 L495 695 L496 696 L497 694 L498 693" stroke="#30b8c8"/><path d="M489 690 L489 692 L487 693 L486 692 L484 691 L483 690 L481 690" stroke="#1a4a70"/><path d="M445 724 L444 724 L442 726 L443 727 L445 727 L447 728 L449 727" stroke="#1a4a70"/><path d="M458 703 L458 701 L460 700 L462 700 L464 700 L464 702 L466 703" stroke="#20a0b0"/><path d="M447 711 L446 710 L444 710 L442 709 L441 708 L439 708 L437 707" stroke="#1f5f8a"/><path d="M461 696 L461 697 L460 698 L459 700 L459 702 L459 703 L458 705" stroke="#2070a0"/><path d="M447 743 L447 745 L445 745 L445 747 L447 747 L448 748 L449 750" stroke="#1f5f8a"/><path d="M458 693 L460 692 L461 691 L463 691 L465 690 L465 689 L464 687" stroke="#1f5f8a"/><path d="M484 698 L486 698 L486 696 L485 694 L484 693 L484 691 L483 690" stroke="#2070a0"/><path d="M442 728 L444 729 L444 731 L446 731 L447 729 L449 729 L451 729" stroke="#20a0b0"/><path d="M489 694 L491 694 L492 695 L493 696 L495 695 L496 694 L497 693" stroke="#1f5f8a"/><path d="M439 735 L439 734 L440 732 L440 731 L442 730 L443 730 L444 728" stroke="#2a8aa8"/><path d="M455 707 L454 705 L453 704 L451 705 L451 707 L450 708 L450 710" stroke="#1a4a70"/><path d="M478 695 L479 697 L481 697 L482 698 L482 700 L481 701 L481 703" stroke="#1f5f8a"/><path d="M459 740 L459 742 L460 743 L462 744 L463 745 L465 746 L466 747" stroke="#2070a0"/><path d="M482 716 L484 716 L485 714 L484 713 L483 712 L482 710 L481 709" stroke="#1a4a70"/><path d="M452 699 L453 701 L454 701 L456 701 L458 701 L460 700 L461 699" stroke="#1f5f8a"/><path d="M458 718 L457 719 L456 721 L457 722 L457 724 L459 724 L461 725" stroke="#2070a0"/><path d="M465 735 L465 733 L463 732 L461 732 L461 731 L460 729 L460 727" stroke="#20a0b0"/><path d="M433 741 L433 739 L434 738 L436 738 L437 737 L439 737 L441 736" stroke="#30b8c8"/><path d="M457 740 L458 739 L458 737 L459 736 L460 734 L462 733 L462 732" stroke="#2070a0"/><path d="M461 737 L460 736 L458 736 L456 736 L454 736 L453 738 L452 737" stroke="#30b8c8"/><path d="M446 719 L448 718 L450 718 L451 717 L452 716 L452 714 L452 712" stroke="#2070a0"/><path d="M438 731 L438 729 L439 728 L439 726 L438 724 L440 723 L441 722" stroke="#30b8c8"/><path d="M474 695 L474 693 L473 692 L472 690 L470 690 L469 692 L467 692" stroke="#1f5f8a"/><path d="M467 733 L467 731 L467 730 L468 728 L470 727 L470 725 L471 724" stroke="#1f5f8a"/><path d="M459 720 L458 719 L459 717 L460 716 L459 714 L457 713 L455 713" stroke="#20a0b0"/><path d="M472 701 L471 701 L469 700 L467 699 L466 698 L466 696 L467 695" stroke="#30b8c8"/><path d="M441 728 L443 729 L444 730 L445 731 L446 732 L447 734 L447 735" stroke="#30b8c8"/><path d="M463 687 L462 685 L460 685 L458 686 L457 685 L455 686 L453 687" stroke="#1f5f8a"/><path d="M433 715 L434 714 L435 712 L436 711 L437 710 L439 709 L440 710" stroke="#2070a0"/><path d="M459 716 L458 718 L459 719 L461 720 L461 722 L463 722 L464 724" stroke="#2070a0"/><path d="M444 735 L442 735 L442 733 L440 732 L438 732 L437 733 L437 735" stroke="#2a8aa8"/><path d="M489 699 L490 701 L492 702 L493 701 L494 702 L496 703 L498 703" stroke="#1f5f8a"/><path d="M464 738 L463 737 L461 736 L461 738 L460 740 L461 742 L462 743" stroke="#30b8c8"/><path d="M456 703 L458 702 L459 702 L460 703 L462 704 L464 704 L465 705" stroke="#2070a0"/><path d="M484 696 L483 694 L482 693 L482 691 L484 690 L485 691 L487 690" stroke="#1f5f8a"/><path d="M469 727 L468 726 L467 724 L467 722 L466 721 L464 720 L463 719" stroke="#30b8c8"/><path d="M460 705 L458 706 L458 708 L456 708 L455 708 L454 710 L452 709" stroke="#1f5f8a"/><path d="M441 729 L442 730 L441 731 L439 732 L438 733 L438 735 L439 736" stroke="#20a0b0"/><path d="M485 690 L483 689 L482 691 L481 692 L479 692 L478 691 L479 689" stroke="#1f5f8a"/><path d="M457 719 L459 719 L460 720 L460 722 L459 724 L460 725 L461 726" stroke="#30b8c8"/><path d="M439 724 L440 726 L439 727 L440 729 L441 730 L441 732 L440 734" stroke="#2070a0"/><path d="M476 684 L475 686 L476 687 L476 689 L477 690 L478 691 L480 690" stroke="#1f5f8a"/><path d="M445 708 L445 710 L444 711 L442 711 L440 710 L439 712 L438 713" stroke="#2a8aa8"/><path d="M451 715 L452 716 L452 718 L454 719 L454 721 L455 722 L456 724" stroke="#20a0b0"/><path d="M460 728 L461 727 L461 725 L460 724 L459 722 L457 723 L456 721" stroke="#2a8aa8"/><path d="M454 735 L454 737 L455 738 L454 740 L455 741 L456 742 L458 742" stroke="#30b8c8"/><path d="M463 690 L465 689 L465 688 L466 686 L467 684 L467 683 L466 682" stroke="#2070a0"/><path d="M470 735 L471 735 L472 733 L473 732 L475 732 L477 732 L478 733" stroke="#1a4a70"/><path d="M485 691 L485 689 L487 689 L488 690 L490 690 L490 688 L491 687" stroke="#1a4a70"/><path d="M461 744 L462 745 L463 746 L463 748 L464 749 L465 751 L463 752" stroke="#2a8aa8"/><path d="M456 736 L455 737 L453 737 L452 735 L450 734 L449 733 L451 732" stroke="#2a8aa8"/><path d="M440 729 L442 728 L443 727 L442 725 L441 724 L440 722 L440 720" stroke="#2070a0"/><path d="M435 716 L433 717 L432 715 L433 714 L435 714 L436 715 L438 715" stroke="#30b8c8"/><path d="M455 693 L454 692 L453 690 L452 689 L453 687 L454 686 L453 684" stroke="#2a8aa8"/><path d="M440 706 L442 706 L443 708 L445 708 L446 706 L445 704 L445 703" stroke="#1a4a70"/><path d="M452 694 L453 693 L454 691 L456 692 L458 691 L459 692 L460 693" stroke="#20a0b0"/><path d="M465 719 L465 721 L464 722 L462 723 L460 723 L459 724 L457 725" stroke="#30b8c8"/><path d="M485 686 L485 684 L486 683 L488 683 L490 683 L491 683 L492 684" stroke="#2a8aa8"/><path d="M477 682 L476 682 L474 680 L472 680 L471 679 L470 678 L468 678" stroke="#1a4a70"/><path d="M465 710 L467 710 L468 708 L467 707 L466 705 L464 705 L462 704" stroke="#20a0b0"/><path d="M449 696 L448 697 L449 699 L450 699 L451 698 L452 696 L451 695" stroke="#30b8c8"/><path d="M468 687 L469 687 L470 686 L472 686 L474 686 L476 686 L478 687" stroke="#1f5f8a"/><path d="M461 714 L459 715 L457 715 L456 717 L456 718 L458 720 L458 721" stroke="#30b8c8"/><path d="M482 712 L484 710 L485 710 L486 709 L488 708 L489 707 L490 706" stroke="#1f5f8a"/><path d="M491 691 L490 691 L488 689 L487 689 L487 687 L488 686 L489 687" stroke="#2a8aa8"/><path d="M474 685 L474 687 L473 688 L471 687 L470 686 L468 686 L467 685" stroke="#1f5f8a"/><path d="M455 715 L454 715 L453 717 L454 718 L455 720 L453 721 L454 723" stroke="#20a0b0"/><path d="M437 708 L436 710 L437 712 L437 713 L436 715 L435 715 L433 716" stroke="#30b8c8"/><path d="M467 722 L469 721 L471 722 L472 720 L472 719 L471 718 L469 719" stroke="#2070a0"/><path d="M490 690 L491 691 L493 691 L495 690 L496 689 L498 688 L497 687" stroke="#20a0b0"/><path d="M463 711 L462 710 L460 710 L458 709 L456 710 L456 712 L457 713" stroke="#1f5f8a"/><path d="M453 703 L455 704 L455 706 L457 706 L459 706 L460 706 L462 706" stroke="#20a0b0"/><path d="M470 715 L471 716 L473 716 L475 717 L475 718 L475 720 L476 721" stroke="#1f5f8a"/><path d="M456 697 L458 698 L459 700 L458 701 L458 703 L457 704 L458 706" stroke="#1f5f8a"/><path d="M457 715 L459 716 L458 717 L456 718 L456 719 L458 720 L460 720" stroke="#20a0b0"/><path d="M481 718 L483 718 L485 720 L486 720 L487 721 L489 721 L490 723" stroke="#1a4a70"/><path d="M443 701 L445 701 L446 701 L447 700 L449 700 L450 702 L450 703" stroke="#2070a0"/><path d="M463 700 L464 702 L464 704 L463 706 L462 706 L460 706 L458 706" stroke="#1f5f8a"/><path d="M485 703 L483 704 L482 705 L481 707 L481 708 L480 710 L480 712" stroke="#30b8c8"/><path d="M453 694 L454 692 L454 690 L456 689 L457 689 L459 688 L461 690" stroke="#1a4a70"/><path d="M438 722 L437 721 L438 720 L439 718 L439 716 L438 715 L437 713" stroke="#1f5f8a"/><path d="M482 726 L480 727 L480 729 L481 731 L480 732 L481 734 L481 736" stroke="#2a8aa8"/><path d="M473 686 L475 686 L477 687 L478 687 L479 686 L479 684 L479 682" stroke="#1f5f8a"/><path d="M474 715 L476 714 L477 713 L478 711 L479 710 L481 709 L482 708" stroke="#1f5f8a"/><path d="M454 745 L452 746 L451 744 L449 744 L447 744 L446 743 L444 742" stroke="#2a8aa8"/><path d="M461 714 L463 715 L463 717 L465 717 L466 715 L466 714 L467 712" stroke="#1a4a70"/><path d="M482 724 L480 724 L480 726 L481 728 L481 729 L479 731 L478 731" stroke="#1a4a70"/><path d="M460 691 L458 690 L457 689 L455 688 L453 688 L452 686 L451 685" stroke="#2070a0"/><path d="M437 719 L439 719 L441 719 L441 721 L443 722 L445 722 L446 724" stroke="#1f5f8a"/><path d="M463 697 L461 699 L461 700 L461 702 L459 703 L458 702 L457 701" stroke="#20a0b0"/><path d="M450 724 L451 722 L453 721 L454 722 L456 722 L457 721 L459 720" stroke="#2a8aa8"/><path d="M485 718 L487 718 L488 716 L487 714 L486 713 L487 711 L488 709" stroke="#2070a0"/><path d="M462 693 L464 693 L466 692 L467 691 L467 689 L468 688 L467 686" stroke="#20a0b0"/><path d="M484 707 L486 706 L485 704 L483 703 L482 702 L482 700 L482 699" stroke="#2070a0"/><path d="M460 692 L459 693 L458 694 L456 696 L455 697 L456 699 L455 701" stroke="#30b8c8"/><path d="M476 682 L478 681 L480 680 L480 679 L479 677 L477 678 L476 679" stroke="#20a0b0"/><path d="M456 707 L457 707 L459 708 L460 709 L461 711 L461 713 L462 714" stroke="#1a4a70"/><path d="M446 715 L445 715 L444 714 L445 712 L447 712 L448 711 L449 709" stroke="#1a4a70"/><path d="M460 700 L459 701 L457 701 L456 700 L455 699 L455 697 L456 695" stroke="#1a4a70"/><path d="M452 705 L451 704 L452 702 L451 701 L449 701 L447 700 L446 701" stroke="#1a4a70"/><path d="M456 707 L457 706 L459 707 L460 706 L461 707 L463 706 L463 704" stroke="#1a4a70"/><path d="M482 709 L481 707 L482 706 L484 704 L485 703 L485 702 L485 700" stroke="#1f5f8a"/><path d="M475 729 L473 728 L471 728 L470 727 L468 728 L466 728 L464 727" stroke="#1f5f8a"/><path d="M488 691 L489 693 L490 693 L491 695 L492 696 L490 697 L490 699" stroke="#2a8aa8"/><path d="M486 702 L485 701 L484 702 L482 703 L481 704 L482 706 L483 706" stroke="#2a8aa8"/><path d="M487 695 L489 696 L488 698 L486 699 L486 700 L487 702 L488 701" stroke="#20a0b0"/><path d="M441 744 L439 744 L438 745 L436 744 L434 746 L433 747 L432 746" stroke="#2a8aa8"/><path d="M458 701 L460 702 L462 700 L463 700 L465 700 L466 701 L467 703" stroke="#1f5f8a"/><path d="M464 703 L464 701 L462 701 L460 700 L459 701 L457 701 L456 703" stroke="#1f5f8a"/><path d="M459 726 L457 726 L457 724 L457 722 L457 721 L457 719 L455 719" stroke="#20a0b0"/><path d="M478 700 L480 701 L480 702 L482 703 L483 704 L484 704 L485 702" stroke="#1a4a70"/><path d="M446 729 L446 731 L447 732 L446 734 L446 736 L447 736 L449 736" stroke="#2070a0"/><path d="M477 687 L478 686 L480 686 L482 687 L481 689 L483 690 L484 689" stroke="#30b8c8"/><path d="M444 732 L444 734 L444 736 L445 736 L446 738 L445 740 L444 741" stroke="#1a4a70"/><path d="M466 710 L465 711 L465 713 L466 715 L467 716 L469 716 L470 714" stroke="#2070a0"/><path d="M472 686 L471 687 L472 689 L471 691 L469 690 L468 689 L467 688" stroke="#20a0b0"/><path d="M461 734 L462 733 L463 734 L465 733 L466 732 L468 732 L469 734" stroke="#1f5f8a"/><path d="M451 699 L449 699 L447 698 L446 697 L445 696 L446 694 L448 694" stroke="#30b8c8"/><path d="M487 719 L488 720 L490 721 L491 721 L493 722 L494 721 L496 720" stroke="#30b8c8"/><path d="M448 714 L449 712 L447 711 L446 711 L444 711 L442 711 L440 710" stroke="#30b8c8"/><path d="M449 734 L450 735 L451 734 L451 733 L449 732 L447 732 L447 730" stroke="#20a0b0"/><path d="M435 741 L437 741 L438 740 L440 739 L441 738 L443 738 L444 736" stroke="#2070a0"/><path d="M450 715 L450 713 L450 711 L449 710 L449 708 L451 708 L452 706" stroke="#2070a0"/><path d="M474 714 L472 713 L471 712 L469 712 L467 712 L466 712 L464 712" stroke="#30b8c8"/><path d="M472 726 L471 725 L473 723 L473 722 L472 720 L471 719 L470 719" stroke="#2a8aa8"/><path d="M445 741 L444 739 L443 738 L441 739 L439 738 L439 736 L440 735" stroke="#30b8c8"/><path d="M479 711 L481 710 L482 709 L484 710 L485 712 L483 713 L483 715" stroke="#30b8c8"/><path d="M468 705 L469 705 L471 704 L473 703 L474 703 L476 702 L476 700" stroke="#2a8aa8"/><path d="M450 718 L449 720 L448 721 L448 723 L448 725 L448 727 L450 728" stroke="#20a0b0"/><path d="M457 712 L456 713 L455 711 L453 712 L452 713 L452 715 L452 717" stroke="#2a8aa8"/><path d="M462 720 L463 719 L464 718 L466 717 L466 715 L466 713 L468 712" stroke="#20a0b0"/><path d="M448 704 L447 705 L445 706 L446 708 L445 710 L446 711 L447 713" stroke="#2070a0"/><path d="M446 748 L446 750 L446 752 L445 752 L443 753 L442 754 L440 754" stroke="#2a8aa8"/><path d="M445 734 L445 735 L444 736 L442 735 L440 735 L439 736 L438 737" stroke="#2a8aa8"/><path d="M461 732 L463 732 L464 731 L465 729 L464 728 L463 726 L464 725" stroke="#30b8c8"/><path d="M451 731 L452 733 L452 734 L450 735 L449 737 L449 739 L448 740" stroke="#20a0b0"/><path d="M453 705 L453 707 L452 708 L451 710 L451 711 L453 712 L454 711" stroke="#2070a0"/><path d="M454 696 L454 694 L454 693 L456 692 L458 691 L459 693 L458 694" stroke="#1a4a70"/><path d="M494 698 L495 698 L497 698 L499 698 L500 697 L502 697 L503 696" stroke="#30b8c8"/><path d="M461 725 L462 727 L464 727 L465 728 L465 730 L465 732 L466 733" stroke="#1f5f8a"/><path d="M468 716 L467 715 L466 713 L465 713 L464 715 L463 717 L461 716" stroke="#30b8c8"/><path d="M451 725 L451 727 L450 728 L449 730 L450 731 L451 732 L453 732" stroke="#20a0b0"/><path d="M449 693 L448 693 L446 694 L447 695 L447 697 L449 698 L448 700" stroke="#30b8c8"/><path d="M478 714 L476 714 L474 715 L472 715 L471 716 L470 717 L468 718" stroke="#2a8aa8"/><path d="M445 709 L447 709 L447 711 L446 712 L444 712 L442 711 L441 710" stroke="#30b8c8"/><path d="M458 693 L456 693 L455 693 L453 692 L452 691 L452 689 L453 687" stroke="#1a4a70"/><path d="M479 680 L477 681 L475 681 L474 683 L472 683 L471 684 L469 683" stroke="#1a4a70"/><path d="M431 733 L432 732 L433 730 L434 729 L435 727 L435 726 L435 724" stroke="#30b8c8"/><path d="M438 740 L437 739 L435 738 L434 736 L433 735 L434 733 L433 732" stroke="#20a0b0"/><path d="M443 711 L445 711 L446 710 L448 710 L449 712 L448 713 L449 715" stroke="#1f5f8a"/><path d="M452 720 L452 718 L450 718 L449 717 L450 715 L449 714 L448 713" stroke="#20a0b0"/><path d="M458 707 L458 705 L460 704 L461 704 L463 704 L464 706 L462 707" stroke="#2070a0"/><path d="M459 691 L458 691 L458 689 L458 687 L460 686 L461 687 L463 685" stroke="#30b8c8"/><path d="M448 716 L449 718 L448 719 L448 721 L449 723 L451 722 L451 720" stroke="#2a8aa8"/><path d="M458 743 L458 741 L458 740 L458 738 L456 737 L456 735 L454 735" stroke="#1a4a70"/><path d="M454 722 L453 720 L454 719 L455 719 L457 720 L457 721 L455 722" stroke="#2a8aa8"/><path d="M474 687 L474 685 L475 684 L477 683 L477 682 L478 680 L478 678" stroke="#1f5f8a"/><path d="M446 700 L447 701 L448 703 L447 704 L445 705 L443 705 L442 706" stroke="#2a8aa8"/><path d="M461 723 L459 724 L457 723 L456 723 L454 725 L454 726 L452 727" stroke="#2070a0"/><path d="M465 698 L463 699 L462 700 L464 702 L465 702 L467 702 L467 700" stroke="#1f5f8a"/><path d="M481 698 L479 698 L479 700 L478 701 L479 703 L480 704 L482 705" stroke="#2070a0"/><path d="M455 692 L455 694 L455 696 L453 696 L451 696 L450 694 L449 694" stroke="#30b8c8"/><path d="M461 717 L460 716 L460 715 L461 713 L460 712 L461 710 L462 709" stroke="#2070a0"/><path d="M479 722 L478 723 L478 725 L478 727 L476 727 L476 729 L474 729" stroke="#1a4a70"/><path d="M447 742 L447 740 L447 738 L448 737 L449 736 L451 735 L453 735" stroke="#1f5f8a"/><path d="M456 718 L458 718 L459 719 L461 717 L462 716 L461 714 L460 713" stroke="#2070a0"/><path d="M441 735 L440 737 L440 738 L442 740 L444 740 L445 741 L447 741" stroke="#2070a0"/><path d="M487 711 L486 709 L484 709 L483 708 L482 706 L482 705 L483 703" stroke="#30b8c8"/><path d="M486 710 L488 710 L489 708 L490 707 L492 708 L493 708 L494 707" stroke="#30b8c8"/><path d="M470 723 L470 722 L469 720 L468 718 L468 717 L467 715 L467 713" stroke="#2a8aa8"/><path d="M454 742 L456 741 L458 741 L459 740 L461 740 L463 740 L465 740" stroke="#20a0b0"/><path d="M493 695 L495 695 L497 695 L498 697 L500 696 L502 695 L503 696" stroke="#20a0b0"/><path d="M440 727 L440 729 L438 729 L437 728 L435 728 L433 727 L432 726" stroke="#2a8aa8"/><path d="M442 734 L443 733 L444 731 L445 731 L446 732 L446 734 L447 735" stroke="#1a4a70"/><path d="M482 697 L482 699 L481 700 L479 701 L478 703 L479 705 L481 705" stroke="#1f5f8a"/><path d="M438 711 L436 711 L434 711 L434 709 L435 707 L436 706 L438 705" stroke="#1a4a70"/><path d="M442 701 L441 700 L442 698 L444 697 L444 696 L443 694 L443 693" stroke="#2070a0"/><path d="M461 714 L463 714 L465 714 L466 713 L468 714 L469 716 L469 717" stroke="#2070a0"/><path d="M448 720 L449 719 L450 718 L452 717 L452 715 L451 714 L450 713" stroke="#1f5f8a"/><path d="M441 739 L442 741 L443 743 L442 744 L442 746 L442 748 L443 749" stroke="#2070a0"/><path d="M466 738 L466 740 L465 742 L466 744 L467 745 L468 745 L470 745" stroke="#30b8c8"/><path d="M436 731 L436 732 L436 734 L438 734 L439 736 L440 737 L440 739" stroke="#2070a0"/><path d="M440 736 L438 737 L437 739 L435 738 L435 740 L434 741 L432 742" stroke="#20a0b0"/><path d="M462 696 L463 698 L464 699 L465 700 L466 702 L465 703 L464 702" stroke="#20a0b0"/><path d="M475 681 L473 679 L473 678 L471 678 L470 679 L468 679 L467 681" stroke="#20a0b0"/><path d="M477 703 L476 701 L476 700 L478 699 L480 700 L480 701 L481 703" stroke="#1a4a70"/><path d="M479 726 L477 725 L476 724 L475 723 L474 721 L474 720 L474 718" stroke="#1a4a70"/><path d="M475 723 L477 723 L478 721 L477 720 L476 719 L474 719 L473 717" stroke="#1f5f8a"/><path d="M490 687 L492 686 L491 685 L491 683 L492 681 L494 681 L495 681" stroke="#2a8aa8"/><path d="M467 682 L466 682 L464 681 L464 679 L463 678 L461 678 L459 678" stroke="#1a4a70"/><path d="M442 746 L441 745 L441 743 L440 741 L440 740 L441 738 L443 738" stroke="#2a8aa8"/><path d="M452 727 L451 728 L451 730 L452 732 L451 733 L449 733 L448 735" stroke="#2a8aa8"/><path d="M476 686 L478 686 L479 685 L480 684 L482 683 L484 683 L484 681" stroke="#2070a0"/><path d="M438 715 L438 717 L439 718 L441 718 L443 719 L443 720 L445 721" stroke="#2070a0"/><path d="M466 712 L468 711 L469 711 L471 710 L471 708 L471 706 L469 705" stroke="#2070a0"/><path d="M487 684 L486 684 L484 684 L483 686 L482 687 L481 688 L479 689" stroke="#2a8aa8"/><path d="M453 741 L454 740 L453 739 L451 739 L451 741 L450 742 L448 743" stroke="#1a4a70"/><path d="M474 733 L476 732 L476 731 L474 730 L474 728 L476 728 L478 728" stroke="#2070a0"/><path d="M439 715 L438 717 L437 717 L435 717 L434 716 L433 714 L434 713" stroke="#1a4a70"/><path d="M490 703 L491 705 L493 704 L495 705 L496 705 L496 707 L497 709" stroke="#1a4a70"/><path d="M440 717 L442 717 L443 715 L444 714 L446 715 L445 717 L445 718" stroke="#2070a0"/><path d="M446 738 L448 738 L449 737 L450 735 L452 735 L453 736 L454 738" stroke="#1a4a70"/><path d="M473 723 L473 721 L474 719 L476 719 L478 720 L479 721 L481 721" stroke="#2070a0"/><path d="M438 737 L437 739 L436 741 L435 741 L433 741 L432 742 L431 744" stroke="#2070a0"/><path d="M472 713 L470 714 L470 716 L469 718 L468 718 L466 717 L466 716" stroke="#30b8c8"/><path d="M434 726 L432 726 L430 726 L429 726 L428 728 L427 729 L428 731" stroke="#1a4a70"/><path d="M457 702 L457 700 L459 699 L459 697 L460 696 L461 694 L462 693" stroke="#30b8c8"/><path d="M486 709 L486 710 L488 711 L489 713 L490 711 L492 712 L493 710" stroke="#20a0b0"/><path d="M458 699 L458 701 L460 702 L461 703 L463 704 L464 704 L465 706" stroke="#20a0b0"/><path d="M483 721 L482 720 L481 719 L479 718 L477 718 L476 718 L474 718" stroke="#2a8aa8"/><path d="M463 692 L465 692 L467 691 L468 692 L470 693 L471 694 L472 696" stroke="#2070a0"/><path d="M480 699 L479 701 L480 703 L481 704 L481 705 L483 706 L485 706" stroke="#1a4a70"/><path d="M477 730 L477 728 L477 726 L479 726 L478 724 L478 722 L477 721" stroke="#20a0b0"/><path d="M450 739 L449 737 L448 736 L448 734 L446 733 L445 732 L444 730" stroke="#2a8aa8"/><path d="M436 715 L437 714 L437 712 L438 711 L437 709 L436 708 L436 706" stroke="#1a4a70"/><path d="M482 706 L481 708 L479 706 L478 705 L479 704 L480 703 L481 701" stroke="#1f5f8a"/><path d="M436 732 L437 731 L438 729 L439 728 L440 729 L442 731 L441 732" stroke="#20a0b0"/><path d="M471 716 L469 717 L468 718 L466 717 L464 717 L464 715 L463 714" stroke="#2a8aa8"/><path d="M461 724 L462 725 L464 725 L466 725 L467 725 L469 724 L470 723" stroke="#30b8c8"/><path d="M481 687 L480 686 L478 686 L477 687 L475 689 L473 688 L472 690" stroke="#2070a0"/><path d="M447 709 L448 710 L450 710 L452 710 L454 710 L454 712 L455 713" stroke="#30b8c8"/><path d="M439 716 L439 718 L440 720 L440 722 L442 723 L443 724 L444 726" stroke="#2a8aa8"/><path d="M458 706 L457 708 L456 709 L455 710 L455 712 L453 712 L452 714" stroke="#1a4a70"/><path d="M454 718 L453 720 L452 721 L453 723 L455 723 L456 722 L457 721" stroke="#1f5f8a"/><path d="M470 688 L471 686 L473 685 L475 686 L475 684 L475 682 L473 683" stroke="#1f5f8a"/><path d="M455 720 L457 719 L458 718 L460 717 L459 715 L457 716 L455 715" stroke="#1a4a70"/><path d="M455 721 L454 723 L454 725 L455 726 L456 728 L455 729 L456 731" stroke="#2070a0"/><path d="M443 745 L445 744 L447 744 L447 742 L445 741 L445 740 L444 738" stroke="#1f5f8a"/><path d="M460 717 L462 717 L464 718 L465 716 L464 715 L462 715 L460 715" stroke="#2a8aa8"/><path d="M493 699 L491 699 L489 699 L488 697 L488 696 L486 695 L485 694" stroke="#2a8aa8"/><path d="M485 712 L484 710 L485 709 L483 707 L482 708 L480 708 L479 710" stroke="#2070a0"/><path d="M471 735 L472 733 L471 731 L469 732 L469 730 L467 729 L466 728" stroke="#30b8c8"/><path d="M465 697 L463 697 L462 698 L460 698 L459 699 L459 701 L458 703" stroke="#2a8aa8"/><path d="M463 719 L462 718 L460 717 L459 716 L458 714 L458 712 L457 710" stroke="#30b8c8"/><path d="M450 699 L449 700 L448 702 L447 702 L445 702 L443 701 L442 702" stroke="#20a0b0"/><path d="M479 686 L481 686 L481 684 L482 682 L482 680 L483 679 L484 678" stroke="#1a4a70"/><path d="M454 690 L452 689 L450 690 L449 689 L448 687 L447 686 L445 685" stroke="#2070a0"/><path d="M468 708 L470 708 L471 707 L472 706 L474 705 L475 703 L477 703" stroke="#2070a0"/><path d="M465 709 L464 707 L462 707 L461 708 L461 710 L459 711 L458 710" stroke="#2070a0"/><path d="M467 715 L468 715 L470 715 L471 714 L472 712 L473 711 L475 710" stroke="#2a8aa8"/><path d="M459 732 L460 730 L459 729 L459 727 L458 725 L458 724 L459 722" stroke="#2070a0"/><path d="M486 702 L488 701 L489 701 L491 701 L493 700 L494 700 L496 700" stroke="#2070a0"/><path d="M475 693 L473 694 L472 694 L470 694 L469 693 L467 694 L466 692" stroke="#1f5f8a"/><path d="M469 689 L470 691 L471 691 L473 690 L474 691 L475 693 L474 694" stroke="#2a8aa8"/><path d="M465 690 L463 691 L462 690 L461 689 L460 687 L461 685 L463 685" stroke="#2070a0"/><path d="M474 715 L473 714 L473 712 L472 711 L474 710 L474 708 L473 706" stroke="#2070a0"/></g><g fill="none" stroke-width="0.5" opacity="0.8" stroke-linejoin="round"><path d="M447 733 L445 732 L444 734 L445 736 L446 737 L446 739 L444 741" stroke="#601018"/><path d="M444 745 L444 746 L445 748 L445 750 L447 750 L448 751 L449 753" stroke="#601018"/><path d="M442 737 L442 736 L444 736 L446 736 L447 734 L449 735 L449 737" stroke="#801020"/><path d="M445 745 L445 743 L445 741 L446 741 L448 742 L449 743 L450 745" stroke="#801020"/><path d="M449 724 L448 723 L446 723 L445 724 L443 725 L442 724 L443 722" stroke="#601018"/><path d="M460 729 L461 731 L462 732 L464 733 L465 734 L466 736 L467 737" stroke="#a01830"/><path d="M459 730 L457 731 L456 732 L455 734 L454 735 L454 737 L453 738" stroke="#801020"/><path d="M445 715 L443 716 L441 716 L440 716 L438 715 L436 714 L435 715" stroke="#a01830"/><path d="M441 742 L440 740 L439 740 L438 738 L438 737 L436 736 L435 735" stroke="#601018"/><path d="M459 727 L461 727 L461 725 L463 724 L464 725 L464 727 L463 728" stroke="#801020"/><path d="M458 723 L458 725 L458 727 L458 729 L459 730 L459 732 L459 734" stroke="#601018"/><path d="M446 717 L446 715 L448 715 L450 715 L452 716 L453 717 L454 717" stroke="#a01830"/><path d="M459 714 L459 712 L460 710 L460 708 L458 708 L457 709 L455 710" stroke="#801020"/><path d="M449 733 L450 734 L450 736 L451 737 L451 739 L449 740 L448 740" stroke="#601018"/><path d="M443 744 L441 743 L439 743 L438 743 L436 745 L437 746 L439 746" stroke="#801020"/><path d="M459 734 L458 733 L457 732 L455 732 L453 733 L452 732 L451 730" stroke="#601018"/><path d="M448 731 L448 733 L447 735 L446 736 L446 738 L448 739 L449 738" stroke="#a01830"/><path d="M442 732 L443 730 L445 730 L447 730 L447 728 L447 726 L446 725" stroke="#801020"/><path d="M438 725 L437 724 L435 724 L435 726 L433 726 L431 726 L430 725" stroke="#601018"/><path d="M454 718 L455 718 L457 718 L458 716 L459 715 L460 714 L462 714" stroke="#801020"/><path d="M444 736 L445 738 L446 739 L446 741 L445 743 L444 744 L443 745" stroke="#801020"/><path d="M460 736 L458 735 L458 733 L457 732 L456 730 L454 729 L452 729" stroke="#801020"/><path d="M444 737 L445 738 L447 739 L448 740 L450 740 L452 741 L454 740" stroke="#601018"/><path d="M453 714 L453 712 L454 711 L456 710 L458 710 L459 709 L461 708" stroke="#a01830"/><path d="M456 731 L458 732 L459 731 L461 732 L461 734 L463 734 L465 734" stroke="#801020"/><path d="M456 738 L456 736 L458 737 L458 738 L457 740 L455 740 L454 740" stroke="#801020"/><path d="M449 742 L448 744 L446 744 L445 745 L446 747 L444 749 L443 748" stroke="#801020"/><path d="M455 733 L456 735 L457 736 L458 738 L460 738 L461 736 L459 735" stroke="#801020"/><path d="M457 732 L455 731 L455 729 L453 728 L452 727 L450 726 L450 724" stroke="#a01830"/><path d="M458 727 L458 729 L457 730 L455 731 L454 730 L452 729 L451 731" stroke="#801020"/><path d="M451 718 L450 717 L449 715 L451 714 L450 713 L450 711 L451 709" stroke="#601018"/><path d="M455 719 L454 717 L454 715 L453 713 L452 713 L450 714 L449 715" stroke="#801020"/><path d="M462 729 L460 729 L459 729 L457 728 L456 729 L456 731 L456 733" stroke="#601018"/><path d="M448 723 L447 724 L445 725 L444 723 L445 721 L444 720 L446 719" stroke="#601018"/><path d="M453 724 L454 726 L454 728 L456 728 L458 729 L457 731 L456 732" stroke="#a01830"/><path d="M440 726 L438 727 L438 728 L437 730 L437 732 L438 733 L440 734" stroke="#a01830"/><path d="M458 737 L459 738 L459 740 L457 740 L455 739 L454 738 L454 736" stroke="#801020"/><path d="M448 720 L447 719 L446 718 L445 716 L443 716 L442 715 L440 717" stroke="#a01830"/><path d="M443 723 L444 723 L446 725 L447 725 L448 723 L450 722 L450 720" stroke="#a01830"/><path d="M451 734 L449 733 L449 731 L450 730 L451 729 L453 728 L454 727" stroke="#a01830"/><path d="M438 738 L438 739 L437 741 L435 742 L434 743 L432 743 L431 741" stroke="#a01830"/><path d="M450 720 L451 722 L450 723 L450 725 L448 725 L447 724 L445 724" stroke="#601018"/><path d="M452 721 L452 723 L454 723 L454 722 L453 720 L452 719 L450 720" stroke="#801020"/><path d="M455 733 L454 734 L454 736 L455 737 L455 739 L456 741 L456 742" stroke="#a01830"/><path d="M459 734 L459 736 L458 737 L456 737 L454 736 L454 735 L452 734" stroke="#601018"/><path d="M452 727 L450 727 L450 725 L450 723 L451 722 L450 721 L449 719" stroke="#a01830"/><path d="M441 737 L443 738 L442 740 L442 742 L441 743 L439 742 L439 740" stroke="#a01830"/><path d="M445 739 L443 739 L442 740 L440 741 L439 741 L437 740 L437 739" stroke="#801020"/><path d="M449 719 L448 719 L447 721 L446 722 L447 724 L449 724 L449 726" stroke="#601018"/><path d="M453 712 L454 711 L456 713 L457 712 L459 713 L460 711 L462 712" stroke="#601018"/><path d="M442 725 L443 724 L444 724 L445 726 L447 726 L447 724 L448 722" stroke="#a01830"/><path d="M450 738 L452 738 L453 736 L454 736 L456 735 L456 733 L455 732" stroke="#601018"/><path d="M450 720 L449 719 L447 719 L447 721 L447 723 L446 724 L444 725" stroke="#601018"/><path d="M463 727 L463 725 L465 725 L465 723 L465 722 L466 721 L468 720" stroke="#601018"/><path d="M448 737 L449 739 L450 740 L451 741 L452 739 L452 737 L451 736" stroke="#a01830"/><path d="M456 738 L455 739 L455 741 L457 742 L458 740 L459 739 L461 739" stroke="#801020"/><path d="M447 734 L446 733 L445 731 L446 730 L448 731 L449 732 L450 733" stroke="#801020"/><path d="M447 735 L447 734 L449 732 L449 730 L448 729 L446 730 L444 730" stroke="#601018"/><path d="M456 715 L457 713 L457 711 L458 710 L459 709 L459 707 L459 705" stroke="#801020"/><path d="M457 718 L456 720 L456 721 L458 722 L458 724 L459 726 L458 727" stroke="#801020"/><path d="M440 743 L439 744 L437 742 L438 741 L440 740 L441 742 L440 743" stroke="#601018"/><path d="M456 721 L456 719 L454 718 L452 719 L452 721 L450 721 L449 719" stroke="#601018"/><path d="M438 725 L436 725 L435 724 L435 722 L436 721 L437 719 L439 719" stroke="#601018"/><path d="M462 720 L463 721 L464 723 L463 724 L461 725 L459 725 L459 726" stroke="#801020"/><path d="M444 721 L446 721 L447 720 L446 718 L444 719 L442 718 L441 718" stroke="#a01830"/><path d="M462 719 L460 719 L458 718 L457 717 L458 715 L459 713 L461 714" stroke="#a01830"/><path d="M451 719 L452 721 L453 722 L455 722 L456 721 L458 722 L458 724" stroke="#a01830"/><path d="M458 712 L460 711 L460 709 L461 708 L463 709 L464 710 L463 712" stroke="#a01830"/><path d="M454 741 L455 743 L453 744 L452 743 L450 742 L449 742 L448 741" stroke="#a01830"/><path d="M449 719 L448 719 L447 717 L446 716 L444 715 L442 716 L441 715" stroke="#801020"/><path d="M456 714 L455 716 L456 717 L457 718 L459 717 L460 716 L459 714" stroke="#a01830"/><path d="M452 720 L454 719 L455 720 L456 721 L455 722 L453 722 L452 720" stroke="#801020"/><path d="M453 711 L455 710 L456 709 L456 708 L455 706 L456 704 L457 703" stroke="#801020"/><path d="M458 738 L460 737 L462 737 L463 737 L465 736 L465 734 L464 733" stroke="#a01830"/><path d="M454 713 L452 712 L453 710 L454 710 L454 708 L453 707 L451 707" stroke="#801020"/><path d="M452 738 L453 736 L453 734 L453 733 L451 732 L451 730 L449 731" stroke="#601018"/><path d="M447 732 L445 731 L443 732 L442 732 L440 732 L438 732 L437 734" stroke="#a01830"/><path d="M446 731 L446 729 L447 728 L448 726 L450 726 L451 724 L451 722" stroke="#601018"/><path d="M447 738 L446 739 L444 739 L444 741 L443 743 L442 744 L440 744" stroke="#801020"/><path d="M460 720 L461 721 L461 722 L461 724 L461 726 L463 726 L465 727" stroke="#801020"/><path d="M461 724 L461 722 L460 721 L461 719 L461 717 L462 715 L463 715" stroke="#801020"/><path d="M439 728 L437 730 L436 731 L438 732 L437 734 L437 736 L435 736" stroke="#801020"/><path d="M445 730 L447 730 L448 732 L450 733 L451 732 L451 730 L453 730" stroke="#801020"/><path d="M437 738 L435 738 L434 740 L434 741 L434 743 L435 744 L437 743" stroke="#601018"/><path d="M451 726 L452 726 L454 726 L455 728 L457 729 L458 728 L460 728" stroke="#a01830"/><path d="M452 740 L450 742 L449 742 L447 743 L445 743 L444 744 L442 743" stroke="#801020"/><path d="M445 724 L444 726 L444 728 L446 728 L448 727 L449 726 L451 726" stroke="#801020"/><path d="M458 733 L456 732 L455 733 L455 735 L454 736 L452 735 L451 735" stroke="#601018"/><path d="M461 715 L459 716 L460 718 L461 719 L462 721 L460 722 L459 720" stroke="#a01830"/><path d="M437 734 L436 735 L434 734 L434 732 L432 732 L431 731 L429 731" stroke="#a01830"/><path d="M445 740 L444 739 L442 739 L440 739 L439 737 L440 736 L442 735" stroke="#601018"/><path d="M438 729 L437 731 L436 731 L434 730 L433 729 L431 729 L430 728" stroke="#801020"/><path d="M448 741 L450 742 L452 743 L453 742 L454 740 L456 741 L457 739" stroke="#601018"/><path d="M445 733 L446 735 L445 736 L446 738 L447 739 L447 741 L446 743" stroke="#a01830"/><path d="M439 732 L439 733 L441 734 L442 735 L443 736 L444 738 L444 740" stroke="#801020"/><path d="M443 723 L442 721 L444 720 L444 718 L444 717 L442 716 L441 715" stroke="#601018"/><path d="M456 728 L455 728 L453 728 L451 730 L450 729 L449 727 L448 726" stroke="#601018"/><path d="M456 722 L457 723 L458 724 L460 725 L461 726 L460 728 L459 728" stroke="#801020"/><path d="M458 738 L460 739 L460 741 L462 741 L463 743 L462 745 L462 746" stroke="#a01830"/><path d="M451 744 L452 743 L454 742 L456 742 L457 741 L459 741 L461 741" stroke="#a01830"/><path d="M443 732 L441 732 L441 730 L440 729 L438 729 L436 730 L436 732" stroke="#a01830"/><path d="M444 741 L445 742 L447 743 L448 744 L449 745 L451 744 L452 742" stroke="#601018"/><path d="M445 735 L447 734 L449 735 L450 737 L451 737 L452 739 L453 740" stroke="#601018"/><path d="M437 731 L438 730 L438 728 L437 727 L437 725 L436 724 L434 725" stroke="#801020"/><path d="M444 725 L442 724 L441 723 L440 721 L438 721 L436 721 L434 721" stroke="#601018"/><path d="M447 729 L445 730 L444 731 L443 732 L441 733 L441 734 L442 736" stroke="#601018"/><path d="M448 727 L449 725 L449 723 L451 723 L452 721 L452 720 L450 720" stroke="#a01830"/><path d="M455 736 L455 734 L457 734 L457 735 L456 737 L455 736 L453 737" stroke="#a01830"/><path d="M450 734 L449 736 L448 737 L447 738 L447 740 L449 741 L450 741" stroke="#801020"/><path d="M459 719 L457 719 L455 719 L454 721 L453 721 L452 722 L451 724" stroke="#601018"/></g><g fill="none" stroke-width="0.5" opacity="0.8" stroke-linejoin="round"><path d="M477 704 L478 703 L477 701 L476 700 L474 701 L474 703 L472 704" stroke="#402010"/><path d="M475 703 L476 705 L474 706 L475 708 L474 710 L473 710 L471 711" stroke="#605030"/><path d="M493 694 L494 692 L496 692 L497 692 L499 691 L501 690 L502 689" stroke="#503020"/><path d="M489 696 L488 694 L486 694 L485 694 L483 693 L484 691 L484 689" stroke="#605030"/><path d="M489 693 L490 694 L492 695 L493 694 L494 693 L496 693 L498 694" stroke="#402010"/><path d="M477 714 L475 713 L474 713 L472 713 L470 712 L469 714 L469 716" stroke="#2a1a10"/><path d="M480 698 L479 696 L478 695 L477 694 L477 692 L476 691 L476 689" stroke="#503020"/><path d="M473 710 L471 710 L470 712 L469 712 L467 711 L466 709 L464 709" stroke="#2a1a10"/><path d="M483 704 L482 704 L480 705 L480 707 L481 709 L481 710 L483 711" stroke="#402010"/><path d="M481 695 L481 693 L481 691 L483 692 L484 693 L484 695 L484 697" stroke="#402010"/><path d="M486 690 L484 691 L483 692 L482 694 L480 694 L480 696 L481 698" stroke="#605030"/><path d="M484 702 L484 700 L482 699 L481 697 L480 696 L480 694 L479 693" stroke="#402010"/><path d="M477 704 L477 703 L477 701 L477 699 L475 698 L474 698 L472 699" stroke="#503020"/><path d="M487 693 L486 695 L488 696 L488 697 L487 699 L487 701 L488 703" stroke="#605030"/><path d="M486 691 L486 693 L484 694 L484 696 L482 697 L482 698 L483 700" stroke="#605030"/><path d="M484 693 L486 694 L487 695 L488 697 L489 698 L490 699 L492 699" stroke="#2a1a10"/><path d="M474 712 L472 713 L473 715 L475 715 L476 717 L477 718 L479 718" stroke="#503020"/><path d="M483 688 L481 687 L480 687 L479 686 L477 685 L476 684 L476 682" stroke="#402010"/><path d="M483 705 L484 705 L485 703 L485 702 L484 700 L485 699 L486 697" stroke="#503020"/><path d="M478 699 L479 700 L477 702 L477 703 L479 704 L481 704 L483 704" stroke="#2a1a10"/><path d="M481 704 L482 703 L483 701 L485 701 L485 699 L484 697 L486 696" stroke="#605030"/><path d="M489 687 L491 688 L493 688 L494 689 L496 689 L497 688 L499 689" stroke="#503020"/><path d="M488 702 L488 703 L486 704 L485 705 L484 707 L484 708 L484 710" stroke="#402010"/><path d="M484 700 L485 699 L485 697 L483 696 L483 695 L483 693 L485 692" stroke="#2a1a10"/><path d="M475 706 L474 705 L475 703 L473 702 L473 700 L472 699 L472 698" stroke="#402010"/><path d="M481 709 L480 709 L478 710 L479 711 L480 712 L482 711 L484 710" stroke="#605030"/><path d="M484 705 L484 703 L483 702 L481 701 L480 702 L479 703 L479 705" stroke="#605030"/><path d="M482 714 L482 712 L483 711 L485 710 L485 708 L484 707 L483 705" stroke="#2a1a10"/><path d="M475 701 L474 700 L474 698 L475 697 L476 696 L478 696 L480 696" stroke="#605030"/><path d="M489 693 L489 694 L491 695 L493 695 L494 696 L495 697 L494 699" stroke="#503020"/><path d="M483 712 L484 712 L486 711 L488 711 L489 711 L491 710 L491 708" stroke="#402010"/><path d="M475 717 L476 716 L477 714 L478 713 L476 711 L476 710 L477 708" stroke="#2a1a10"/><path d="M477 717 L476 716 L474 716 L474 714 L472 713 L471 713 L471 715" stroke="#605030"/><path d="M477 714 L477 712 L478 711 L480 710 L481 712 L483 711 L483 710" stroke="#2a1a10"/><path d="M484 701 L483 700 L482 698 L482 696 L481 695 L479 694 L477 695" stroke="#605030"/><path d="M494 696 L492 695 L491 694 L489 695 L488 694 L489 692 L488 690" stroke="#402010"/><path d="M494 687 L492 687 L491 688 L489 688 L487 688 L486 689 L485 691" stroke="#605030"/><path d="M484 694 L485 696 L487 695 L488 694 L489 693 L491 694 L493 695" stroke="#605030"/><path d="M486 711 L484 711 L482 712 L481 713 L480 715 L480 716 L480 718" stroke="#503020"/><path d="M495 688 L496 687 L496 685 L498 685 L499 687 L500 689 L499 690" stroke="#605030"/><path d="M489 689 L487 691 L486 691 L484 691 L483 692 L481 692 L479 691" stroke="#2a1a10"/><path d="M487 697 L488 696 L489 695 L491 695 L493 695 L495 695 L496 697" stroke="#605030"/><path d="M480 715 L478 715 L476 715 L475 717 L475 719 L474 720 L473 721" stroke="#2a1a10"/><path d="M494 691 L495 690 L497 689 L498 688 L498 686 L499 685 L500 683" stroke="#605030"/><path d="M477 710 L477 708 L477 706 L475 706 L473 705 L472 704 L471 702" stroke="#605030"/><path d="M475 712 L474 714 L475 715 L474 717 L473 718 L471 719 L470 718" stroke="#2a1a10"/><path d="M491 692 L493 693 L492 695 L491 695 L489 696 L490 698 L488 699" stroke="#402010"/><path d="M475 709 L474 710 L474 712 L473 713 L471 712 L470 713 L470 715" stroke="#402010"/><path d="M486 701 L485 701 L483 701 L482 703 L481 704 L481 706 L481 708" stroke="#402010"/><path d="M490 698 L488 699 L486 700 L485 699 L483 699 L481 700 L479 700" stroke="#402010"/><path d="M476 716 L477 714 L479 713 L480 713 L482 711 L484 712 L485 712" stroke="#605030"/><path d="M484 691 L483 691 L481 692 L480 693 L480 695 L479 697 L478 697" stroke="#503020"/><path d="M489 706 L490 704 L491 703 L493 703 L494 705 L493 706 L494 708" stroke="#503020"/><path d="M482 696 L480 695 L478 696 L477 695 L475 694 L474 695 L472 694" stroke="#2a1a10"/><path d="M482 711 L484 713 L485 714 L486 715 L487 716 L489 716 L491 715" stroke="#2a1a10"/><path d="M494 698 L493 697 L494 695 L495 695 L497 696 L496 698 L495 699" stroke="#503020"/><path d="M478 700 L479 701 L480 703 L481 704 L481 705 L482 707 L484 708" stroke="#402010"/><path d="M478 698 L479 699 L481 700 L482 700 L482 698 L480 698 L479 697" stroke="#605030"/><path d="M491 691 L492 692 L492 694 L494 695 L494 696 L496 697 L497 695" stroke="#503020"/><path d="M482 713 L484 713 L485 713 L487 713 L489 713 L489 711 L489 709" stroke="#605030"/><path d="M473 711 L472 712 L472 714 L471 714 L471 716 L473 717 L474 718" stroke="#605030"/><path d="M486 707 L487 708 L489 708 L490 710 L489 711 L489 713 L489 714" stroke="#402010"/><path d="M481 694 L479 694 L477 694 L476 696 L475 697 L474 698 L474 700" stroke="#605030"/><path d="M484 687 L485 688 L487 688 L489 689 L490 689 L492 688 L493 687" stroke="#2a1a10"/><path d="M482 691 L480 691 L478 691 L478 693 L478 695 L477 697 L478 698" stroke="#605030"/><path d="M492 685 L492 687 L492 688 L491 690 L489 690 L487 691 L486 691" stroke="#605030"/><path d="M490 698 L490 700 L488 701 L487 700 L485 701 L483 700 L481 700" stroke="#402010"/><path d="M483 699 L481 700 L480 701 L478 700 L477 699 L475 699 L473 699" stroke="#402010"/><path d="M489 703 L490 704 L490 706 L489 707 L488 708 L486 706 L486 705" stroke="#2a1a10"/><path d="M490 684 L491 685 L493 686 L493 687 L493 689 L495 690 L496 691" stroke="#2a1a10"/><path d="M490 689 L489 690 L487 689 L486 691 L485 690 L485 688 L487 688" stroke="#2a1a10"/><path d="M484 688 L486 688 L487 688 L489 688 L491 688 L492 687 L494 687" stroke="#2a1a10"/><path d="M477 700 L479 700 L480 699 L482 699 L483 698 L484 697 L485 695" stroke="#402010"/><path d="M490 703 L488 702 L488 700 L490 698 L490 697 L491 695 L492 694" stroke="#402010"/><path d="M478 714 L476 714 L475 715 L474 717 L475 718 L474 720 L473 721" stroke="#2a1a10"/><path d="M477 711 L478 710 L480 709 L481 711 L483 711 L484 712 L486 712" stroke="#2a1a10"/><path d="M489 699 L491 698 L491 696 L491 695 L490 693 L492 692 L492 690" stroke="#605030"/><path d="M484 708 L482 708 L480 708 L480 710 L479 712 L480 713 L482 713" stroke="#402010"/><path d="M490 704 L490 705 L489 707 L488 708 L488 710 L486 711 L486 713" stroke="#605030"/><path d="M486 700 L488 701 L489 699 L491 699 L492 700 L493 698 L493 697" stroke="#402010"/><path d="M478 703 L477 702 L475 703 L473 703 L472 705 L473 706 L474 707" stroke="#2a1a10"/><path d="M478 698 L480 699 L482 699 L482 701 L482 702 L483 703 L485 702" stroke="#2a1a10"/><path d="M478 716 L479 717 L479 719 L477 720 L477 721 L475 721 L474 722" stroke="#402010"/><path d="M481 699 L483 701 L484 701 L486 702 L488 702 L489 700 L489 698" stroke="#605030"/><path d="M480 699 L478 698 L477 696 L476 697 L475 699 L475 701 L473 701" stroke="#605030"/><path d="M490 704 L490 706 L490 708 L489 709 L487 710 L486 712 L487 713" stroke="#2a1a10"/><path d="M489 707 L488 706 L486 706 L486 708 L485 709 L483 709 L482 708" stroke="#402010"/><path d="M491 700 L490 701 L488 702 L486 701 L485 700 L484 699 L485 698" stroke="#2a1a10"/><path d="M479 706 L480 707 L481 709 L482 710 L484 711 L485 711 L487 711" stroke="#605030"/><path d="M489 685 L488 687 L488 688 L489 690 L489 691 L489 693 L489 695" stroke="#402010"/><path d="M481 710 L482 712 L483 713 L483 715 L484 717 L482 718 L481 719" stroke="#503020"/><path d="M490 686 L491 687 L493 688 L494 688 L495 690 L496 691 L496 693" stroke="#2a1a10"/><path d="M491 702 L490 703 L489 705 L490 706 L491 707 L493 707 L495 708" stroke="#2a1a10"/><path d="M489 686 L488 686 L487 688 L485 688 L483 688 L483 686 L481 686" stroke="#402010"/><path d="M485 711 L485 709 L486 708 L487 706 L486 704 L485 703 L483 702" stroke="#503020"/><path d="M494 694 L492 694 L491 692 L489 693 L488 692 L486 691 L487 689" stroke="#2a1a10"/><path d="M489 685 L488 687 L488 688 L488 690 L490 690 L491 691 L493 689" stroke="#605030"/><path d="M480 701 L481 700 L479 698 L478 699 L477 700 L475 700 L475 698" stroke="#402010"/><path d="M475 716 L475 714 L476 713 L476 711 L475 710 L473 711 L472 712" stroke="#605030"/><path d="M488 693 L486 693 L485 691 L485 690 L486 688 L487 687 L489 686" stroke="#2a1a10"/><path d="M480 706 L482 706 L483 705 L483 703 L483 701 L483 699 L482 698" stroke="#2a1a10"/><path d="M488 701 L486 701 L485 702 L485 704 L485 706 L487 707 L486 709" stroke="#402010"/><path d="M473 714 L475 714 L477 714 L478 712 L479 711 L481 710 L481 708" stroke="#2a1a10"/><path d="M478 712 L476 712 L474 713 L472 713 L471 713 L469 712 L468 713" stroke="#503020"/><path d="M485 700 L483 699 L483 698 L481 697 L480 698 L479 700 L477 700" stroke="#2a1a10"/><path d="M486 696 L485 697 L485 699 L486 700 L488 701 L489 702 L491 702" stroke="#402010"/><path d="M478 699 L477 701 L475 701 L474 701 L474 699 L475 697 L474 695" stroke="#503020"/><path d="M475 717 L475 718 L473 719 L473 721 L472 722 L473 724 L474 723" stroke="#402010"/><path d="M490 694 L488 694 L487 696 L485 697 L484 697 L482 697 L481 699" stroke="#2a1a10"/><path d="M478 714 L480 714 L481 713 L481 711 L482 710 L481 708 L480 707" stroke="#605030"/></g></g><g fill="none" stroke-width="0.5" opacity="0.8" stroke-linejoin="round"><path d="M434 690 L435 688 L435 686 L434 684 L433 682 L434 681 L434 679" stroke="#4060b0"/><path d="M438 691 L436 692 L435 694 L433 694 L432 695 L430 695 L428 695" stroke="#3050a0"/><path d="M441 689 L441 691 L443 692 L445 692 L446 690 L445 688 L446 687" stroke="#4060b0"/><path d="M441 691 L441 690 L441 688 L443 687 L445 687 L447 687 L449 687" stroke="#3050a0"/><path d="M444 688 L442 687 L441 686 L439 684 L437 684 L436 685 L436 687" stroke="#3050a0"/><path d="M436 685 L438 686 L438 688 L439 690 L439 692 L437 693 L437 695" stroke="#4060b0"/><path d="M439 688 L437 688 L437 690 L436 692 L437 694 L436 695 L434 695" stroke="#3050a0"/><path d="M441 688 L441 690 L440 691 L439 693 L437 692 L436 694 L434 695" stroke="#4060b0"/><path d="M447 686 L448 688 L448 690 L449 692 L451 693 L452 693 L454 692" stroke="#4060b0"/><path d="M440 688 L442 688 L443 687 L445 688 L446 689 L448 689 L449 687" stroke="#4060b0"/><path d="M435 686 L433 684 L433 683 L434 681 L433 679 L435 678 L437 677" stroke="#3050a0"/><path d="M440 691 L439 693 L437 692 L435 692 L434 690 L433 689 L433 687" stroke="#3050a0"/><path d="M440 687 L441 688 L443 687 L445 688 L447 686 L447 684 L447 682" stroke="#4060b0"/><path d="M443 688 L442 690 L442 692 L441 693 L442 695 L444 695 L445 697" stroke="#4060b0"/><path d="M445 690 L443 689 L444 687 L443 685 L441 685 L439 686 L438 684" stroke="#3050a0"/><path d="M433 689 L435 689 L437 689 L438 687 L440 688 L440 690 L442 690" stroke="#4060b0"/><path d="M439 691 L438 691 L437 693 L437 695 L439 696 L440 698 L441 699" stroke="#3050a0"/><path d="M438 685 L440 686 L442 685 L443 686 L445 687 L447 685 L447 683" stroke="#4060b0"/><path d="M447 688 L448 686 L450 686 L451 684 L451 682 L452 680 L454 680" stroke="#4060b0"/><path d="M436 690 L437 692 L436 694 L436 696 L435 697 L435 699 L433 701" stroke="#3050a0"/></g></g>
<g fill="none" stroke-width="0.35" opacity="0.4" stroke-linejoin="round"><path d="M553 711 L557 709 L561 708 L565 708 L568 709 L571 712" stroke="#707070"/><path d="M519 728 L516 732 L515 735 L512 738 L510 741 L508 745" stroke="#606060"/><path d="M541 715 L537 716 L534 719 L531 722 L528 725 L526 728" stroke="#807060"/><path d="M548 725 L552 723 L556 722 L560 722 L563 721 L566 718" stroke="#707070"/><path d="M546 746 L547 742 L547 738 L547 734 L547 730 L549 727" stroke="#606060"/><path d="M515 728 L517 725 L519 722 L521 718 L522 714 L524 711" stroke="#606060"/><path d="M516 719 L518 723 L520 726 L522 730 L523 734 L522 738" stroke="#606060"/><path d="M539 708 L535 709 L531 708 L527 706 L525 703 L521 701" stroke="#707070"/><path d="M537 705 L536 709 L534 713 L531 716 L529 718 L526 721" stroke="#606060"/><path d="M559 734 L555 734 L551 733 L548 732 L544 732 L540 733" stroke="#707070"/><path d="M559 726 L562 729 L565 731 L568 733 L572 736 L576 736" stroke="#606060"/><path d="M531 724 L528 725 L524 727 L520 727 L516 727 L512 726" stroke="#807060"/><path d="M545 730 L549 729 L553 727 L557 728 L560 729 L564 731" stroke="#807060"/><path d="M553 708 L555 705 L557 701 L560 699 L562 695 L562 691" stroke="#606060"/><path d="M538 736 L535 733 L531 732 L529 729 L526 726 L523 723" stroke="#707070"/><path d="M552 728 L555 730 L558 733 L560 736 L563 739 L567 741" stroke="#807060"/><path d="M548 737 L552 738 L556 739 L559 741 L562 744 L563 748" stroke="#606060"/><path d="M549 725 L550 729 L552 732 L552 736 L553 740 L553 744" stroke="#807060"/><path d="M545 714 L549 715 L552 716 L556 716 L560 718 L564 719" stroke="#707070"/><path d="M562 715 L562 719 L565 722 L568 725 L571 728 L572 731" stroke="#606060"/><path d="M554 710 L554 714 L552 718 L551 722 L550 726 L552 729" stroke="#606060"/><path d="M546 728 L550 728 L554 729 L558 730 L562 731 L565 734" stroke="#606060"/><path d="M551 730 L553 733 L556 736 L558 740 L560 743 L561 747" stroke="#606060"/><path d="M541 714 L541 718 L541 722 L540 726 L538 729 L536 733" stroke="#606060"/><path d="M526 754 L526 758 L527 762 L526 766 L527 770 L530 773" stroke="#606060"/><path d="M549 715 L550 719 L548 723 L547 727 L544 730 L541 733" stroke="#606060"/><path d="M524 718 L521 720 L517 721 L513 721 L509 721 L506 719" stroke="#606060"/><path d="M555 720 L551 721 L548 723 L544 723 L541 726 L538 729" stroke="#707070"/><path d="M544 748 L546 752 L548 755 L551 758 L554 760 L556 764" stroke="#707070"/><path d="M559 749 L555 750 L551 749 L547 748 L543 748 L540 746" stroke="#807060"/><path d="M546 738 L550 736 L553 733 L556 731 L558 728 L559 724" stroke="#707070"/><path d="M532 724 L528 723 L524 722 L520 722 L516 722 L512 721" stroke="#807060"/><path d="M559 738 L557 741 L553 743 L550 745 L548 748 L545 751" stroke="#707070"/><path d="M547 744 L543 743 L539 744 L536 744 L532 743 L529 741" stroke="#707070"/><path d="M515 731 L515 735 L514 739 L514 743 L516 747 L519 749" stroke="#606060"/><path d="M556 729 L556 725 L555 721 L554 717 L552 714 L550 710" stroke="#807060"/><path d="M559 739 L556 740 L552 741 L548 742 L544 742 L540 741" stroke="#606060"/><path d="M566 720 L566 716 L569 712 L572 710 L576 709 L578 705" stroke="#606060"/><path d="M537 744 L533 746 L530 748 L526 750 L522 750 L518 750" stroke="#807060"/><path d="M515 730 L514 734 L514 738 L515 741 L518 745 L519 748" stroke="#707070"/><path d="M519 734 L517 737 L514 740 L511 742 L508 746 L506 749" stroke="#807060"/><path d="M556 746 L553 748 L549 750 L545 751 L541 751 L537 750" stroke="#707070"/><path d="M553 728 L557 728 L561 729 L565 729 L568 728 L572 727" stroke="#606060"/><path d="M534 745 L538 743 L540 740 L544 738 L547 736 L551 734" stroke="#707070"/><path d="M532 704 L532 700 L532 696 L533 693 L532 689 L532 685" stroke="#807060"/><path d="M522 725 L525 722 L526 718 L526 714 L524 711 L521 708" stroke="#707070"/><path d="M519 718 L515 717 L511 717 L508 715 L504 713 L502 710" stroke="#707070"/><path d="M529 721 L533 718 L535 715 L536 711 L537 707 L538 703" stroke="#707070"/><path d="M533 739 L534 735 L537 732 L538 728 L537 724 L539 720" stroke="#707070"/><path d="M532 748 L531 744 L529 741 L528 737 L528 733 L527 729" stroke="#707070"/></g>
</svg></body></html>
